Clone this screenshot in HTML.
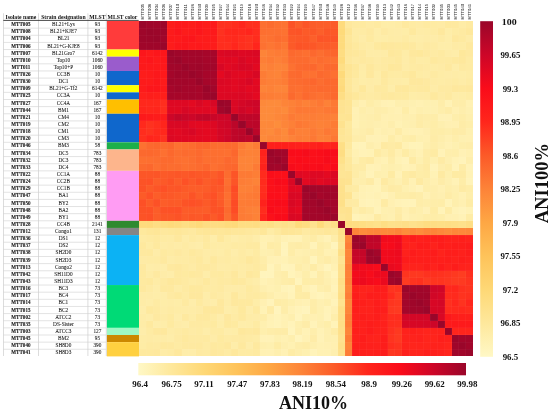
<!DOCTYPE html>
<html><head><meta charset="utf-8"><title>ANI heatmap</title>
<style>html,body{margin:0;padding:0;background:#fff;width:550px;height:414px;overflow:hidden}svg{display:block}</style>
</head><body>
<svg width="550" height="414" viewBox="0 0 550 414" shape-rendering="crispEdges">
<defs><linearGradient id="gv" x1="0" y1="1" x2="0" y2="0"><stop offset="0.0000" stop-color="#fff8c6"/><stop offset="0.1000" stop-color="#fee89c"/><stop offset="0.2000" stop-color="#fed876"/><stop offset="0.3000" stop-color="#fec35a"/><stop offset="0.4000" stop-color="#fea744"/><stop offset="0.5000" stop-color="#fd8338"/><stop offset="0.6000" stop-color="#fc5a28"/><stop offset="0.7000" stop-color="#ff261c"/><stop offset="0.8000" stop-color="#fa0c1a"/><stop offset="0.9000" stop-color="#cd0628"/><stop offset="1.0000" stop-color="#9a062a"/></linearGradient><linearGradient id="gh" x1="0" y1="0" x2="1" y2="0"><stop offset="0.0000" stop-color="#fff8c6"/><stop offset="0.1000" stop-color="#fee89c"/><stop offset="0.2000" stop-color="#fed876"/><stop offset="0.3000" stop-color="#fec35a"/><stop offset="0.4000" stop-color="#fea744"/><stop offset="0.5000" stop-color="#fd8338"/><stop offset="0.6000" stop-color="#fc5a28"/><stop offset="0.7000" stop-color="#ff261c"/><stop offset="0.8000" stop-color="#fa0c1a"/><stop offset="0.9000" stop-color="#cd0628"/><stop offset="1.0000" stop-color="#9a062a"/></linearGradient></defs>
<g><rect x="138.90" y="21.00" width="7.16" height="7.19" fill="#9a062a"/>
<rect x="146.01" y="21.00" width="7.16" height="7.19" fill="#9f062a"/>
<rect x="153.12" y="21.00" width="7.16" height="7.19" fill="#a0062a"/>
<rect x="160.23" y="21.00" width="7.16" height="7.19" fill="#9d062a"/>
<rect x="167.34" y="21.00" width="7.16" height="7.19" fill="#fd1d1b"/>
<rect x="174.45" y="21.00" width="7.16" height="7.19" fill="#fd191b"/>
<rect x="181.56" y="21.00" width="7.16" height="7.19" fill="#fd1a1b"/>
<rect x="188.67" y="21.00" width="7.16" height="7.19" fill="#fd1d1b"/>
<rect x="195.79" y="21.00" width="7.16" height="7.19" fill="#fd191b"/>
<rect x="202.90" y="21.00" width="7.16" height="7.19" fill="#fd1d1b"/>
<rect x="210.01" y="21.00" width="7.16" height="7.19" fill="#fd1a1b"/>
<rect x="217.12" y="21.00" width="7.16" height="7.19" fill="#fe311f"/>
<rect x="224.23" y="21.00" width="7.16" height="7.19" fill="#fe311e"/>
<rect x="231.34" y="21.00" width="7.16" height="7.19" fill="#ff2c1d"/>
<rect x="238.45" y="21.00" width="7.16" height="7.19" fill="#ff261c"/>
<rect x="245.56" y="21.00" width="7.16" height="7.19" fill="#fe301e"/>
<rect x="252.67" y="21.00" width="7.16" height="7.19" fill="#ff2f1e"/>
<rect x="259.78" y="21.00" width="7.16" height="7.19" fill="#fd7031"/>
<rect x="266.89" y="21.00" width="7.16" height="7.19" fill="#fc6c2f"/>
<rect x="274.00" y="21.00" width="7.16" height="7.19" fill="#fd7131"/>
<rect x="281.11" y="21.00" width="7.16" height="7.19" fill="#fd7332"/>
<rect x="288.22" y="21.00" width="7.16" height="7.19" fill="#fc5326"/>
<rect x="295.33" y="21.00" width="7.16" height="7.19" fill="#fc5f2a"/>
<rect x="302.44" y="21.00" width="7.16" height="7.19" fill="#fc5527"/>
<rect x="309.56" y="21.00" width="7.16" height="7.19" fill="#fc5c29"/>
<rect x="316.67" y="21.00" width="7.16" height="7.19" fill="#fc5e2a"/>
<rect x="323.78" y="21.00" width="7.16" height="7.19" fill="#fc5e2a"/>
<rect x="330.89" y="21.00" width="7.16" height="7.19" fill="#fc5c29"/>
<rect x="338.00" y="21.00" width="7.16" height="7.19" fill="#fedb7d"/>
<rect x="345.11" y="21.00" width="7.16" height="7.19" fill="#fee89d"/>
<rect x="352.22" y="21.00" width="7.16" height="7.19" fill="#feeaa1"/>
<rect x="359.33" y="21.00" width="7.16" height="7.19" fill="#feeaa0"/>
<rect x="366.44" y="21.00" width="7.16" height="7.19" fill="#feeba4"/>
<rect x="373.55" y="21.00" width="7.16" height="7.19" fill="#feeaa1"/>
<rect x="380.66" y="21.00" width="7.16" height="7.19" fill="#feeda8"/>
<rect x="387.77" y="21.00" width="7.16" height="7.19" fill="#feeda8"/>
<rect x="394.88" y="21.00" width="7.16" height="7.19" fill="#feeca6"/>
<rect x="401.99" y="21.00" width="7.16" height="7.19" fill="#fee99f"/>
<rect x="409.10" y="21.00" width="7.16" height="7.19" fill="#feeba3"/>
<rect x="416.21" y="21.00" width="7.16" height="7.19" fill="#feeba5"/>
<rect x="423.33" y="21.00" width="7.16" height="7.19" fill="#feeaa1"/>
<rect x="430.44" y="21.00" width="7.16" height="7.19" fill="#feeba3"/>
<rect x="437.55" y="21.00" width="7.16" height="7.19" fill="#feeba5"/>
<rect x="444.66" y="21.00" width="7.16" height="7.19" fill="#fee99e"/>
<rect x="451.77" y="21.00" width="7.16" height="7.19" fill="#fee99f"/>
<rect x="458.88" y="21.00" width="7.16" height="7.19" fill="#feeca6"/>
<rect x="465.99" y="21.00" width="7.16" height="7.19" fill="#feeaa1"/>
<rect x="138.90" y="28.14" width="7.16" height="7.19" fill="#9e062a"/>
<rect x="146.01" y="28.14" width="7.16" height="7.19" fill="#9a062a"/>
<rect x="153.12" y="28.14" width="7.16" height="7.19" fill="#9c062a"/>
<rect x="160.23" y="28.14" width="7.16" height="7.19" fill="#9d062a"/>
<rect x="167.34" y="28.14" width="7.16" height="7.19" fill="#fd1b1b"/>
<rect x="174.45" y="28.14" width="7.16" height="7.19" fill="#fc161b"/>
<rect x="181.56" y="28.14" width="7.16" height="7.19" fill="#fd1c1b"/>
<rect x="188.67" y="28.14" width="7.16" height="7.19" fill="#fd1a1b"/>
<rect x="195.79" y="28.14" width="7.16" height="7.19" fill="#fc171b"/>
<rect x="202.90" y="28.14" width="7.16" height="7.19" fill="#fd1c1b"/>
<rect x="210.01" y="28.14" width="7.16" height="7.19" fill="#fd191b"/>
<rect x="217.12" y="28.14" width="7.16" height="7.19" fill="#fe311f"/>
<rect x="224.23" y="28.14" width="7.16" height="7.19" fill="#ff281c"/>
<rect x="231.34" y="28.14" width="7.16" height="7.19" fill="#ff271c"/>
<rect x="238.45" y="28.14" width="7.16" height="7.19" fill="#ff291d"/>
<rect x="245.56" y="28.14" width="7.16" height="7.19" fill="#ff251c"/>
<rect x="252.67" y="28.14" width="7.16" height="7.19" fill="#ff2d1e"/>
<rect x="259.78" y="28.14" width="7.16" height="7.19" fill="#fd6f30"/>
<rect x="266.89" y="28.14" width="7.16" height="7.19" fill="#fd7031"/>
<rect x="274.00" y="28.14" width="7.16" height="7.19" fill="#fd7031"/>
<rect x="281.11" y="28.14" width="7.16" height="7.19" fill="#fd7231"/>
<rect x="288.22" y="28.14" width="7.16" height="7.19" fill="#fc5527"/>
<rect x="295.33" y="28.14" width="7.16" height="7.19" fill="#fc5326"/>
<rect x="302.44" y="28.14" width="7.16" height="7.19" fill="#fc5a28"/>
<rect x="309.56" y="28.14" width="7.16" height="7.19" fill="#fc5827"/>
<rect x="316.67" y="28.14" width="7.16" height="7.19" fill="#fc5f2a"/>
<rect x="323.78" y="28.14" width="7.16" height="7.19" fill="#fc5727"/>
<rect x="330.89" y="28.14" width="7.16" height="7.19" fill="#fc5827"/>
<rect x="338.00" y="28.14" width="7.16" height="7.19" fill="#feda7a"/>
<rect x="345.11" y="28.14" width="7.16" height="7.19" fill="#fee595"/>
<rect x="352.22" y="28.14" width="7.16" height="7.19" fill="#feeba5"/>
<rect x="359.33" y="28.14" width="7.16" height="7.19" fill="#feeba4"/>
<rect x="366.44" y="28.14" width="7.16" height="7.19" fill="#fee9a0"/>
<rect x="373.55" y="28.14" width="7.16" height="7.19" fill="#feeda9"/>
<rect x="380.66" y="28.14" width="7.16" height="7.19" fill="#feeaa3"/>
<rect x="387.77" y="28.14" width="7.16" height="7.19" fill="#feeca7"/>
<rect x="394.88" y="28.14" width="7.16" height="7.19" fill="#feeca8"/>
<rect x="401.99" y="28.14" width="7.16" height="7.19" fill="#feeda8"/>
<rect x="409.10" y="28.14" width="7.16" height="7.19" fill="#fee99e"/>
<rect x="416.21" y="28.14" width="7.16" height="7.19" fill="#feeca7"/>
<rect x="423.33" y="28.14" width="7.16" height="7.19" fill="#feeca6"/>
<rect x="430.44" y="28.14" width="7.16" height="7.19" fill="#feeba4"/>
<rect x="437.55" y="28.14" width="7.16" height="7.19" fill="#fee89d"/>
<rect x="444.66" y="28.14" width="7.16" height="7.19" fill="#feeda8"/>
<rect x="451.77" y="28.14" width="7.16" height="7.19" fill="#feeba3"/>
<rect x="458.88" y="28.14" width="7.16" height="7.19" fill="#feeaa1"/>
<rect x="465.99" y="28.14" width="7.16" height="7.19" fill="#fee89c"/>
<rect x="138.90" y="35.27" width="7.16" height="7.19" fill="#9d062a"/>
<rect x="146.01" y="35.27" width="7.16" height="7.19" fill="#9c062a"/>
<rect x="153.12" y="35.27" width="7.16" height="7.19" fill="#9a062a"/>
<rect x="160.23" y="35.27" width="7.16" height="7.19" fill="#a0062a"/>
<rect x="167.34" y="35.27" width="7.16" height="7.19" fill="#fd1a1b"/>
<rect x="174.45" y="35.27" width="7.16" height="7.19" fill="#fd1a1b"/>
<rect x="181.56" y="35.27" width="7.16" height="7.19" fill="#fc171b"/>
<rect x="188.67" y="35.27" width="7.16" height="7.19" fill="#fc161b"/>
<rect x="195.79" y="35.27" width="7.16" height="7.19" fill="#fd1c1b"/>
<rect x="202.90" y="35.27" width="7.16" height="7.19" fill="#fd1c1b"/>
<rect x="210.01" y="35.27" width="7.16" height="7.19" fill="#fd1b1b"/>
<rect x="217.12" y="35.27" width="7.16" height="7.19" fill="#ff2e1e"/>
<rect x="224.23" y="35.27" width="7.16" height="7.19" fill="#ff2b1d"/>
<rect x="231.34" y="35.27" width="7.16" height="7.19" fill="#ff291d"/>
<rect x="238.45" y="35.27" width="7.16" height="7.19" fill="#ff2e1e"/>
<rect x="245.56" y="35.27" width="7.16" height="7.19" fill="#fe321f"/>
<rect x="252.67" y="35.27" width="7.16" height="7.19" fill="#ff2c1d"/>
<rect x="259.78" y="35.27" width="7.16" height="7.19" fill="#fd7332"/>
<rect x="266.89" y="35.27" width="7.16" height="7.19" fill="#fd7131"/>
<rect x="274.00" y="35.27" width="7.16" height="7.19" fill="#fc6c2f"/>
<rect x="281.11" y="35.27" width="7.16" height="7.19" fill="#fd6f30"/>
<rect x="288.22" y="35.27" width="7.16" height="7.19" fill="#fc5a28"/>
<rect x="295.33" y="35.27" width="7.16" height="7.19" fill="#fc5828"/>
<rect x="302.44" y="35.27" width="7.16" height="7.19" fill="#fc5727"/>
<rect x="309.56" y="35.27" width="7.16" height="7.19" fill="#fc5f2a"/>
<rect x="316.67" y="35.27" width="7.16" height="7.19" fill="#fc5427"/>
<rect x="323.78" y="35.27" width="7.16" height="7.19" fill="#fc5627"/>
<rect x="330.89" y="35.27" width="7.16" height="7.19" fill="#fc5427"/>
<rect x="338.00" y="35.27" width="7.16" height="7.19" fill="#fedb7d"/>
<rect x="345.11" y="35.27" width="7.16" height="7.19" fill="#fee79a"/>
<rect x="352.22" y="35.27" width="7.16" height="7.19" fill="#feeba3"/>
<rect x="359.33" y="35.27" width="7.16" height="7.19" fill="#feeca8"/>
<rect x="366.44" y="35.27" width="7.16" height="7.19" fill="#feeaa0"/>
<rect x="373.55" y="35.27" width="7.16" height="7.19" fill="#feeda8"/>
<rect x="380.66" y="35.27" width="7.16" height="7.19" fill="#feeda8"/>
<rect x="387.77" y="35.27" width="7.16" height="7.19" fill="#feeca6"/>
<rect x="394.88" y="35.27" width="7.16" height="7.19" fill="#feeca7"/>
<rect x="401.99" y="35.27" width="7.16" height="7.19" fill="#feeba4"/>
<rect x="409.10" y="35.27" width="7.16" height="7.19" fill="#feeda8"/>
<rect x="416.21" y="35.27" width="7.16" height="7.19" fill="#feeda9"/>
<rect x="423.33" y="35.27" width="7.16" height="7.19" fill="#feeca7"/>
<rect x="430.44" y="35.27" width="7.16" height="7.19" fill="#feeca8"/>
<rect x="437.55" y="35.27" width="7.16" height="7.19" fill="#feeba4"/>
<rect x="444.66" y="35.27" width="7.16" height="7.19" fill="#feeda9"/>
<rect x="451.77" y="35.27" width="7.16" height="7.19" fill="#fee89d"/>
<rect x="458.88" y="35.27" width="7.16" height="7.19" fill="#feeaa0"/>
<rect x="465.99" y="35.27" width="7.16" height="7.19" fill="#feeca7"/>
<rect x="138.90" y="42.41" width="7.16" height="7.19" fill="#a0062a"/>
<rect x="146.01" y="42.41" width="7.16" height="7.19" fill="#9f062a"/>
<rect x="153.12" y="42.41" width="7.16" height="7.19" fill="#9f062a"/>
<rect x="160.23" y="42.41" width="7.16" height="7.19" fill="#9a062a"/>
<rect x="167.34" y="42.41" width="7.16" height="7.19" fill="#fd1c1b"/>
<rect x="174.45" y="42.41" width="7.16" height="7.19" fill="#fc171b"/>
<rect x="181.56" y="42.41" width="7.16" height="7.19" fill="#fc161b"/>
<rect x="188.67" y="42.41" width="7.16" height="7.19" fill="#fd1a1b"/>
<rect x="195.79" y="42.41" width="7.16" height="7.19" fill="#fd191b"/>
<rect x="202.90" y="42.41" width="7.16" height="7.19" fill="#fd1c1b"/>
<rect x="210.01" y="42.41" width="7.16" height="7.19" fill="#fd1c1b"/>
<rect x="217.12" y="42.41" width="7.16" height="7.19" fill="#ff2d1e"/>
<rect x="224.23" y="42.41" width="7.16" height="7.19" fill="#ff2e1e"/>
<rect x="231.34" y="42.41" width="7.16" height="7.19" fill="#ff261c"/>
<rect x="238.45" y="42.41" width="7.16" height="7.19" fill="#fe2f1e"/>
<rect x="245.56" y="42.41" width="7.16" height="7.19" fill="#fe321f"/>
<rect x="252.67" y="42.41" width="7.16" height="7.19" fill="#ff251c"/>
<rect x="259.78" y="42.41" width="7.16" height="7.19" fill="#fd7131"/>
<rect x="266.89" y="42.41" width="7.16" height="7.19" fill="#fd7633"/>
<rect x="274.00" y="42.41" width="7.16" height="7.19" fill="#fd7131"/>
<rect x="281.11" y="42.41" width="7.16" height="7.19" fill="#fd7733"/>
<rect x="288.22" y="42.41" width="7.16" height="7.19" fill="#fc5a28"/>
<rect x="295.33" y="42.41" width="7.16" height="7.19" fill="#fc5326"/>
<rect x="302.44" y="42.41" width="7.16" height="7.19" fill="#fc5527"/>
<rect x="309.56" y="42.41" width="7.16" height="7.19" fill="#fc5727"/>
<rect x="316.67" y="42.41" width="7.16" height="7.19" fill="#fc5d29"/>
<rect x="323.78" y="42.41" width="7.16" height="7.19" fill="#fc5c29"/>
<rect x="330.89" y="42.41" width="7.16" height="7.19" fill="#fc5e2a"/>
<rect x="338.00" y="42.41" width="7.16" height="7.19" fill="#fedb7d"/>
<rect x="345.11" y="42.41" width="7.16" height="7.19" fill="#fee698"/>
<rect x="352.22" y="42.41" width="7.16" height="7.19" fill="#fee99e"/>
<rect x="359.33" y="42.41" width="7.16" height="7.19" fill="#feeba4"/>
<rect x="366.44" y="42.41" width="7.16" height="7.19" fill="#feeca6"/>
<rect x="373.55" y="42.41" width="7.16" height="7.19" fill="#fee99e"/>
<rect x="380.66" y="42.41" width="7.16" height="7.19" fill="#fee89b"/>
<rect x="387.77" y="42.41" width="7.16" height="7.19" fill="#fee89d"/>
<rect x="394.88" y="42.41" width="7.16" height="7.19" fill="#fee99e"/>
<rect x="401.99" y="42.41" width="7.16" height="7.19" fill="#fee99d"/>
<rect x="409.10" y="42.41" width="7.16" height="7.19" fill="#fee99f"/>
<rect x="416.21" y="42.41" width="7.16" height="7.19" fill="#feeca6"/>
<rect x="423.33" y="42.41" width="7.16" height="7.19" fill="#feeaa2"/>
<rect x="430.44" y="42.41" width="7.16" height="7.19" fill="#feeba4"/>
<rect x="437.55" y="42.41" width="7.16" height="7.19" fill="#feeda9"/>
<rect x="444.66" y="42.41" width="7.16" height="7.19" fill="#feeda9"/>
<rect x="451.77" y="42.41" width="7.16" height="7.19" fill="#feeba5"/>
<rect x="458.88" y="42.41" width="7.16" height="7.19" fill="#feeca5"/>
<rect x="465.99" y="42.41" width="7.16" height="7.19" fill="#fee99f"/>
<rect x="138.90" y="49.54" width="7.16" height="7.19" fill="#fc161b"/>
<rect x="146.01" y="49.54" width="7.16" height="7.19" fill="#fd1a1b"/>
<rect x="153.12" y="49.54" width="7.16" height="7.19" fill="#fc161b"/>
<rect x="160.23" y="49.54" width="7.16" height="7.19" fill="#fc161b"/>
<rect x="167.34" y="49.54" width="7.16" height="7.19" fill="#9a062a"/>
<rect x="174.45" y="49.54" width="7.16" height="7.19" fill="#9f062a"/>
<rect x="181.56" y="49.54" width="7.16" height="7.19" fill="#a2062a"/>
<rect x="188.67" y="49.54" width="7.16" height="7.19" fill="#a3062a"/>
<rect x="195.79" y="49.54" width="7.16" height="7.19" fill="#a3062a"/>
<rect x="202.90" y="49.54" width="7.16" height="7.19" fill="#a6062a"/>
<rect x="210.01" y="49.54" width="7.16" height="7.19" fill="#a6062a"/>
<rect x="217.12" y="49.54" width="7.16" height="7.19" fill="#dc0823"/>
<rect x="224.23" y="49.54" width="7.16" height="7.19" fill="#d90824"/>
<rect x="231.34" y="49.54" width="7.16" height="7.19" fill="#d90824"/>
<rect x="238.45" y="49.54" width="7.16" height="7.19" fill="#de0823"/>
<rect x="245.56" y="49.54" width="7.16" height="7.19" fill="#dc0823"/>
<rect x="252.67" y="49.54" width="7.16" height="7.19" fill="#da0824"/>
<rect x="259.78" y="49.54" width="7.16" height="7.19" fill="#fd8438"/>
<rect x="266.89" y="49.54" width="7.16" height="7.19" fill="#fd7e36"/>
<rect x="274.00" y="49.54" width="7.16" height="7.19" fill="#fd7b35"/>
<rect x="281.11" y="49.54" width="7.16" height="7.19" fill="#fd7c35"/>
<rect x="288.22" y="49.54" width="7.16" height="7.19" fill="#fc692e"/>
<rect x="295.33" y="49.54" width="7.16" height="7.19" fill="#fc6c2f"/>
<rect x="302.44" y="49.54" width="7.16" height="7.19" fill="#fd6f30"/>
<rect x="309.56" y="49.54" width="7.16" height="7.19" fill="#fc682e"/>
<rect x="316.67" y="49.54" width="7.16" height="7.19" fill="#fc6e30"/>
<rect x="323.78" y="49.54" width="7.16" height="7.19" fill="#fc682d"/>
<rect x="330.89" y="49.54" width="7.16" height="7.19" fill="#fc662d"/>
<rect x="338.00" y="49.54" width="7.16" height="7.19" fill="#fedd82"/>
<rect x="345.11" y="49.54" width="7.16" height="7.19" fill="#fee79a"/>
<rect x="352.22" y="49.54" width="7.16" height="7.19" fill="#fee89c"/>
<rect x="359.33" y="49.54" width="7.16" height="7.19" fill="#fee99f"/>
<rect x="366.44" y="49.54" width="7.16" height="7.19" fill="#feeca7"/>
<rect x="373.55" y="49.54" width="7.16" height="7.19" fill="#feeca7"/>
<rect x="380.66" y="49.54" width="7.16" height="7.19" fill="#feeca7"/>
<rect x="387.77" y="49.54" width="7.16" height="7.19" fill="#fee89c"/>
<rect x="394.88" y="49.54" width="7.16" height="7.19" fill="#fee99e"/>
<rect x="401.99" y="49.54" width="7.16" height="7.19" fill="#feeca7"/>
<rect x="409.10" y="49.54" width="7.16" height="7.19" fill="#fee89d"/>
<rect x="416.21" y="49.54" width="7.16" height="7.19" fill="#fee89b"/>
<rect x="423.33" y="49.54" width="7.16" height="7.19" fill="#fee9a0"/>
<rect x="430.44" y="49.54" width="7.16" height="7.19" fill="#feeba4"/>
<rect x="437.55" y="49.54" width="7.16" height="7.19" fill="#feeaa1"/>
<rect x="444.66" y="49.54" width="7.16" height="7.19" fill="#feeca7"/>
<rect x="451.77" y="49.54" width="7.16" height="7.19" fill="#feeda9"/>
<rect x="458.88" y="49.54" width="7.16" height="7.19" fill="#fee89b"/>
<rect x="465.99" y="49.54" width="7.16" height="7.19" fill="#fee9a0"/>
<rect x="138.90" y="56.68" width="7.16" height="7.19" fill="#fd191b"/>
<rect x="146.01" y="56.68" width="7.16" height="7.19" fill="#fc161b"/>
<rect x="153.12" y="56.68" width="7.16" height="7.19" fill="#fd1a1b"/>
<rect x="160.23" y="56.68" width="7.16" height="7.19" fill="#fc171b"/>
<rect x="167.34" y="56.68" width="7.16" height="7.19" fill="#9f062a"/>
<rect x="174.45" y="56.68" width="7.16" height="7.19" fill="#9a062a"/>
<rect x="181.56" y="56.68" width="7.16" height="7.19" fill="#a3062a"/>
<rect x="188.67" y="56.68" width="7.16" height="7.19" fill="#a3062a"/>
<rect x="195.79" y="56.68" width="7.16" height="7.19" fill="#a2062a"/>
<rect x="202.90" y="56.68" width="7.16" height="7.19" fill="#a6062a"/>
<rect x="210.01" y="56.68" width="7.16" height="7.19" fill="#a4062a"/>
<rect x="217.12" y="56.68" width="7.16" height="7.19" fill="#e10922"/>
<rect x="224.23" y="56.68" width="7.16" height="7.19" fill="#df0822"/>
<rect x="231.34" y="56.68" width="7.16" height="7.19" fill="#e20921"/>
<rect x="238.45" y="56.68" width="7.16" height="7.19" fill="#d80824"/>
<rect x="245.56" y="56.68" width="7.16" height="7.19" fill="#e00822"/>
<rect x="252.67" y="56.68" width="7.16" height="7.19" fill="#de0823"/>
<rect x="259.78" y="56.68" width="7.16" height="7.19" fill="#fd7f36"/>
<rect x="266.89" y="56.68" width="7.16" height="7.19" fill="#fd7b35"/>
<rect x="274.00" y="56.68" width="7.16" height="7.19" fill="#fd8037"/>
<rect x="281.11" y="56.68" width="7.16" height="7.19" fill="#fd7b35"/>
<rect x="288.22" y="56.68" width="7.16" height="7.19" fill="#fc6c2f"/>
<rect x="295.33" y="56.68" width="7.16" height="7.19" fill="#fc6b2f"/>
<rect x="302.44" y="56.68" width="7.16" height="7.19" fill="#fc6b2f"/>
<rect x="309.56" y="56.68" width="7.16" height="7.19" fill="#fd7131"/>
<rect x="316.67" y="56.68" width="7.16" height="7.19" fill="#fc6c2f"/>
<rect x="323.78" y="56.68" width="7.16" height="7.19" fill="#fd6f30"/>
<rect x="330.89" y="56.68" width="7.16" height="7.19" fill="#fd7131"/>
<rect x="338.00" y="56.68" width="7.16" height="7.19" fill="#fedb7d"/>
<rect x="345.11" y="56.68" width="7.16" height="7.19" fill="#fee89d"/>
<rect x="352.22" y="56.68" width="7.16" height="7.19" fill="#feeaa2"/>
<rect x="359.33" y="56.68" width="7.16" height="7.19" fill="#fee99f"/>
<rect x="366.44" y="56.68" width="7.16" height="7.19" fill="#feeaa1"/>
<rect x="373.55" y="56.68" width="7.16" height="7.19" fill="#feeba5"/>
<rect x="380.66" y="56.68" width="7.16" height="7.19" fill="#feeaa2"/>
<rect x="387.77" y="56.68" width="7.16" height="7.19" fill="#feeaa1"/>
<rect x="394.88" y="56.68" width="7.16" height="7.19" fill="#fee99e"/>
<rect x="401.99" y="56.68" width="7.16" height="7.19" fill="#feeca8"/>
<rect x="409.10" y="56.68" width="7.16" height="7.19" fill="#feeaa1"/>
<rect x="416.21" y="56.68" width="7.16" height="7.19" fill="#feeca6"/>
<rect x="423.33" y="56.68" width="7.16" height="7.19" fill="#feeca5"/>
<rect x="430.44" y="56.68" width="7.16" height="7.19" fill="#fee99e"/>
<rect x="437.55" y="56.68" width="7.16" height="7.19" fill="#feeaa2"/>
<rect x="444.66" y="56.68" width="7.16" height="7.19" fill="#feeaa1"/>
<rect x="451.77" y="56.68" width="7.16" height="7.19" fill="#fee99e"/>
<rect x="458.88" y="56.68" width="7.16" height="7.19" fill="#fee89c"/>
<rect x="465.99" y="56.68" width="7.16" height="7.19" fill="#feeba3"/>
<rect x="138.90" y="63.82" width="7.16" height="7.19" fill="#fc191b"/>
<rect x="146.01" y="63.82" width="7.16" height="7.19" fill="#fd191b"/>
<rect x="153.12" y="63.82" width="7.16" height="7.19" fill="#fd191b"/>
<rect x="160.23" y="63.82" width="7.16" height="7.19" fill="#fc181b"/>
<rect x="167.34" y="63.82" width="7.16" height="7.19" fill="#a2062a"/>
<rect x="174.45" y="63.82" width="7.16" height="7.19" fill="#a1062a"/>
<rect x="181.56" y="63.82" width="7.16" height="7.19" fill="#9a062a"/>
<rect x="188.67" y="63.82" width="7.16" height="7.19" fill="#a1062a"/>
<rect x="195.79" y="63.82" width="7.16" height="7.19" fill="#9f062a"/>
<rect x="202.90" y="63.82" width="7.16" height="7.19" fill="#a3062a"/>
<rect x="210.01" y="63.82" width="7.16" height="7.19" fill="#a2062a"/>
<rect x="217.12" y="63.82" width="7.16" height="7.19" fill="#d80725"/>
<rect x="224.23" y="63.82" width="7.16" height="7.19" fill="#e10922"/>
<rect x="231.34" y="63.82" width="7.16" height="7.19" fill="#dd0823"/>
<rect x="238.45" y="63.82" width="7.16" height="7.19" fill="#d80725"/>
<rect x="245.56" y="63.82" width="7.16" height="7.19" fill="#d90824"/>
<rect x="252.67" y="63.82" width="7.16" height="7.19" fill="#e20921"/>
<rect x="259.78" y="63.82" width="7.16" height="7.19" fill="#fd8438"/>
<rect x="266.89" y="63.82" width="7.16" height="7.19" fill="#fd8037"/>
<rect x="274.00" y="63.82" width="7.16" height="7.19" fill="#fd8438"/>
<rect x="281.11" y="63.82" width="7.16" height="7.19" fill="#fd8338"/>
<rect x="288.22" y="63.82" width="7.16" height="7.19" fill="#fd7131"/>
<rect x="295.33" y="63.82" width="7.16" height="7.19" fill="#fc6a2e"/>
<rect x="302.44" y="63.82" width="7.16" height="7.19" fill="#fc682e"/>
<rect x="309.56" y="63.82" width="7.16" height="7.19" fill="#fc672d"/>
<rect x="316.67" y="63.82" width="7.16" height="7.19" fill="#fd7030"/>
<rect x="323.78" y="63.82" width="7.16" height="7.19" fill="#fc692e"/>
<rect x="330.89" y="63.82" width="7.16" height="7.19" fill="#fc6a2e"/>
<rect x="338.00" y="63.82" width="7.16" height="7.19" fill="#fedf86"/>
<rect x="345.11" y="63.82" width="7.16" height="7.19" fill="#fee594"/>
<rect x="352.22" y="63.82" width="7.16" height="7.19" fill="#fee89b"/>
<rect x="359.33" y="63.82" width="7.16" height="7.19" fill="#feeca6"/>
<rect x="366.44" y="63.82" width="7.16" height="7.19" fill="#fee89c"/>
<rect x="373.55" y="63.82" width="7.16" height="7.19" fill="#feeba3"/>
<rect x="380.66" y="63.82" width="7.16" height="7.19" fill="#feeaa2"/>
<rect x="387.77" y="63.82" width="7.16" height="7.19" fill="#fee89b"/>
<rect x="394.88" y="63.82" width="7.16" height="7.19" fill="#fee89d"/>
<rect x="401.99" y="63.82" width="7.16" height="7.19" fill="#feeca7"/>
<rect x="409.10" y="63.82" width="7.16" height="7.19" fill="#feeba3"/>
<rect x="416.21" y="63.82" width="7.16" height="7.19" fill="#feeaa2"/>
<rect x="423.33" y="63.82" width="7.16" height="7.19" fill="#feeba4"/>
<rect x="430.44" y="63.82" width="7.16" height="7.19" fill="#feeca6"/>
<rect x="437.55" y="63.82" width="7.16" height="7.19" fill="#feeba5"/>
<rect x="444.66" y="63.82" width="7.16" height="7.19" fill="#fee99f"/>
<rect x="451.77" y="63.82" width="7.16" height="7.19" fill="#feeda9"/>
<rect x="458.88" y="63.82" width="7.16" height="7.19" fill="#feeaa1"/>
<rect x="465.99" y="63.82" width="7.16" height="7.19" fill="#feeba3"/>
<rect x="138.90" y="70.95" width="7.16" height="7.19" fill="#fd1d1b"/>
<rect x="146.01" y="70.95" width="7.16" height="7.19" fill="#fd1b1b"/>
<rect x="153.12" y="70.95" width="7.16" height="7.19" fill="#fc181b"/>
<rect x="160.23" y="70.95" width="7.16" height="7.19" fill="#fd191b"/>
<rect x="167.34" y="70.95" width="7.16" height="7.19" fill="#a4062a"/>
<rect x="174.45" y="70.95" width="7.16" height="7.19" fill="#9e062a"/>
<rect x="181.56" y="70.95" width="7.16" height="7.19" fill="#a0062a"/>
<rect x="188.67" y="70.95" width="7.16" height="7.19" fill="#9a062a"/>
<rect x="195.79" y="70.95" width="7.16" height="7.19" fill="#9f062a"/>
<rect x="202.90" y="70.95" width="7.16" height="7.19" fill="#a7062a"/>
<rect x="210.01" y="70.95" width="7.16" height="7.19" fill="#a6062a"/>
<rect x="217.12" y="70.95" width="7.16" height="7.19" fill="#e40921"/>
<rect x="224.23" y="70.95" width="7.16" height="7.19" fill="#da0824"/>
<rect x="231.34" y="70.95" width="7.16" height="7.19" fill="#e10922"/>
<rect x="238.45" y="70.95" width="7.16" height="7.19" fill="#e20921"/>
<rect x="245.56" y="70.95" width="7.16" height="7.19" fill="#df0822"/>
<rect x="252.67" y="70.95" width="7.16" height="7.19" fill="#d80824"/>
<rect x="259.78" y="70.95" width="7.16" height="7.19" fill="#fd7c35"/>
<rect x="266.89" y="70.95" width="7.16" height="7.19" fill="#fd8238"/>
<rect x="274.00" y="70.95" width="7.16" height="7.19" fill="#fd8438"/>
<rect x="281.11" y="70.95" width="7.16" height="7.19" fill="#fd7b35"/>
<rect x="288.22" y="70.95" width="7.16" height="7.19" fill="#fc6b2f"/>
<rect x="295.33" y="70.95" width="7.16" height="7.19" fill="#fc692e"/>
<rect x="302.44" y="70.95" width="7.16" height="7.19" fill="#fd7031"/>
<rect x="309.56" y="70.95" width="7.16" height="7.19" fill="#fd7131"/>
<rect x="316.67" y="70.95" width="7.16" height="7.19" fill="#fc692e"/>
<rect x="323.78" y="70.95" width="7.16" height="7.19" fill="#fc6c2f"/>
<rect x="330.89" y="70.95" width="7.16" height="7.19" fill="#fd7131"/>
<rect x="338.00" y="70.95" width="7.16" height="7.19" fill="#feda7b"/>
<rect x="345.11" y="70.95" width="7.16" height="7.19" fill="#fee697"/>
<rect x="352.22" y="70.95" width="7.16" height="7.19" fill="#fee99e"/>
<rect x="359.33" y="70.95" width="7.16" height="7.19" fill="#feeda8"/>
<rect x="366.44" y="70.95" width="7.16" height="7.19" fill="#fee89d"/>
<rect x="373.55" y="70.95" width="7.16" height="7.19" fill="#feeda8"/>
<rect x="380.66" y="70.95" width="7.16" height="7.19" fill="#fee89d"/>
<rect x="387.77" y="70.95" width="7.16" height="7.19" fill="#feeba3"/>
<rect x="394.88" y="70.95" width="7.16" height="7.19" fill="#feeba4"/>
<rect x="401.99" y="70.95" width="7.16" height="7.19" fill="#feeaa1"/>
<rect x="409.10" y="70.95" width="7.16" height="7.19" fill="#fee89c"/>
<rect x="416.21" y="70.95" width="7.16" height="7.19" fill="#feeca5"/>
<rect x="423.33" y="70.95" width="7.16" height="7.19" fill="#feeca7"/>
<rect x="430.44" y="70.95" width="7.16" height="7.19" fill="#feeaa2"/>
<rect x="437.55" y="70.95" width="7.16" height="7.19" fill="#feeca6"/>
<rect x="444.66" y="70.95" width="7.16" height="7.19" fill="#feeca8"/>
<rect x="451.77" y="70.95" width="7.16" height="7.19" fill="#feeca7"/>
<rect x="458.88" y="70.95" width="7.16" height="7.19" fill="#feeda8"/>
<rect x="465.99" y="70.95" width="7.16" height="7.19" fill="#feeca6"/>
<rect x="138.90" y="78.09" width="7.16" height="7.19" fill="#fd1b1b"/>
<rect x="146.01" y="78.09" width="7.16" height="7.19" fill="#fd1b1b"/>
<rect x="153.12" y="78.09" width="7.16" height="7.19" fill="#fc171b"/>
<rect x="160.23" y="78.09" width="7.16" height="7.19" fill="#fd1b1b"/>
<rect x="167.34" y="78.09" width="7.16" height="7.19" fill="#a1062a"/>
<rect x="174.45" y="78.09" width="7.16" height="7.19" fill="#a3062a"/>
<rect x="181.56" y="78.09" width="7.16" height="7.19" fill="#a2062a"/>
<rect x="188.67" y="78.09" width="7.16" height="7.19" fill="#a4062a"/>
<rect x="195.79" y="78.09" width="7.16" height="7.19" fill="#9a062a"/>
<rect x="202.90" y="78.09" width="7.16" height="7.19" fill="#a6062a"/>
<rect x="210.01" y="78.09" width="7.16" height="7.19" fill="#a70629"/>
<rect x="217.12" y="78.09" width="7.16" height="7.19" fill="#db0824"/>
<rect x="224.23" y="78.09" width="7.16" height="7.19" fill="#dd0823"/>
<rect x="231.34" y="78.09" width="7.16" height="7.19" fill="#e20922"/>
<rect x="238.45" y="78.09" width="7.16" height="7.19" fill="#de0823"/>
<rect x="245.56" y="78.09" width="7.16" height="7.19" fill="#d80725"/>
<rect x="252.67" y="78.09" width="7.16" height="7.19" fill="#e30921"/>
<rect x="259.78" y="78.09" width="7.16" height="7.19" fill="#fd7c35"/>
<rect x="266.89" y="78.09" width="7.16" height="7.19" fill="#fd8037"/>
<rect x="274.00" y="78.09" width="7.16" height="7.19" fill="#fd8037"/>
<rect x="281.11" y="78.09" width="7.16" height="7.19" fill="#fd7c35"/>
<rect x="288.22" y="78.09" width="7.16" height="7.19" fill="#fc6d2f"/>
<rect x="295.33" y="78.09" width="7.16" height="7.19" fill="#fc6b2f"/>
<rect x="302.44" y="78.09" width="7.16" height="7.19" fill="#fc692e"/>
<rect x="309.56" y="78.09" width="7.16" height="7.19" fill="#fc662d"/>
<rect x="316.67" y="78.09" width="7.16" height="7.19" fill="#fc6d30"/>
<rect x="323.78" y="78.09" width="7.16" height="7.19" fill="#fc682d"/>
<rect x="330.89" y="78.09" width="7.16" height="7.19" fill="#fc692e"/>
<rect x="338.00" y="78.09" width="7.16" height="7.19" fill="#fedc7f"/>
<rect x="345.11" y="78.09" width="7.16" height="7.19" fill="#fee79a"/>
<rect x="352.22" y="78.09" width="7.16" height="7.19" fill="#feeba4"/>
<rect x="359.33" y="78.09" width="7.16" height="7.19" fill="#feeda8"/>
<rect x="366.44" y="78.09" width="7.16" height="7.19" fill="#feeca7"/>
<rect x="373.55" y="78.09" width="7.16" height="7.19" fill="#feeda8"/>
<rect x="380.66" y="78.09" width="7.16" height="7.19" fill="#fee99f"/>
<rect x="387.77" y="78.09" width="7.16" height="7.19" fill="#feeca6"/>
<rect x="394.88" y="78.09" width="7.16" height="7.19" fill="#feeca7"/>
<rect x="401.99" y="78.09" width="7.16" height="7.19" fill="#feeda8"/>
<rect x="409.10" y="78.09" width="7.16" height="7.19" fill="#fee89d"/>
<rect x="416.21" y="78.09" width="7.16" height="7.19" fill="#fee89d"/>
<rect x="423.33" y="78.09" width="7.16" height="7.19" fill="#fee9a0"/>
<rect x="430.44" y="78.09" width="7.16" height="7.19" fill="#feeba5"/>
<rect x="437.55" y="78.09" width="7.16" height="7.19" fill="#feeca6"/>
<rect x="444.66" y="78.09" width="7.16" height="7.19" fill="#feeba5"/>
<rect x="451.77" y="78.09" width="7.16" height="7.19" fill="#feeba3"/>
<rect x="458.88" y="78.09" width="7.16" height="7.19" fill="#feeca7"/>
<rect x="465.99" y="78.09" width="7.16" height="7.19" fill="#feeba3"/>
<rect x="138.90" y="85.23" width="7.16" height="7.19" fill="#fd1b1b"/>
<rect x="146.01" y="85.23" width="7.16" height="7.19" fill="#fc161b"/>
<rect x="153.12" y="85.23" width="7.16" height="7.19" fill="#fc161b"/>
<rect x="160.23" y="85.23" width="7.16" height="7.19" fill="#fd191b"/>
<rect x="167.34" y="85.23" width="7.16" height="7.19" fill="#a6062a"/>
<rect x="174.45" y="85.23" width="7.16" height="7.19" fill="#a1062a"/>
<rect x="181.56" y="85.23" width="7.16" height="7.19" fill="#a5062a"/>
<rect x="188.67" y="85.23" width="7.16" height="7.19" fill="#a5062a"/>
<rect x="195.79" y="85.23" width="7.16" height="7.19" fill="#a70629"/>
<rect x="202.90" y="85.23" width="7.16" height="7.19" fill="#9a062a"/>
<rect x="210.01" y="85.23" width="7.16" height="7.19" fill="#a2062a"/>
<rect x="217.12" y="85.23" width="7.16" height="7.19" fill="#de0823"/>
<rect x="224.23" y="85.23" width="7.16" height="7.19" fill="#de0823"/>
<rect x="231.34" y="85.23" width="7.16" height="7.19" fill="#e20922"/>
<rect x="238.45" y="85.23" width="7.16" height="7.19" fill="#de0823"/>
<rect x="245.56" y="85.23" width="7.16" height="7.19" fill="#e40921"/>
<rect x="252.67" y="85.23" width="7.16" height="7.19" fill="#e10922"/>
<rect x="259.78" y="85.23" width="7.16" height="7.19" fill="#fd8438"/>
<rect x="266.89" y="85.23" width="7.16" height="7.19" fill="#fd8137"/>
<rect x="274.00" y="85.23" width="7.16" height="7.19" fill="#fd8539"/>
<rect x="281.11" y="85.23" width="7.16" height="7.19" fill="#fd8539"/>
<rect x="288.22" y="85.23" width="7.16" height="7.19" fill="#fc6e30"/>
<rect x="295.33" y="85.23" width="7.16" height="7.19" fill="#fd6f30"/>
<rect x="302.44" y="85.23" width="7.16" height="7.19" fill="#fc6b2e"/>
<rect x="309.56" y="85.23" width="7.16" height="7.19" fill="#fc6b2f"/>
<rect x="316.67" y="85.23" width="7.16" height="7.19" fill="#fc692e"/>
<rect x="323.78" y="85.23" width="7.16" height="7.19" fill="#fc6a2e"/>
<rect x="330.89" y="85.23" width="7.16" height="7.19" fill="#fc692e"/>
<rect x="338.00" y="85.23" width="7.16" height="7.19" fill="#feda7c"/>
<rect x="345.11" y="85.23" width="7.16" height="7.19" fill="#fee79a"/>
<rect x="352.22" y="85.23" width="7.16" height="7.19" fill="#feeba5"/>
<rect x="359.33" y="85.23" width="7.16" height="7.19" fill="#fee89b"/>
<rect x="366.44" y="85.23" width="7.16" height="7.19" fill="#feeca7"/>
<rect x="373.55" y="85.23" width="7.16" height="7.19" fill="#fee99f"/>
<rect x="380.66" y="85.23" width="7.16" height="7.19" fill="#feeaa0"/>
<rect x="387.77" y="85.23" width="7.16" height="7.19" fill="#feeda9"/>
<rect x="394.88" y="85.23" width="7.16" height="7.19" fill="#fee89d"/>
<rect x="401.99" y="85.23" width="7.16" height="7.19" fill="#fee89c"/>
<rect x="409.10" y="85.23" width="7.16" height="7.19" fill="#feeaa0"/>
<rect x="416.21" y="85.23" width="7.16" height="7.19" fill="#fee99f"/>
<rect x="423.33" y="85.23" width="7.16" height="7.19" fill="#fee99e"/>
<rect x="430.44" y="85.23" width="7.16" height="7.19" fill="#feeca7"/>
<rect x="437.55" y="85.23" width="7.16" height="7.19" fill="#feeaa2"/>
<rect x="444.66" y="85.23" width="7.16" height="7.19" fill="#feeaa2"/>
<rect x="451.77" y="85.23" width="7.16" height="7.19" fill="#fee89d"/>
<rect x="458.88" y="85.23" width="7.16" height="7.19" fill="#fee99e"/>
<rect x="465.99" y="85.23" width="7.16" height="7.19" fill="#fee89d"/>
<rect x="138.90" y="92.36" width="7.16" height="7.19" fill="#fe201c"/>
<rect x="146.01" y="92.36" width="7.16" height="7.19" fill="#fd1e1b"/>
<rect x="153.12" y="92.36" width="7.16" height="7.19" fill="#fe1f1b"/>
<rect x="160.23" y="92.36" width="7.16" height="7.19" fill="#fe1f1b"/>
<rect x="167.34" y="92.36" width="7.16" height="7.19" fill="#a6062a"/>
<rect x="174.45" y="92.36" width="7.16" height="7.19" fill="#a70629"/>
<rect x="181.56" y="92.36" width="7.16" height="7.19" fill="#a6062a"/>
<rect x="188.67" y="92.36" width="7.16" height="7.19" fill="#a5062a"/>
<rect x="195.79" y="92.36" width="7.16" height="7.19" fill="#a7062a"/>
<rect x="202.90" y="92.36" width="7.16" height="7.19" fill="#9f062a"/>
<rect x="210.01" y="92.36" width="7.16" height="7.19" fill="#9a062a"/>
<rect x="217.12" y="92.36" width="7.16" height="7.19" fill="#dd0823"/>
<rect x="224.23" y="92.36" width="7.16" height="7.19" fill="#dc0823"/>
<rect x="231.34" y="92.36" width="7.16" height="7.19" fill="#dc0823"/>
<rect x="238.45" y="92.36" width="7.16" height="7.19" fill="#db0824"/>
<rect x="245.56" y="92.36" width="7.16" height="7.19" fill="#de0823"/>
<rect x="252.67" y="92.36" width="7.16" height="7.19" fill="#e40921"/>
<rect x="259.78" y="92.36" width="7.16" height="7.19" fill="#fd7c35"/>
<rect x="266.89" y="92.36" width="7.16" height="7.19" fill="#fd7d35"/>
<rect x="274.00" y="92.36" width="7.16" height="7.19" fill="#fd7f37"/>
<rect x="281.11" y="92.36" width="7.16" height="7.19" fill="#fd7f36"/>
<rect x="288.22" y="92.36" width="7.16" height="7.19" fill="#fc6a2e"/>
<rect x="295.33" y="92.36" width="7.16" height="7.19" fill="#fd7131"/>
<rect x="302.44" y="92.36" width="7.16" height="7.19" fill="#fc692e"/>
<rect x="309.56" y="92.36" width="7.16" height="7.19" fill="#fc6e30"/>
<rect x="316.67" y="92.36" width="7.16" height="7.19" fill="#fd7131"/>
<rect x="323.78" y="92.36" width="7.16" height="7.19" fill="#fc6e30"/>
<rect x="330.89" y="92.36" width="7.16" height="7.19" fill="#fc692e"/>
<rect x="338.00" y="92.36" width="7.16" height="7.19" fill="#fede85"/>
<rect x="345.11" y="92.36" width="7.16" height="7.19" fill="#fee596"/>
<rect x="352.22" y="92.36" width="7.16" height="7.19" fill="#fee89b"/>
<rect x="359.33" y="92.36" width="7.16" height="7.19" fill="#feeaa2"/>
<rect x="366.44" y="92.36" width="7.16" height="7.19" fill="#feeba4"/>
<rect x="373.55" y="92.36" width="7.16" height="7.19" fill="#feeaa2"/>
<rect x="380.66" y="92.36" width="7.16" height="7.19" fill="#fee99f"/>
<rect x="387.77" y="92.36" width="7.16" height="7.19" fill="#fee99e"/>
<rect x="394.88" y="92.36" width="7.16" height="7.19" fill="#feeaa0"/>
<rect x="401.99" y="92.36" width="7.16" height="7.19" fill="#feeaa0"/>
<rect x="409.10" y="92.36" width="7.16" height="7.19" fill="#feeda8"/>
<rect x="416.21" y="92.36" width="7.16" height="7.19" fill="#feeca7"/>
<rect x="423.33" y="92.36" width="7.16" height="7.19" fill="#feeca6"/>
<rect x="430.44" y="92.36" width="7.16" height="7.19" fill="#fee99e"/>
<rect x="437.55" y="92.36" width="7.16" height="7.19" fill="#feeba5"/>
<rect x="444.66" y="92.36" width="7.16" height="7.19" fill="#feeaa1"/>
<rect x="451.77" y="92.36" width="7.16" height="7.19" fill="#feeda9"/>
<rect x="458.88" y="92.36" width="7.16" height="7.19" fill="#feeda8"/>
<rect x="465.99" y="92.36" width="7.16" height="7.19" fill="#feeca5"/>
<rect x="138.90" y="99.50" width="7.16" height="7.19" fill="#ff281c"/>
<rect x="146.01" y="99.50" width="7.16" height="7.19" fill="#ff281c"/>
<rect x="153.12" y="99.50" width="7.16" height="7.19" fill="#ff281c"/>
<rect x="160.23" y="99.50" width="7.16" height="7.19" fill="#ff2e1e"/>
<rect x="167.34" y="99.50" width="7.16" height="7.19" fill="#de0823"/>
<rect x="174.45" y="99.50" width="7.16" height="7.19" fill="#de0823"/>
<rect x="181.56" y="99.50" width="7.16" height="7.19" fill="#de0823"/>
<rect x="188.67" y="99.50" width="7.16" height="7.19" fill="#e30921"/>
<rect x="195.79" y="99.50" width="7.16" height="7.19" fill="#d90824"/>
<rect x="202.90" y="99.50" width="7.16" height="7.19" fill="#e20922"/>
<rect x="210.01" y="99.50" width="7.16" height="7.19" fill="#d80725"/>
<rect x="217.12" y="99.50" width="7.16" height="7.19" fill="#9a062a"/>
<rect x="224.23" y="99.50" width="7.16" height="7.19" fill="#9d062a"/>
<rect x="231.34" y="99.50" width="7.16" height="7.19" fill="#da0824"/>
<rect x="238.45" y="99.50" width="7.16" height="7.19" fill="#d40726"/>
<rect x="245.56" y="99.50" width="7.16" height="7.19" fill="#cf0627"/>
<rect x="252.67" y="99.50" width="7.16" height="7.19" fill="#cd0628"/>
<rect x="259.78" y="99.50" width="7.16" height="7.19" fill="#fd893a"/>
<rect x="266.89" y="99.50" width="7.16" height="7.19" fill="#fd8b3b"/>
<rect x="274.00" y="99.50" width="7.16" height="7.19" fill="#fd8b3b"/>
<rect x="281.11" y="99.50" width="7.16" height="7.19" fill="#fd8438"/>
<rect x="288.22" y="99.50" width="7.16" height="7.19" fill="#fd8137"/>
<rect x="295.33" y="99.50" width="7.16" height="7.19" fill="#fd7c35"/>
<rect x="302.44" y="99.50" width="7.16" height="7.19" fill="#fd8137"/>
<rect x="309.56" y="99.50" width="7.16" height="7.19" fill="#fd7d36"/>
<rect x="316.67" y="99.50" width="7.16" height="7.19" fill="#fd7834"/>
<rect x="323.78" y="99.50" width="7.16" height="7.19" fill="#fd8137"/>
<rect x="330.89" y="99.50" width="7.16" height="7.19" fill="#fd7934"/>
<rect x="338.00" y="99.50" width="7.16" height="7.19" fill="#fee391"/>
<rect x="345.11" y="99.50" width="7.16" height="7.19" fill="#fee594"/>
<rect x="352.22" y="99.50" width="7.16" height="7.19" fill="#feeeab"/>
<rect x="359.33" y="99.50" width="7.16" height="7.19" fill="#fff0b2"/>
<rect x="366.44" y="99.50" width="7.16" height="7.19" fill="#feeda8"/>
<rect x="373.55" y="99.50" width="7.16" height="7.19" fill="#feefae"/>
<rect x="380.66" y="99.50" width="7.16" height="7.19" fill="#fff1b5"/>
<rect x="387.77" y="99.50" width="7.16" height="7.19" fill="#fff2b5"/>
<rect x="394.88" y="99.50" width="7.16" height="7.19" fill="#feefae"/>
<rect x="401.99" y="99.50" width="7.16" height="7.19" fill="#feefaf"/>
<rect x="409.10" y="99.50" width="7.16" height="7.19" fill="#fef0b1"/>
<rect x="416.21" y="99.50" width="7.16" height="7.19" fill="#fff1b3"/>
<rect x="423.33" y="99.50" width="7.16" height="7.19" fill="#fef0b0"/>
<rect x="430.44" y="99.50" width="7.16" height="7.19" fill="#fef0b1"/>
<rect x="437.55" y="99.50" width="7.16" height="7.19" fill="#feeda9"/>
<rect x="444.66" y="99.50" width="7.16" height="7.19" fill="#fff2b5"/>
<rect x="451.77" y="99.50" width="7.16" height="7.19" fill="#feedaa"/>
<rect x="458.88" y="99.50" width="7.16" height="7.19" fill="#feeda9"/>
<rect x="465.99" y="99.50" width="7.16" height="7.19" fill="#fff1b3"/>
<rect x="138.90" y="106.63" width="7.16" height="7.19" fill="#ff251c"/>
<rect x="146.01" y="106.63" width="7.16" height="7.19" fill="#ff271c"/>
<rect x="153.12" y="106.63" width="7.16" height="7.19" fill="#ff251c"/>
<rect x="160.23" y="106.63" width="7.16" height="7.19" fill="#ff2e1e"/>
<rect x="167.34" y="106.63" width="7.16" height="7.19" fill="#df0822"/>
<rect x="174.45" y="106.63" width="7.16" height="7.19" fill="#df0822"/>
<rect x="181.56" y="106.63" width="7.16" height="7.19" fill="#d70725"/>
<rect x="188.67" y="106.63" width="7.16" height="7.19" fill="#dd0823"/>
<rect x="195.79" y="106.63" width="7.16" height="7.19" fill="#e00822"/>
<rect x="202.90" y="106.63" width="7.16" height="7.19" fill="#df0823"/>
<rect x="210.01" y="106.63" width="7.16" height="7.19" fill="#e10922"/>
<rect x="217.12" y="106.63" width="7.16" height="7.19" fill="#a2062a"/>
<rect x="224.23" y="106.63" width="7.16" height="7.19" fill="#9a062a"/>
<rect x="231.34" y="106.63" width="7.16" height="7.19" fill="#d90824"/>
<rect x="238.45" y="106.63" width="7.16" height="7.19" fill="#cf0627"/>
<rect x="245.56" y="106.63" width="7.16" height="7.19" fill="#d60725"/>
<rect x="252.67" y="106.63" width="7.16" height="7.19" fill="#ce0628"/>
<rect x="259.78" y="106.63" width="7.16" height="7.19" fill="#fd8b3b"/>
<rect x="266.89" y="106.63" width="7.16" height="7.19" fill="#fd8b3b"/>
<rect x="274.00" y="106.63" width="7.16" height="7.19" fill="#fd883a"/>
<rect x="281.11" y="106.63" width="7.16" height="7.19" fill="#fd8b3b"/>
<rect x="288.22" y="106.63" width="7.16" height="7.19" fill="#fd7f36"/>
<rect x="295.33" y="106.63" width="7.16" height="7.19" fill="#fd7834"/>
<rect x="302.44" y="106.63" width="7.16" height="7.19" fill="#fd7934"/>
<rect x="309.56" y="106.63" width="7.16" height="7.19" fill="#fd7934"/>
<rect x="316.67" y="106.63" width="7.16" height="7.19" fill="#fd7c35"/>
<rect x="323.78" y="106.63" width="7.16" height="7.19" fill="#fd7834"/>
<rect x="330.89" y="106.63" width="7.16" height="7.19" fill="#fd7834"/>
<rect x="338.00" y="106.63" width="7.16" height="7.19" fill="#fee391"/>
<rect x="345.11" y="106.63" width="7.16" height="7.19" fill="#fee596"/>
<rect x="352.22" y="106.63" width="7.16" height="7.19" fill="#fff1b4"/>
<rect x="359.33" y="106.63" width="7.16" height="7.19" fill="#feeeab"/>
<rect x="366.44" y="106.63" width="7.16" height="7.19" fill="#feefaf"/>
<rect x="373.55" y="106.63" width="7.16" height="7.19" fill="#feedaa"/>
<rect x="380.66" y="106.63" width="7.16" height="7.19" fill="#feeeac"/>
<rect x="387.77" y="106.63" width="7.16" height="7.19" fill="#fff0b1"/>
<rect x="394.88" y="106.63" width="7.16" height="7.19" fill="#fff1b4"/>
<rect x="401.99" y="106.63" width="7.16" height="7.19" fill="#feeda8"/>
<rect x="409.10" y="106.63" width="7.16" height="7.19" fill="#fff1b3"/>
<rect x="416.21" y="106.63" width="7.16" height="7.19" fill="#feefae"/>
<rect x="423.33" y="106.63" width="7.16" height="7.19" fill="#fef0b0"/>
<rect x="430.44" y="106.63" width="7.16" height="7.19" fill="#fef0b1"/>
<rect x="437.55" y="106.63" width="7.16" height="7.19" fill="#feeeab"/>
<rect x="444.66" y="106.63" width="7.16" height="7.19" fill="#feeca7"/>
<rect x="451.77" y="106.63" width="7.16" height="7.19" fill="#fff0b1"/>
<rect x="458.88" y="106.63" width="7.16" height="7.19" fill="#feeeac"/>
<rect x="465.99" y="106.63" width="7.16" height="7.19" fill="#fef0b1"/>
<rect x="138.90" y="113.77" width="7.16" height="7.19" fill="#fc191b"/>
<rect x="146.01" y="113.77" width="7.16" height="7.19" fill="#fd1a1b"/>
<rect x="153.12" y="113.77" width="7.16" height="7.19" fill="#fd1c1b"/>
<rect x="160.23" y="113.77" width="7.16" height="7.19" fill="#fd1c1b"/>
<rect x="167.34" y="113.77" width="7.16" height="7.19" fill="#cd0628"/>
<rect x="174.45" y="113.77" width="7.16" height="7.19" fill="#c30628"/>
<rect x="181.56" y="113.77" width="7.16" height="7.19" fill="#c90628"/>
<rect x="188.67" y="113.77" width="7.16" height="7.19" fill="#cd0628"/>
<rect x="195.79" y="113.77" width="7.16" height="7.19" fill="#c30628"/>
<rect x="202.90" y="113.77" width="7.16" height="7.19" fill="#c10628"/>
<rect x="210.01" y="113.77" width="7.16" height="7.19" fill="#c90628"/>
<rect x="217.12" y="113.77" width="7.16" height="7.19" fill="#ce0628"/>
<rect x="224.23" y="113.77" width="7.16" height="7.19" fill="#cd0628"/>
<rect x="231.34" y="113.77" width="7.16" height="7.19" fill="#9a062a"/>
<rect x="238.45" y="113.77" width="7.16" height="7.19" fill="#bf0629"/>
<rect x="245.56" y="113.77" width="7.16" height="7.19" fill="#be0629"/>
<rect x="252.67" y="113.77" width="7.16" height="7.19" fill="#bf0629"/>
<rect x="259.78" y="113.77" width="7.16" height="7.19" fill="#fd8b3b"/>
<rect x="266.89" y="113.77" width="7.16" height="7.19" fill="#fd8b3b"/>
<rect x="274.00" y="113.77" width="7.16" height="7.19" fill="#fd8739"/>
<rect x="281.11" y="113.77" width="7.16" height="7.19" fill="#fd8438"/>
<rect x="288.22" y="113.77" width="7.16" height="7.19" fill="#fd7a35"/>
<rect x="295.33" y="113.77" width="7.16" height="7.19" fill="#fd7e36"/>
<rect x="302.44" y="113.77" width="7.16" height="7.19" fill="#fd7e36"/>
<rect x="309.56" y="113.77" width="7.16" height="7.19" fill="#fd7d36"/>
<rect x="316.67" y="113.77" width="7.16" height="7.19" fill="#fd7f36"/>
<rect x="323.78" y="113.77" width="7.16" height="7.19" fill="#fd7f36"/>
<rect x="330.89" y="113.77" width="7.16" height="7.19" fill="#fd8238"/>
<rect x="338.00" y="113.77" width="7.16" height="7.19" fill="#fee594"/>
<rect x="345.11" y="113.77" width="7.16" height="7.19" fill="#fee493"/>
<rect x="352.22" y="113.77" width="7.16" height="7.19" fill="#fff1b3"/>
<rect x="359.33" y="113.77" width="7.16" height="7.19" fill="#feefae"/>
<rect x="366.44" y="113.77" width="7.16" height="7.19" fill="#feeeac"/>
<rect x="373.55" y="113.77" width="7.16" height="7.19" fill="#feeda9"/>
<rect x="380.66" y="113.77" width="7.16" height="7.19" fill="#fff0b2"/>
<rect x="387.77" y="113.77" width="7.16" height="7.19" fill="#fff0b1"/>
<rect x="394.88" y="113.77" width="7.16" height="7.19" fill="#fff0b2"/>
<rect x="401.99" y="113.77" width="7.16" height="7.19" fill="#feefaf"/>
<rect x="409.10" y="113.77" width="7.16" height="7.19" fill="#feefaf"/>
<rect x="416.21" y="113.77" width="7.16" height="7.19" fill="#feeca7"/>
<rect x="423.33" y="113.77" width="7.16" height="7.19" fill="#feeda9"/>
<rect x="430.44" y="113.77" width="7.16" height="7.19" fill="#feeda9"/>
<rect x="437.55" y="113.77" width="7.16" height="7.19" fill="#fff1b5"/>
<rect x="444.66" y="113.77" width="7.16" height="7.19" fill="#fff1b5"/>
<rect x="451.77" y="113.77" width="7.16" height="7.19" fill="#feeeab"/>
<rect x="458.88" y="113.77" width="7.16" height="7.19" fill="#feeda8"/>
<rect x="465.99" y="113.77" width="7.16" height="7.19" fill="#feefae"/>
<rect x="138.90" y="120.91" width="7.16" height="7.19" fill="#ff291d"/>
<rect x="146.01" y="120.91" width="7.16" height="7.19" fill="#fe321f"/>
<rect x="153.12" y="120.91" width="7.16" height="7.19" fill="#ff2c1d"/>
<rect x="160.23" y="120.91" width="7.16" height="7.19" fill="#ff251c"/>
<rect x="167.34" y="120.91" width="7.16" height="7.19" fill="#da0824"/>
<rect x="174.45" y="120.91" width="7.16" height="7.19" fill="#d90824"/>
<rect x="181.56" y="120.91" width="7.16" height="7.19" fill="#d80725"/>
<rect x="188.67" y="120.91" width="7.16" height="7.19" fill="#e10922"/>
<rect x="195.79" y="120.91" width="7.16" height="7.19" fill="#e30921"/>
<rect x="202.90" y="120.91" width="7.16" height="7.19" fill="#e20921"/>
<rect x="210.01" y="120.91" width="7.16" height="7.19" fill="#dd0823"/>
<rect x="217.12" y="120.91" width="7.16" height="7.19" fill="#d10727"/>
<rect x="224.23" y="120.91" width="7.16" height="7.19" fill="#ce0628"/>
<rect x="231.34" y="120.91" width="7.16" height="7.19" fill="#bc0629"/>
<rect x="238.45" y="120.91" width="7.16" height="7.19" fill="#9a062a"/>
<rect x="245.56" y="120.91" width="7.16" height="7.19" fill="#bc0629"/>
<rect x="252.67" y="120.91" width="7.16" height="7.19" fill="#bb0629"/>
<rect x="259.78" y="120.91" width="7.16" height="7.19" fill="#fd893a"/>
<rect x="266.89" y="120.91" width="7.16" height="7.19" fill="#fd883a"/>
<rect x="274.00" y="120.91" width="7.16" height="7.19" fill="#fd8d3b"/>
<rect x="281.11" y="120.91" width="7.16" height="7.19" fill="#fd8539"/>
<rect x="288.22" y="120.91" width="7.16" height="7.19" fill="#fd8037"/>
<rect x="295.33" y="120.91" width="7.16" height="7.19" fill="#fd7834"/>
<rect x="302.44" y="120.91" width="7.16" height="7.19" fill="#fd7b35"/>
<rect x="309.56" y="120.91" width="7.16" height="7.19" fill="#fd7f37"/>
<rect x="316.67" y="120.91" width="7.16" height="7.19" fill="#fd8237"/>
<rect x="323.78" y="120.91" width="7.16" height="7.19" fill="#fd8037"/>
<rect x="330.89" y="120.91" width="7.16" height="7.19" fill="#fd7c35"/>
<rect x="338.00" y="120.91" width="7.16" height="7.19" fill="#fee28f"/>
<rect x="345.11" y="120.91" width="7.16" height="7.19" fill="#fee99e"/>
<rect x="352.22" y="120.91" width="7.16" height="7.19" fill="#fff1b4"/>
<rect x="359.33" y="120.91" width="7.16" height="7.19" fill="#feefae"/>
<rect x="366.44" y="120.91" width="7.16" height="7.19" fill="#feeead"/>
<rect x="373.55" y="120.91" width="7.16" height="7.19" fill="#feefb0"/>
<rect x="380.66" y="120.91" width="7.16" height="7.19" fill="#fff0b2"/>
<rect x="387.77" y="120.91" width="7.16" height="7.19" fill="#feeead"/>
<rect x="394.88" y="120.91" width="7.16" height="7.19" fill="#fff2b5"/>
<rect x="401.99" y="120.91" width="7.16" height="7.19" fill="#fef0b1"/>
<rect x="409.10" y="120.91" width="7.16" height="7.19" fill="#feefaf"/>
<rect x="416.21" y="120.91" width="7.16" height="7.19" fill="#feeca7"/>
<rect x="423.33" y="120.91" width="7.16" height="7.19" fill="#feeeac"/>
<rect x="430.44" y="120.91" width="7.16" height="7.19" fill="#feeda8"/>
<rect x="437.55" y="120.91" width="7.16" height="7.19" fill="#feefae"/>
<rect x="444.66" y="120.91" width="7.16" height="7.19" fill="#fff0b2"/>
<rect x="451.77" y="120.91" width="7.16" height="7.19" fill="#fff0b2"/>
<rect x="458.88" y="120.91" width="7.16" height="7.19" fill="#feeca7"/>
<rect x="465.99" y="120.91" width="7.16" height="7.19" fill="#feeeab"/>
<rect x="138.90" y="128.04" width="7.16" height="7.19" fill="#ff2d1e"/>
<rect x="146.01" y="128.04" width="7.16" height="7.19" fill="#fe321f"/>
<rect x="153.12" y="128.04" width="7.16" height="7.19" fill="#ff2a1d"/>
<rect x="160.23" y="128.04" width="7.16" height="7.19" fill="#ff281c"/>
<rect x="167.34" y="128.04" width="7.16" height="7.19" fill="#df0822"/>
<rect x="174.45" y="128.04" width="7.16" height="7.19" fill="#e10922"/>
<rect x="181.56" y="128.04" width="7.16" height="7.19" fill="#dc0823"/>
<rect x="188.67" y="128.04" width="7.16" height="7.19" fill="#d80725"/>
<rect x="195.79" y="128.04" width="7.16" height="7.19" fill="#e10922"/>
<rect x="202.90" y="128.04" width="7.16" height="7.19" fill="#e40921"/>
<rect x="210.01" y="128.04" width="7.16" height="7.19" fill="#e00922"/>
<rect x="217.12" y="128.04" width="7.16" height="7.19" fill="#d40726"/>
<rect x="224.23" y="128.04" width="7.16" height="7.19" fill="#d10727"/>
<rect x="231.34" y="128.04" width="7.16" height="7.19" fill="#bf0629"/>
<rect x="238.45" y="128.04" width="7.16" height="7.19" fill="#bb0629"/>
<rect x="245.56" y="128.04" width="7.16" height="7.19" fill="#9a062a"/>
<rect x="252.67" y="128.04" width="7.16" height="7.19" fill="#bc0629"/>
<rect x="259.78" y="128.04" width="7.16" height="7.19" fill="#fd883a"/>
<rect x="266.89" y="128.04" width="7.16" height="7.19" fill="#fd8b3b"/>
<rect x="274.00" y="128.04" width="7.16" height="7.19" fill="#fd8338"/>
<rect x="281.11" y="128.04" width="7.16" height="7.19" fill="#fd8a3a"/>
<rect x="288.22" y="128.04" width="7.16" height="7.19" fill="#fd7934"/>
<rect x="295.33" y="128.04" width="7.16" height="7.19" fill="#fd8037"/>
<rect x="302.44" y="128.04" width="7.16" height="7.19" fill="#fd8037"/>
<rect x="309.56" y="128.04" width="7.16" height="7.19" fill="#fd7a35"/>
<rect x="316.67" y="128.04" width="7.16" height="7.19" fill="#fd8037"/>
<rect x="323.78" y="128.04" width="7.16" height="7.19" fill="#fd7834"/>
<rect x="330.89" y="128.04" width="7.16" height="7.19" fill="#fd7d36"/>
<rect x="338.00" y="128.04" width="7.16" height="7.19" fill="#fee595"/>
<rect x="345.11" y="128.04" width="7.16" height="7.19" fill="#fee89c"/>
<rect x="352.22" y="128.04" width="7.16" height="7.19" fill="#feefaf"/>
<rect x="359.33" y="128.04" width="7.16" height="7.19" fill="#feeeac"/>
<rect x="366.44" y="128.04" width="7.16" height="7.19" fill="#feeca8"/>
<rect x="373.55" y="128.04" width="7.16" height="7.19" fill="#fff1b3"/>
<rect x="380.66" y="128.04" width="7.16" height="7.19" fill="#feefb0"/>
<rect x="387.77" y="128.04" width="7.16" height="7.19" fill="#fff0b2"/>
<rect x="394.88" y="128.04" width="7.16" height="7.19" fill="#feeca7"/>
<rect x="401.99" y="128.04" width="7.16" height="7.19" fill="#fff1b3"/>
<rect x="409.10" y="128.04" width="7.16" height="7.19" fill="#fff1b4"/>
<rect x="416.21" y="128.04" width="7.16" height="7.19" fill="#fff1b4"/>
<rect x="423.33" y="128.04" width="7.16" height="7.19" fill="#feefb0"/>
<rect x="430.44" y="128.04" width="7.16" height="7.19" fill="#feeda8"/>
<rect x="437.55" y="128.04" width="7.16" height="7.19" fill="#feeda8"/>
<rect x="444.66" y="128.04" width="7.16" height="7.19" fill="#feeeab"/>
<rect x="451.77" y="128.04" width="7.16" height="7.19" fill="#feeca7"/>
<rect x="458.88" y="128.04" width="7.16" height="7.19" fill="#feeca8"/>
<rect x="465.99" y="128.04" width="7.16" height="7.19" fill="#fef0b0"/>
<rect x="138.90" y="135.18" width="7.16" height="7.19" fill="#fe2f1e"/>
<rect x="146.01" y="135.18" width="7.16" height="7.19" fill="#ff251c"/>
<rect x="153.12" y="135.18" width="7.16" height="7.19" fill="#ff271c"/>
<rect x="160.23" y="135.18" width="7.16" height="7.19" fill="#fe311f"/>
<rect x="167.34" y="135.18" width="7.16" height="7.19" fill="#dc0823"/>
<rect x="174.45" y="135.18" width="7.16" height="7.19" fill="#df0822"/>
<rect x="181.56" y="135.18" width="7.16" height="7.19" fill="#df0822"/>
<rect x="188.67" y="135.18" width="7.16" height="7.19" fill="#e00922"/>
<rect x="195.79" y="135.18" width="7.16" height="7.19" fill="#e20921"/>
<rect x="202.90" y="135.18" width="7.16" height="7.19" fill="#e40921"/>
<rect x="210.01" y="135.18" width="7.16" height="7.19" fill="#e10922"/>
<rect x="217.12" y="135.18" width="7.16" height="7.19" fill="#d50725"/>
<rect x="224.23" y="135.18" width="7.16" height="7.19" fill="#ce0628"/>
<rect x="231.34" y="135.18" width="7.16" height="7.19" fill="#bf0629"/>
<rect x="238.45" y="135.18" width="7.16" height="7.19" fill="#ba0629"/>
<rect x="245.56" y="135.18" width="7.16" height="7.19" fill="#bf0629"/>
<rect x="252.67" y="135.18" width="7.16" height="7.19" fill="#9a062a"/>
<rect x="259.78" y="135.18" width="7.16" height="7.19" fill="#fd8a3a"/>
<rect x="266.89" y="135.18" width="7.16" height="7.19" fill="#fd8539"/>
<rect x="274.00" y="135.18" width="7.16" height="7.19" fill="#fd8539"/>
<rect x="281.11" y="135.18" width="7.16" height="7.19" fill="#fd893a"/>
<rect x="288.22" y="135.18" width="7.16" height="7.19" fill="#fd8238"/>
<rect x="295.33" y="135.18" width="7.16" height="7.19" fill="#fd7d36"/>
<rect x="302.44" y="135.18" width="7.16" height="7.19" fill="#fd7f36"/>
<rect x="309.56" y="135.18" width="7.16" height="7.19" fill="#fd7834"/>
<rect x="316.67" y="135.18" width="7.16" height="7.19" fill="#fd8137"/>
<rect x="323.78" y="135.18" width="7.16" height="7.19" fill="#fd7f36"/>
<rect x="330.89" y="135.18" width="7.16" height="7.19" fill="#fd7834"/>
<rect x="338.00" y="135.18" width="7.16" height="7.19" fill="#fee697"/>
<rect x="345.11" y="135.18" width="7.16" height="7.19" fill="#fee79a"/>
<rect x="352.22" y="135.18" width="7.16" height="7.19" fill="#feedaa"/>
<rect x="359.33" y="135.18" width="7.16" height="7.19" fill="#feedaa"/>
<rect x="366.44" y="135.18" width="7.16" height="7.19" fill="#fff1b5"/>
<rect x="373.55" y="135.18" width="7.16" height="7.19" fill="#fff1b5"/>
<rect x="380.66" y="135.18" width="7.16" height="7.19" fill="#fff1b4"/>
<rect x="387.77" y="135.18" width="7.16" height="7.19" fill="#feeda8"/>
<rect x="394.88" y="135.18" width="7.16" height="7.19" fill="#fff0b1"/>
<rect x="401.99" y="135.18" width="7.16" height="7.19" fill="#feeeaa"/>
<rect x="409.10" y="135.18" width="7.16" height="7.19" fill="#feeda8"/>
<rect x="416.21" y="135.18" width="7.16" height="7.19" fill="#fef0b0"/>
<rect x="423.33" y="135.18" width="7.16" height="7.19" fill="#fff0b1"/>
<rect x="430.44" y="135.18" width="7.16" height="7.19" fill="#feeca7"/>
<rect x="437.55" y="135.18" width="7.16" height="7.19" fill="#feeeac"/>
<rect x="444.66" y="135.18" width="7.16" height="7.19" fill="#fff0b1"/>
<rect x="451.77" y="135.18" width="7.16" height="7.19" fill="#feeeab"/>
<rect x="458.88" y="135.18" width="7.16" height="7.19" fill="#fef0b1"/>
<rect x="465.99" y="135.18" width="7.16" height="7.19" fill="#fff0b1"/>
<rect x="138.90" y="142.31" width="7.16" height="7.19" fill="#fd7131"/>
<rect x="146.01" y="142.31" width="7.16" height="7.19" fill="#fc692e"/>
<rect x="153.12" y="142.31" width="7.16" height="7.19" fill="#fc672d"/>
<rect x="160.23" y="142.31" width="7.16" height="7.19" fill="#fc6a2e"/>
<rect x="167.34" y="142.31" width="7.16" height="7.19" fill="#fc662d"/>
<rect x="174.45" y="142.31" width="7.16" height="7.19" fill="#fd7131"/>
<rect x="181.56" y="142.31" width="7.16" height="7.19" fill="#fd6f30"/>
<rect x="188.67" y="142.31" width="7.16" height="7.19" fill="#fc6c2f"/>
<rect x="195.79" y="142.31" width="7.16" height="7.19" fill="#fc662d"/>
<rect x="202.90" y="142.31" width="7.16" height="7.19" fill="#fc662d"/>
<rect x="210.01" y="142.31" width="7.16" height="7.19" fill="#fc6d2f"/>
<rect x="217.12" y="142.31" width="7.16" height="7.19" fill="#fc6e30"/>
<rect x="224.23" y="142.31" width="7.16" height="7.19" fill="#fc6c2f"/>
<rect x="231.34" y="142.31" width="7.16" height="7.19" fill="#fc6c2f"/>
<rect x="238.45" y="142.31" width="7.16" height="7.19" fill="#fd7a35"/>
<rect x="245.56" y="142.31" width="7.16" height="7.19" fill="#fd8338"/>
<rect x="252.67" y="142.31" width="7.16" height="7.19" fill="#fd7c35"/>
<rect x="259.78" y="142.31" width="7.16" height="7.19" fill="#9a062a"/>
<rect x="266.89" y="142.31" width="7.16" height="7.19" fill="#fe1f1b"/>
<rect x="274.00" y="142.31" width="7.16" height="7.19" fill="#fe1e1b"/>
<rect x="281.11" y="142.31" width="7.16" height="7.19" fill="#fe1f1b"/>
<rect x="288.22" y="142.31" width="7.16" height="7.19" fill="#fe201c"/>
<rect x="295.33" y="142.31" width="7.16" height="7.19" fill="#fe221c"/>
<rect x="302.44" y="142.31" width="7.16" height="7.19" fill="#fe221c"/>
<rect x="309.56" y="142.31" width="7.16" height="7.19" fill="#fe221c"/>
<rect x="316.67" y="142.31" width="7.16" height="7.19" fill="#fe1f1b"/>
<rect x="323.78" y="142.31" width="7.16" height="7.19" fill="#ff241c"/>
<rect x="330.89" y="142.31" width="7.16" height="7.19" fill="#fe231c"/>
<rect x="338.00" y="142.31" width="7.16" height="7.19" fill="#fedf86"/>
<rect x="345.11" y="142.31" width="7.16" height="7.19" fill="#fee99e"/>
<rect x="352.22" y="142.31" width="7.16" height="7.19" fill="#fff3b8"/>
<rect x="359.33" y="142.31" width="7.16" height="7.19" fill="#fff3b9"/>
<rect x="366.44" y="142.31" width="7.16" height="7.19" fill="#feeead"/>
<rect x="373.55" y="142.31" width="7.16" height="7.19" fill="#fff0b2"/>
<rect x="380.66" y="142.31" width="7.16" height="7.19" fill="#feeaa2"/>
<rect x="387.77" y="142.31" width="7.16" height="7.19" fill="#feeba5"/>
<rect x="394.88" y="142.31" width="7.16" height="7.19" fill="#feeaa2"/>
<rect x="401.99" y="142.31" width="7.16" height="7.19" fill="#fff1b4"/>
<rect x="409.10" y="142.31" width="7.16" height="7.19" fill="#fff3b8"/>
<rect x="416.21" y="142.31" width="7.16" height="7.19" fill="#fff3b8"/>
<rect x="423.33" y="142.31" width="7.16" height="7.19" fill="#feefae"/>
<rect x="430.44" y="142.31" width="7.16" height="7.19" fill="#feeda9"/>
<rect x="437.55" y="142.31" width="7.16" height="7.19" fill="#feefaf"/>
<rect x="444.66" y="142.31" width="7.16" height="7.19" fill="#fff1b4"/>
<rect x="451.77" y="142.31" width="7.16" height="7.19" fill="#fef0b0"/>
<rect x="458.88" y="142.31" width="7.16" height="7.19" fill="#feeeab"/>
<rect x="465.99" y="142.31" width="7.16" height="7.19" fill="#feedaa"/>
<rect x="138.90" y="149.45" width="7.16" height="7.19" fill="#fc692e"/>
<rect x="146.01" y="149.45" width="7.16" height="7.19" fill="#fc682d"/>
<rect x="153.12" y="149.45" width="7.16" height="7.19" fill="#fc6a2e"/>
<rect x="160.23" y="149.45" width="7.16" height="7.19" fill="#fd7031"/>
<rect x="167.34" y="149.45" width="7.16" height="7.19" fill="#fc682d"/>
<rect x="174.45" y="149.45" width="7.16" height="7.19" fill="#fc6e30"/>
<rect x="181.56" y="149.45" width="7.16" height="7.19" fill="#fc6b2f"/>
<rect x="188.67" y="149.45" width="7.16" height="7.19" fill="#fc6d2f"/>
<rect x="195.79" y="149.45" width="7.16" height="7.19" fill="#fc692e"/>
<rect x="202.90" y="149.45" width="7.16" height="7.19" fill="#fd6f30"/>
<rect x="210.01" y="149.45" width="7.16" height="7.19" fill="#fd6f30"/>
<rect x="217.12" y="149.45" width="7.16" height="7.19" fill="#fd6f30"/>
<rect x="224.23" y="149.45" width="7.16" height="7.19" fill="#fd7030"/>
<rect x="231.34" y="149.45" width="7.16" height="7.19" fill="#fc672d"/>
<rect x="238.45" y="149.45" width="7.16" height="7.19" fill="#fd7f36"/>
<rect x="245.56" y="149.45" width="7.16" height="7.19" fill="#fd8237"/>
<rect x="252.67" y="149.45" width="7.16" height="7.19" fill="#fd8137"/>
<rect x="259.78" y="149.45" width="7.16" height="7.19" fill="#fe221c"/>
<rect x="266.89" y="149.45" width="7.16" height="7.19" fill="#9a062a"/>
<rect x="274.00" y="149.45" width="7.16" height="7.19" fill="#a1062a"/>
<rect x="281.11" y="149.45" width="7.16" height="7.19" fill="#a3062a"/>
<rect x="288.22" y="149.45" width="7.16" height="7.19" fill="#f90c1a"/>
<rect x="295.33" y="149.45" width="7.16" height="7.19" fill="#fa0c1a"/>
<rect x="302.44" y="149.45" width="7.16" height="7.19" fill="#f60c1b"/>
<rect x="309.56" y="149.45" width="7.16" height="7.19" fill="#fb101a"/>
<rect x="316.67" y="149.45" width="7.16" height="7.19" fill="#fa0e1a"/>
<rect x="323.78" y="149.45" width="7.16" height="7.19" fill="#f80c1a"/>
<rect x="330.89" y="149.45" width="7.16" height="7.19" fill="#f80c1b"/>
<rect x="338.00" y="149.45" width="7.16" height="7.19" fill="#fedd83"/>
<rect x="345.11" y="149.45" width="7.16" height="7.19" fill="#feeba3"/>
<rect x="352.22" y="149.45" width="7.16" height="7.19" fill="#fff1b3"/>
<rect x="359.33" y="149.45" width="7.16" height="7.19" fill="#fff2b7"/>
<rect x="366.44" y="149.45" width="7.16" height="7.19" fill="#fff2b5"/>
<rect x="373.55" y="149.45" width="7.16" height="7.19" fill="#feeba3"/>
<rect x="380.66" y="149.45" width="7.16" height="7.19" fill="#feeeac"/>
<rect x="387.77" y="149.45" width="7.16" height="7.19" fill="#feeba4"/>
<rect x="394.88" y="149.45" width="7.16" height="7.19" fill="#fff0b1"/>
<rect x="401.99" y="149.45" width="7.16" height="7.19" fill="#feeca5"/>
<rect x="409.10" y="149.45" width="7.16" height="7.19" fill="#feefaf"/>
<rect x="416.21" y="149.45" width="7.16" height="7.19" fill="#fff1b4"/>
<rect x="423.33" y="149.45" width="7.16" height="7.19" fill="#feeca7"/>
<rect x="430.44" y="149.45" width="7.16" height="7.19" fill="#feeba3"/>
<rect x="437.55" y="149.45" width="7.16" height="7.19" fill="#fff2b7"/>
<rect x="444.66" y="149.45" width="7.16" height="7.19" fill="#feeeac"/>
<rect x="451.77" y="149.45" width="7.16" height="7.19" fill="#feeeab"/>
<rect x="458.88" y="149.45" width="7.16" height="7.19" fill="#fff1b5"/>
<rect x="465.99" y="149.45" width="7.16" height="7.19" fill="#fff0b1"/>
<rect x="138.90" y="156.59" width="7.16" height="7.19" fill="#fd7030"/>
<rect x="146.01" y="156.59" width="7.16" height="7.19" fill="#fd6f30"/>
<rect x="153.12" y="156.59" width="7.16" height="7.19" fill="#fc6e30"/>
<rect x="160.23" y="156.59" width="7.16" height="7.19" fill="#fc6a2e"/>
<rect x="167.34" y="156.59" width="7.16" height="7.19" fill="#fc6a2e"/>
<rect x="174.45" y="156.59" width="7.16" height="7.19" fill="#fd6f30"/>
<rect x="181.56" y="156.59" width="7.16" height="7.19" fill="#fd7131"/>
<rect x="188.67" y="156.59" width="7.16" height="7.19" fill="#fc6e30"/>
<rect x="195.79" y="156.59" width="7.16" height="7.19" fill="#fc692e"/>
<rect x="202.90" y="156.59" width="7.16" height="7.19" fill="#fd6f30"/>
<rect x="210.01" y="156.59" width="7.16" height="7.19" fill="#fc6e30"/>
<rect x="217.12" y="156.59" width="7.16" height="7.19" fill="#fd6f30"/>
<rect x="224.23" y="156.59" width="7.16" height="7.19" fill="#fc682e"/>
<rect x="231.34" y="156.59" width="7.16" height="7.19" fill="#fc6b2f"/>
<rect x="238.45" y="156.59" width="7.16" height="7.19" fill="#fd8438"/>
<rect x="245.56" y="156.59" width="7.16" height="7.19" fill="#fd8438"/>
<rect x="252.67" y="156.59" width="7.16" height="7.19" fill="#fd8137"/>
<rect x="259.78" y="156.59" width="7.16" height="7.19" fill="#ff261c"/>
<rect x="266.89" y="156.59" width="7.16" height="7.19" fill="#a0062a"/>
<rect x="274.00" y="156.59" width="7.16" height="7.19" fill="#9a062a"/>
<rect x="281.11" y="156.59" width="7.16" height="7.19" fill="#a4062a"/>
<rect x="288.22" y="156.59" width="7.16" height="7.19" fill="#fb101a"/>
<rect x="295.33" y="156.59" width="7.16" height="7.19" fill="#fa0c1a"/>
<rect x="302.44" y="156.59" width="7.16" height="7.19" fill="#fa0e1a"/>
<rect x="309.56" y="156.59" width="7.16" height="7.19" fill="#fb0f1a"/>
<rect x="316.67" y="156.59" width="7.16" height="7.19" fill="#fb0f1a"/>
<rect x="323.78" y="156.59" width="7.16" height="7.19" fill="#f70c1b"/>
<rect x="330.89" y="156.59" width="7.16" height="7.19" fill="#fb0f1a"/>
<rect x="338.00" y="156.59" width="7.16" height="7.19" fill="#fee18a"/>
<rect x="345.11" y="156.59" width="7.16" height="7.19" fill="#fee89c"/>
<rect x="352.22" y="156.59" width="7.16" height="7.19" fill="#fef0b0"/>
<rect x="359.33" y="156.59" width="7.16" height="7.19" fill="#feeca5"/>
<rect x="366.44" y="156.59" width="7.16" height="7.19" fill="#feeaa2"/>
<rect x="373.55" y="156.59" width="7.16" height="7.19" fill="#fff0b1"/>
<rect x="380.66" y="156.59" width="7.16" height="7.19" fill="#fff2b5"/>
<rect x="387.77" y="156.59" width="7.16" height="7.19" fill="#feeda9"/>
<rect x="394.88" y="156.59" width="7.16" height="7.19" fill="#fff2b5"/>
<rect x="401.99" y="156.59" width="7.16" height="7.19" fill="#fff3ba"/>
<rect x="409.10" y="156.59" width="7.16" height="7.19" fill="#feeba4"/>
<rect x="416.21" y="156.59" width="7.16" height="7.19" fill="#fef0b0"/>
<rect x="423.33" y="156.59" width="7.16" height="7.19" fill="#feeca6"/>
<rect x="430.44" y="156.59" width="7.16" height="7.19" fill="#fef0b0"/>
<rect x="437.55" y="156.59" width="7.16" height="7.19" fill="#feeba5"/>
<rect x="444.66" y="156.59" width="7.16" height="7.19" fill="#feefaf"/>
<rect x="451.77" y="156.59" width="7.16" height="7.19" fill="#fff2b6"/>
<rect x="458.88" y="156.59" width="7.16" height="7.19" fill="#fff3ba"/>
<rect x="465.99" y="156.59" width="7.16" height="7.19" fill="#feeead"/>
<rect x="138.90" y="163.72" width="7.16" height="7.19" fill="#fc6a2e"/>
<rect x="146.01" y="163.72" width="7.16" height="7.19" fill="#fc672d"/>
<rect x="153.12" y="163.72" width="7.16" height="7.19" fill="#fd7031"/>
<rect x="160.23" y="163.72" width="7.16" height="7.19" fill="#fc6a2e"/>
<rect x="167.34" y="163.72" width="7.16" height="7.19" fill="#fc6d2f"/>
<rect x="174.45" y="163.72" width="7.16" height="7.19" fill="#fc6c2f"/>
<rect x="181.56" y="163.72" width="7.16" height="7.19" fill="#fd7030"/>
<rect x="188.67" y="163.72" width="7.16" height="7.19" fill="#fc6e30"/>
<rect x="195.79" y="163.72" width="7.16" height="7.19" fill="#fc6b2f"/>
<rect x="202.90" y="163.72" width="7.16" height="7.19" fill="#fc672d"/>
<rect x="210.01" y="163.72" width="7.16" height="7.19" fill="#fd7031"/>
<rect x="217.12" y="163.72" width="7.16" height="7.19" fill="#fc6c2f"/>
<rect x="224.23" y="163.72" width="7.16" height="7.19" fill="#fc682d"/>
<rect x="231.34" y="163.72" width="7.16" height="7.19" fill="#fc662d"/>
<rect x="238.45" y="163.72" width="7.16" height="7.19" fill="#fd8338"/>
<rect x="245.56" y="163.72" width="7.16" height="7.19" fill="#fd8438"/>
<rect x="252.67" y="163.72" width="7.16" height="7.19" fill="#fd7a35"/>
<rect x="259.78" y="163.72" width="7.16" height="7.19" fill="#fe221c"/>
<rect x="266.89" y="163.72" width="7.16" height="7.19" fill="#a1062a"/>
<rect x="274.00" y="163.72" width="7.16" height="7.19" fill="#a4062a"/>
<rect x="281.11" y="163.72" width="7.16" height="7.19" fill="#9a062a"/>
<rect x="288.22" y="163.72" width="7.16" height="7.19" fill="#f70c1b"/>
<rect x="295.33" y="163.72" width="7.16" height="7.19" fill="#fa0e1a"/>
<rect x="302.44" y="163.72" width="7.16" height="7.19" fill="#f70c1b"/>
<rect x="309.56" y="163.72" width="7.16" height="7.19" fill="#fa0d1a"/>
<rect x="316.67" y="163.72" width="7.16" height="7.19" fill="#f80c1a"/>
<rect x="323.78" y="163.72" width="7.16" height="7.19" fill="#fb101a"/>
<rect x="330.89" y="163.72" width="7.16" height="7.19" fill="#f90c1a"/>
<rect x="338.00" y="163.72" width="7.16" height="7.19" fill="#fee492"/>
<rect x="345.11" y="163.72" width="7.16" height="7.19" fill="#fee89b"/>
<rect x="352.22" y="163.72" width="7.16" height="7.19" fill="#feeca6"/>
<rect x="359.33" y="163.72" width="7.16" height="7.19" fill="#feeca6"/>
<rect x="366.44" y="163.72" width="7.16" height="7.19" fill="#fff2b6"/>
<rect x="373.55" y="163.72" width="7.16" height="7.19" fill="#fff1b5"/>
<rect x="380.66" y="163.72" width="7.16" height="7.19" fill="#fef0b0"/>
<rect x="387.77" y="163.72" width="7.16" height="7.19" fill="#feefae"/>
<rect x="394.88" y="163.72" width="7.16" height="7.19" fill="#fef0b1"/>
<rect x="401.99" y="163.72" width="7.16" height="7.19" fill="#fff2b7"/>
<rect x="409.10" y="163.72" width="7.16" height="7.19" fill="#fff1b4"/>
<rect x="416.21" y="163.72" width="7.16" height="7.19" fill="#feeda9"/>
<rect x="423.33" y="163.72" width="7.16" height="7.19" fill="#feeba4"/>
<rect x="430.44" y="163.72" width="7.16" height="7.19" fill="#fff3b9"/>
<rect x="437.55" y="163.72" width="7.16" height="7.19" fill="#feeead"/>
<rect x="444.66" y="163.72" width="7.16" height="7.19" fill="#feeda8"/>
<rect x="451.77" y="163.72" width="7.16" height="7.19" fill="#fff3b9"/>
<rect x="458.88" y="163.72" width="7.16" height="7.19" fill="#feeca6"/>
<rect x="465.99" y="163.72" width="7.16" height="7.19" fill="#fff2b7"/>
<rect x="138.90" y="170.86" width="7.16" height="7.19" fill="#fc5627"/>
<rect x="146.01" y="170.86" width="7.16" height="7.19" fill="#fc5627"/>
<rect x="153.12" y="170.86" width="7.16" height="7.19" fill="#fc5527"/>
<rect x="160.23" y="170.86" width="7.16" height="7.19" fill="#fc5a28"/>
<rect x="167.34" y="170.86" width="7.16" height="7.19" fill="#fc5828"/>
<rect x="174.45" y="170.86" width="7.16" height="7.19" fill="#fc5627"/>
<rect x="181.56" y="170.86" width="7.16" height="7.19" fill="#fc5828"/>
<rect x="188.67" y="170.86" width="7.16" height="7.19" fill="#fc5527"/>
<rect x="195.79" y="170.86" width="7.16" height="7.19" fill="#fc5827"/>
<rect x="202.90" y="170.86" width="7.16" height="7.19" fill="#fc5828"/>
<rect x="210.01" y="170.86" width="7.16" height="7.19" fill="#fc5d29"/>
<rect x="217.12" y="170.86" width="7.16" height="7.19" fill="#fc5527"/>
<rect x="224.23" y="170.86" width="7.16" height="7.19" fill="#fc6c2f"/>
<rect x="231.34" y="170.86" width="7.16" height="7.19" fill="#fc5527"/>
<rect x="238.45" y="170.86" width="7.16" height="7.19" fill="#fd7a35"/>
<rect x="245.56" y="170.86" width="7.16" height="7.19" fill="#fd7a34"/>
<rect x="252.67" y="170.86" width="7.16" height="7.19" fill="#fd7e36"/>
<rect x="259.78" y="170.86" width="7.16" height="7.19" fill="#ff2b1d"/>
<rect x="266.89" y="170.86" width="7.16" height="7.19" fill="#fa0e1a"/>
<rect x="274.00" y="170.86" width="7.16" height="7.19" fill="#fb101a"/>
<rect x="281.11" y="170.86" width="7.16" height="7.19" fill="#fb101a"/>
<rect x="288.22" y="170.86" width="7.16" height="7.19" fill="#9a062a"/>
<rect x="295.33" y="170.86" width="7.16" height="7.19" fill="#df0823"/>
<rect x="302.44" y="170.86" width="7.16" height="7.19" fill="#e30921"/>
<rect x="309.56" y="170.86" width="7.16" height="7.19" fill="#de0823"/>
<rect x="316.67" y="170.86" width="7.16" height="7.19" fill="#de0823"/>
<rect x="323.78" y="170.86" width="7.16" height="7.19" fill="#e40921"/>
<rect x="330.89" y="170.86" width="7.16" height="7.19" fill="#dc0823"/>
<rect x="338.00" y="170.86" width="7.16" height="7.19" fill="#fee595"/>
<rect x="345.11" y="170.86" width="7.16" height="7.19" fill="#fee494"/>
<rect x="352.22" y="170.86" width="7.16" height="7.19" fill="#feeca7"/>
<rect x="359.33" y="170.86" width="7.16" height="7.19" fill="#feefae"/>
<rect x="366.44" y="170.86" width="7.16" height="7.19" fill="#fff3b9"/>
<rect x="373.55" y="170.86" width="7.16" height="7.19" fill="#feefae"/>
<rect x="380.66" y="170.86" width="7.16" height="7.19" fill="#fef0b1"/>
<rect x="387.77" y="170.86" width="7.16" height="7.19" fill="#feeba3"/>
<rect x="394.88" y="170.86" width="7.16" height="7.19" fill="#fff2b7"/>
<rect x="401.99" y="170.86" width="7.16" height="7.19" fill="#feeca5"/>
<rect x="409.10" y="170.86" width="7.16" height="7.19" fill="#feeaa2"/>
<rect x="416.21" y="170.86" width="7.16" height="7.19" fill="#feeda8"/>
<rect x="423.33" y="170.86" width="7.16" height="7.19" fill="#feeca6"/>
<rect x="430.44" y="170.86" width="7.16" height="7.19" fill="#fff2b5"/>
<rect x="437.55" y="170.86" width="7.16" height="7.19" fill="#feeaa2"/>
<rect x="444.66" y="170.86" width="7.16" height="7.19" fill="#feefae"/>
<rect x="451.77" y="170.86" width="7.16" height="7.19" fill="#feeba3"/>
<rect x="458.88" y="170.86" width="7.16" height="7.19" fill="#feeba4"/>
<rect x="465.99" y="170.86" width="7.16" height="7.19" fill="#fff2b6"/>
<rect x="138.90" y="178.00" width="7.16" height="7.19" fill="#fc5326"/>
<rect x="146.01" y="178.00" width="7.16" height="7.19" fill="#fd5126"/>
<rect x="153.12" y="178.00" width="7.16" height="7.19" fill="#fc5d29"/>
<rect x="160.23" y="178.00" width="7.16" height="7.19" fill="#fc5928"/>
<rect x="167.34" y="178.00" width="7.16" height="7.19" fill="#fc5326"/>
<rect x="174.45" y="178.00" width="7.16" height="7.19" fill="#fc5c29"/>
<rect x="181.56" y="178.00" width="7.16" height="7.19" fill="#fd5126"/>
<rect x="188.67" y="178.00" width="7.16" height="7.19" fill="#fc5a28"/>
<rect x="195.79" y="178.00" width="7.16" height="7.19" fill="#fc5226"/>
<rect x="202.90" y="178.00" width="7.16" height="7.19" fill="#fc5c29"/>
<rect x="210.01" y="178.00" width="7.16" height="7.19" fill="#fc5727"/>
<rect x="217.12" y="178.00" width="7.16" height="7.19" fill="#fd5126"/>
<rect x="224.23" y="178.00" width="7.16" height="7.19" fill="#fd6f30"/>
<rect x="231.34" y="178.00" width="7.16" height="7.19" fill="#fc5527"/>
<rect x="238.45" y="178.00" width="7.16" height="7.19" fill="#fd7d36"/>
<rect x="245.56" y="178.00" width="7.16" height="7.19" fill="#fd7f37"/>
<rect x="252.67" y="178.00" width="7.16" height="7.19" fill="#fd8338"/>
<rect x="259.78" y="178.00" width="7.16" height="7.19" fill="#ff2b1d"/>
<rect x="266.89" y="178.00" width="7.16" height="7.19" fill="#fb101a"/>
<rect x="274.00" y="178.00" width="7.16" height="7.19" fill="#f70c1b"/>
<rect x="281.11" y="178.00" width="7.16" height="7.19" fill="#fa0c1a"/>
<rect x="288.22" y="178.00" width="7.16" height="7.19" fill="#d90824"/>
<rect x="295.33" y="178.00" width="7.16" height="7.19" fill="#9a062a"/>
<rect x="302.44" y="178.00" width="7.16" height="7.19" fill="#e20921"/>
<rect x="309.56" y="178.00" width="7.16" height="7.19" fill="#da0824"/>
<rect x="316.67" y="178.00" width="7.16" height="7.19" fill="#e30921"/>
<rect x="323.78" y="178.00" width="7.16" height="7.19" fill="#dd0823"/>
<rect x="330.89" y="178.00" width="7.16" height="7.19" fill="#dc0823"/>
<rect x="338.00" y="178.00" width="7.16" height="7.19" fill="#fee28f"/>
<rect x="345.11" y="178.00" width="7.16" height="7.19" fill="#fee391"/>
<rect x="352.22" y="178.00" width="7.16" height="7.19" fill="#feeead"/>
<rect x="359.33" y="178.00" width="7.16" height="7.19" fill="#feeeac"/>
<rect x="366.44" y="178.00" width="7.16" height="7.19" fill="#feeba5"/>
<rect x="373.55" y="178.00" width="7.16" height="7.19" fill="#fff2b7"/>
<rect x="380.66" y="178.00" width="7.16" height="7.19" fill="#feeaa2"/>
<rect x="387.77" y="178.00" width="7.16" height="7.19" fill="#feeeab"/>
<rect x="394.88" y="178.00" width="7.16" height="7.19" fill="#fef0b1"/>
<rect x="401.99" y="178.00" width="7.16" height="7.19" fill="#feeca7"/>
<rect x="409.10" y="178.00" width="7.16" height="7.19" fill="#fff1b4"/>
<rect x="416.21" y="178.00" width="7.16" height="7.19" fill="#feeaa2"/>
<rect x="423.33" y="178.00" width="7.16" height="7.19" fill="#feeeac"/>
<rect x="430.44" y="178.00" width="7.16" height="7.19" fill="#fff0b1"/>
<rect x="437.55" y="178.00" width="7.16" height="7.19" fill="#feeca8"/>
<rect x="444.66" y="178.00" width="7.16" height="7.19" fill="#feefaf"/>
<rect x="451.77" y="178.00" width="7.16" height="7.19" fill="#fff2b6"/>
<rect x="458.88" y="178.00" width="7.16" height="7.19" fill="#feeda8"/>
<rect x="465.99" y="178.00" width="7.16" height="7.19" fill="#fff3b9"/>
<rect x="138.90" y="185.13" width="7.16" height="7.19" fill="#fc5226"/>
<rect x="146.01" y="185.13" width="7.16" height="7.19" fill="#fc5b28"/>
<rect x="153.12" y="185.13" width="7.16" height="7.19" fill="#fc5527"/>
<rect x="160.23" y="185.13" width="7.16" height="7.19" fill="#fd5026"/>
<rect x="167.34" y="185.13" width="7.16" height="7.19" fill="#fc5627"/>
<rect x="174.45" y="185.13" width="7.16" height="7.19" fill="#fc5527"/>
<rect x="181.56" y="185.13" width="7.16" height="7.19" fill="#fc5a28"/>
<rect x="188.67" y="185.13" width="7.16" height="7.19" fill="#fc5d29"/>
<rect x="195.79" y="185.13" width="7.16" height="7.19" fill="#fc5d29"/>
<rect x="202.90" y="185.13" width="7.16" height="7.19" fill="#fc5c29"/>
<rect x="210.01" y="185.13" width="7.16" height="7.19" fill="#fc5527"/>
<rect x="217.12" y="185.13" width="7.16" height="7.19" fill="#fc5828"/>
<rect x="224.23" y="185.13" width="7.16" height="7.19" fill="#fc6b2f"/>
<rect x="231.34" y="185.13" width="7.16" height="7.19" fill="#fd4b25"/>
<rect x="238.45" y="185.13" width="7.16" height="7.19" fill="#fd8137"/>
<rect x="245.56" y="185.13" width="7.16" height="7.19" fill="#fd8037"/>
<rect x="252.67" y="185.13" width="7.16" height="7.19" fill="#fd7b35"/>
<rect x="259.78" y="185.13" width="7.16" height="7.19" fill="#ff2d1e"/>
<rect x="266.89" y="185.13" width="7.16" height="7.19" fill="#fb111a"/>
<rect x="274.00" y="185.13" width="7.16" height="7.19" fill="#fa0f1a"/>
<rect x="281.11" y="185.13" width="7.16" height="7.19" fill="#fb101a"/>
<rect x="288.22" y="185.13" width="7.16" height="7.19" fill="#e00822"/>
<rect x="295.33" y="185.13" width="7.16" height="7.19" fill="#e10922"/>
<rect x="302.44" y="185.13" width="7.16" height="7.19" fill="#9a062a"/>
<rect x="309.56" y="185.13" width="7.16" height="7.19" fill="#a2062a"/>
<rect x="316.67" y="185.13" width="7.16" height="7.19" fill="#a2062a"/>
<rect x="323.78" y="185.13" width="7.16" height="7.19" fill="#a4062a"/>
<rect x="330.89" y="185.13" width="7.16" height="7.19" fill="#a2062a"/>
<rect x="338.00" y="185.13" width="7.16" height="7.19" fill="#fee18c"/>
<rect x="345.11" y="185.13" width="7.16" height="7.19" fill="#feeaa1"/>
<rect x="352.22" y="185.13" width="7.16" height="7.19" fill="#feeba4"/>
<rect x="359.33" y="185.13" width="7.16" height="7.19" fill="#fff1b4"/>
<rect x="366.44" y="185.13" width="7.16" height="7.19" fill="#fff2b6"/>
<rect x="373.55" y="185.13" width="7.16" height="7.19" fill="#fff3b8"/>
<rect x="380.66" y="185.13" width="7.16" height="7.19" fill="#feeeab"/>
<rect x="387.77" y="185.13" width="7.16" height="7.19" fill="#feeba5"/>
<rect x="394.88" y="185.13" width="7.16" height="7.19" fill="#feeca7"/>
<rect x="401.99" y="185.13" width="7.16" height="7.19" fill="#fef0b0"/>
<rect x="409.10" y="185.13" width="7.16" height="7.19" fill="#fff1b4"/>
<rect x="416.21" y="185.13" width="7.16" height="7.19" fill="#fff3ba"/>
<rect x="423.33" y="185.13" width="7.16" height="7.19" fill="#feeeab"/>
<rect x="430.44" y="185.13" width="7.16" height="7.19" fill="#feeead"/>
<rect x="437.55" y="185.13" width="7.16" height="7.19" fill="#fff0b2"/>
<rect x="444.66" y="185.13" width="7.16" height="7.19" fill="#feeeab"/>
<rect x="451.77" y="185.13" width="7.16" height="7.19" fill="#feefaf"/>
<rect x="458.88" y="185.13" width="7.16" height="7.19" fill="#feeba4"/>
<rect x="465.99" y="185.13" width="7.16" height="7.19" fill="#feeda8"/>
<rect x="138.90" y="192.27" width="7.16" height="7.19" fill="#fc5b28"/>
<rect x="146.01" y="192.27" width="7.16" height="7.19" fill="#fd5126"/>
<rect x="153.12" y="192.27" width="7.16" height="7.19" fill="#fc5d29"/>
<rect x="160.23" y="192.27" width="7.16" height="7.19" fill="#fc5727"/>
<rect x="167.34" y="192.27" width="7.16" height="7.19" fill="#fc5828"/>
<rect x="174.45" y="192.27" width="7.16" height="7.19" fill="#fc5b28"/>
<rect x="181.56" y="192.27" width="7.16" height="7.19" fill="#fc5d29"/>
<rect x="188.67" y="192.27" width="7.16" height="7.19" fill="#fc5326"/>
<rect x="195.79" y="192.27" width="7.16" height="7.19" fill="#fc5d29"/>
<rect x="202.90" y="192.27" width="7.16" height="7.19" fill="#fc5627"/>
<rect x="210.01" y="192.27" width="7.16" height="7.19" fill="#fd5026"/>
<rect x="217.12" y="192.27" width="7.16" height="7.19" fill="#fc5c29"/>
<rect x="224.23" y="192.27" width="7.16" height="7.19" fill="#fd6f30"/>
<rect x="231.34" y="192.27" width="7.16" height="7.19" fill="#fd4f26"/>
<rect x="238.45" y="192.27" width="7.16" height="7.19" fill="#fd7d36"/>
<rect x="245.56" y="192.27" width="7.16" height="7.19" fill="#fd7b35"/>
<rect x="252.67" y="192.27" width="7.16" height="7.19" fill="#fd7934"/>
<rect x="259.78" y="192.27" width="7.16" height="7.19" fill="#ff2b1d"/>
<rect x="266.89" y="192.27" width="7.16" height="7.19" fill="#fb0f1a"/>
<rect x="274.00" y="192.27" width="7.16" height="7.19" fill="#fb0f1a"/>
<rect x="281.11" y="192.27" width="7.16" height="7.19" fill="#fb111a"/>
<rect x="288.22" y="192.27" width="7.16" height="7.19" fill="#d90824"/>
<rect x="295.33" y="192.27" width="7.16" height="7.19" fill="#da0824"/>
<rect x="302.44" y="192.27" width="7.16" height="7.19" fill="#a1062a"/>
<rect x="309.56" y="192.27" width="7.16" height="7.19" fill="#9a062a"/>
<rect x="316.67" y="192.27" width="7.16" height="7.19" fill="#a6062a"/>
<rect x="323.78" y="192.27" width="7.16" height="7.19" fill="#a1062a"/>
<rect x="330.89" y="192.27" width="7.16" height="7.19" fill="#a1062a"/>
<rect x="338.00" y="192.27" width="7.16" height="7.19" fill="#fee18c"/>
<rect x="345.11" y="192.27" width="7.16" height="7.19" fill="#fee493"/>
<rect x="352.22" y="192.27" width="7.16" height="7.19" fill="#feefaf"/>
<rect x="359.33" y="192.27" width="7.16" height="7.19" fill="#fff1b5"/>
<rect x="366.44" y="192.27" width="7.16" height="7.19" fill="#fff2b7"/>
<rect x="373.55" y="192.27" width="7.16" height="7.19" fill="#fff1b4"/>
<rect x="380.66" y="192.27" width="7.16" height="7.19" fill="#fff3b9"/>
<rect x="387.77" y="192.27" width="7.16" height="7.19" fill="#fff0b2"/>
<rect x="394.88" y="192.27" width="7.16" height="7.19" fill="#feeda8"/>
<rect x="401.99" y="192.27" width="7.16" height="7.19" fill="#feeda9"/>
<rect x="409.10" y="192.27" width="7.16" height="7.19" fill="#feeca6"/>
<rect x="416.21" y="192.27" width="7.16" height="7.19" fill="#feeda9"/>
<rect x="423.33" y="192.27" width="7.16" height="7.19" fill="#fff1b4"/>
<rect x="430.44" y="192.27" width="7.16" height="7.19" fill="#feeead"/>
<rect x="437.55" y="192.27" width="7.16" height="7.19" fill="#feefb0"/>
<rect x="444.66" y="192.27" width="7.16" height="7.19" fill="#feeca7"/>
<rect x="451.77" y="192.27" width="7.16" height="7.19" fill="#feefad"/>
<rect x="458.88" y="192.27" width="7.16" height="7.19" fill="#fff1b4"/>
<rect x="465.99" y="192.27" width="7.16" height="7.19" fill="#feeeab"/>
<rect x="138.90" y="199.40" width="7.16" height="7.19" fill="#fd5026"/>
<rect x="146.01" y="199.40" width="7.16" height="7.19" fill="#fc5b28"/>
<rect x="153.12" y="199.40" width="7.16" height="7.19" fill="#fc5126"/>
<rect x="160.23" y="199.40" width="7.16" height="7.19" fill="#fc5d29"/>
<rect x="167.34" y="199.40" width="7.16" height="7.19" fill="#fc5a28"/>
<rect x="174.45" y="199.40" width="7.16" height="7.19" fill="#fc5b28"/>
<rect x="181.56" y="199.40" width="7.16" height="7.19" fill="#fc5326"/>
<rect x="188.67" y="199.40" width="7.16" height="7.19" fill="#fd5026"/>
<rect x="195.79" y="199.40" width="7.16" height="7.19" fill="#fc5326"/>
<rect x="202.90" y="199.40" width="7.16" height="7.19" fill="#fc5a28"/>
<rect x="210.01" y="199.40" width="7.16" height="7.19" fill="#fc5126"/>
<rect x="217.12" y="199.40" width="7.16" height="7.19" fill="#fc5a28"/>
<rect x="224.23" y="199.40" width="7.16" height="7.19" fill="#fd6f30"/>
<rect x="231.34" y="199.40" width="7.16" height="7.19" fill="#fd4b25"/>
<rect x="238.45" y="199.40" width="7.16" height="7.19" fill="#fd7c35"/>
<rect x="245.56" y="199.40" width="7.16" height="7.19" fill="#fd7b35"/>
<rect x="252.67" y="199.40" width="7.16" height="7.19" fill="#fd7b35"/>
<rect x="259.78" y="199.40" width="7.16" height="7.19" fill="#fe221c"/>
<rect x="266.89" y="199.40" width="7.16" height="7.19" fill="#fa0e1a"/>
<rect x="274.00" y="199.40" width="7.16" height="7.19" fill="#f80c1b"/>
<rect x="281.11" y="199.40" width="7.16" height="7.19" fill="#fa0c1a"/>
<rect x="288.22" y="199.40" width="7.16" height="7.19" fill="#d90824"/>
<rect x="295.33" y="199.40" width="7.16" height="7.19" fill="#df0823"/>
<rect x="302.44" y="199.40" width="7.16" height="7.19" fill="#a1062a"/>
<rect x="309.56" y="199.40" width="7.16" height="7.19" fill="#a2062a"/>
<rect x="316.67" y="199.40" width="7.16" height="7.19" fill="#9a062a"/>
<rect x="323.78" y="199.40" width="7.16" height="7.19" fill="#a4062a"/>
<rect x="330.89" y="199.40" width="7.16" height="7.19" fill="#a4062a"/>
<rect x="338.00" y="199.40" width="7.16" height="7.19" fill="#fee089"/>
<rect x="345.11" y="199.40" width="7.16" height="7.19" fill="#feeaa3"/>
<rect x="352.22" y="199.40" width="7.16" height="7.19" fill="#feeba4"/>
<rect x="359.33" y="199.40" width="7.16" height="7.19" fill="#fff2b7"/>
<rect x="366.44" y="199.40" width="7.16" height="7.19" fill="#fff3b9"/>
<rect x="373.55" y="199.40" width="7.16" height="7.19" fill="#fff2b7"/>
<rect x="380.66" y="199.40" width="7.16" height="7.19" fill="#feeba4"/>
<rect x="387.77" y="199.40" width="7.16" height="7.19" fill="#fff0b2"/>
<rect x="394.88" y="199.40" width="7.16" height="7.19" fill="#fff2b7"/>
<rect x="401.99" y="199.40" width="7.16" height="7.19" fill="#fff3b9"/>
<rect x="409.10" y="199.40" width="7.16" height="7.19" fill="#fff3b9"/>
<rect x="416.21" y="199.40" width="7.16" height="7.19" fill="#feeda9"/>
<rect x="423.33" y="199.40" width="7.16" height="7.19" fill="#feeeab"/>
<rect x="430.44" y="199.40" width="7.16" height="7.19" fill="#feeda9"/>
<rect x="437.55" y="199.40" width="7.16" height="7.19" fill="#feeda8"/>
<rect x="444.66" y="199.40" width="7.16" height="7.19" fill="#fff3b8"/>
<rect x="451.77" y="199.40" width="7.16" height="7.19" fill="#feeeac"/>
<rect x="458.88" y="199.40" width="7.16" height="7.19" fill="#fff0b1"/>
<rect x="465.99" y="199.40" width="7.16" height="7.19" fill="#feeca6"/>
<rect x="138.90" y="206.54" width="7.16" height="7.19" fill="#fc5226"/>
<rect x="146.01" y="206.54" width="7.16" height="7.19" fill="#fd5126"/>
<rect x="153.12" y="206.54" width="7.16" height="7.19" fill="#fc5d29"/>
<rect x="160.23" y="206.54" width="7.16" height="7.19" fill="#fc5226"/>
<rect x="167.34" y="206.54" width="7.16" height="7.19" fill="#fd5126"/>
<rect x="174.45" y="206.54" width="7.16" height="7.19" fill="#fd5026"/>
<rect x="181.56" y="206.54" width="7.16" height="7.19" fill="#fc5c29"/>
<rect x="188.67" y="206.54" width="7.16" height="7.19" fill="#fc5b28"/>
<rect x="195.79" y="206.54" width="7.16" height="7.19" fill="#fc5c29"/>
<rect x="202.90" y="206.54" width="7.16" height="7.19" fill="#fc5d29"/>
<rect x="210.01" y="206.54" width="7.16" height="7.19" fill="#fc5226"/>
<rect x="217.12" y="206.54" width="7.16" height="7.19" fill="#fc5226"/>
<rect x="224.23" y="206.54" width="7.16" height="7.19" fill="#fc6a2e"/>
<rect x="231.34" y="206.54" width="7.16" height="7.19" fill="#fd4c25"/>
<rect x="238.45" y="206.54" width="7.16" height="7.19" fill="#fd7c35"/>
<rect x="245.56" y="206.54" width="7.16" height="7.19" fill="#fd8037"/>
<rect x="252.67" y="206.54" width="7.16" height="7.19" fill="#fd8238"/>
<rect x="259.78" y="206.54" width="7.16" height="7.19" fill="#ff2c1d"/>
<rect x="266.89" y="206.54" width="7.16" height="7.19" fill="#f90c1a"/>
<rect x="274.00" y="206.54" width="7.16" height="7.19" fill="#fb101a"/>
<rect x="281.11" y="206.54" width="7.16" height="7.19" fill="#fb0f1a"/>
<rect x="288.22" y="206.54" width="7.16" height="7.19" fill="#df0822"/>
<rect x="295.33" y="206.54" width="7.16" height="7.19" fill="#e40921"/>
<rect x="302.44" y="206.54" width="7.16" height="7.19" fill="#a4062a"/>
<rect x="309.56" y="206.54" width="7.16" height="7.19" fill="#a4062a"/>
<rect x="316.67" y="206.54" width="7.16" height="7.19" fill="#a1062a"/>
<rect x="323.78" y="206.54" width="7.16" height="7.19" fill="#9a062a"/>
<rect x="330.89" y="206.54" width="7.16" height="7.19" fill="#a4062a"/>
<rect x="338.00" y="206.54" width="7.16" height="7.19" fill="#fee390"/>
<rect x="345.11" y="206.54" width="7.16" height="7.19" fill="#fee28f"/>
<rect x="352.22" y="206.54" width="7.16" height="7.19" fill="#feefae"/>
<rect x="359.33" y="206.54" width="7.16" height="7.19" fill="#feeca6"/>
<rect x="366.44" y="206.54" width="7.16" height="7.19" fill="#feeeab"/>
<rect x="373.55" y="206.54" width="7.16" height="7.19" fill="#fff3b9"/>
<rect x="380.66" y="206.54" width="7.16" height="7.19" fill="#fef0b0"/>
<rect x="387.77" y="206.54" width="7.16" height="7.19" fill="#feefb0"/>
<rect x="394.88" y="206.54" width="7.16" height="7.19" fill="#feeca7"/>
<rect x="401.99" y="206.54" width="7.16" height="7.19" fill="#fff0b2"/>
<rect x="409.10" y="206.54" width="7.16" height="7.19" fill="#feeda9"/>
<rect x="416.21" y="206.54" width="7.16" height="7.19" fill="#feefad"/>
<rect x="423.33" y="206.54" width="7.16" height="7.19" fill="#fff1b5"/>
<rect x="430.44" y="206.54" width="7.16" height="7.19" fill="#feeca5"/>
<rect x="437.55" y="206.54" width="7.16" height="7.19" fill="#fff3b8"/>
<rect x="444.66" y="206.54" width="7.16" height="7.19" fill="#feeca6"/>
<rect x="451.77" y="206.54" width="7.16" height="7.19" fill="#fff2b6"/>
<rect x="458.88" y="206.54" width="7.16" height="7.19" fill="#fff3ba"/>
<rect x="465.99" y="206.54" width="7.16" height="7.19" fill="#fff2b5"/>
<rect x="138.90" y="213.68" width="7.16" height="7.19" fill="#fc5326"/>
<rect x="146.01" y="213.68" width="7.16" height="7.19" fill="#fd5026"/>
<rect x="153.12" y="213.68" width="7.16" height="7.19" fill="#fc5d29"/>
<rect x="160.23" y="213.68" width="7.16" height="7.19" fill="#fc5727"/>
<rect x="167.34" y="213.68" width="7.16" height="7.19" fill="#fc5727"/>
<rect x="174.45" y="213.68" width="7.16" height="7.19" fill="#fc5326"/>
<rect x="181.56" y="213.68" width="7.16" height="7.19" fill="#fc5b29"/>
<rect x="188.67" y="213.68" width="7.16" height="7.19" fill="#fc5727"/>
<rect x="195.79" y="213.68" width="7.16" height="7.19" fill="#fc5928"/>
<rect x="202.90" y="213.68" width="7.16" height="7.19" fill="#fc5226"/>
<rect x="210.01" y="213.68" width="7.16" height="7.19" fill="#fc5a28"/>
<rect x="217.12" y="213.68" width="7.16" height="7.19" fill="#fd5026"/>
<rect x="224.23" y="213.68" width="7.16" height="7.19" fill="#fc6e30"/>
<rect x="231.34" y="213.68" width="7.16" height="7.19" fill="#fc5527"/>
<rect x="238.45" y="213.68" width="7.16" height="7.19" fill="#fd7b35"/>
<rect x="245.56" y="213.68" width="7.16" height="7.19" fill="#fd7d36"/>
<rect x="252.67" y="213.68" width="7.16" height="7.19" fill="#fd8237"/>
<rect x="259.78" y="213.68" width="7.16" height="7.19" fill="#ff251c"/>
<rect x="266.89" y="213.68" width="7.16" height="7.19" fill="#fb111a"/>
<rect x="274.00" y="213.68" width="7.16" height="7.19" fill="#f90c1a"/>
<rect x="281.11" y="213.68" width="7.16" height="7.19" fill="#fa0c1a"/>
<rect x="288.22" y="213.68" width="7.16" height="7.19" fill="#da0824"/>
<rect x="295.33" y="213.68" width="7.16" height="7.19" fill="#dc0823"/>
<rect x="302.44" y="213.68" width="7.16" height="7.19" fill="#a4062a"/>
<rect x="309.56" y="213.68" width="7.16" height="7.19" fill="#a3062a"/>
<rect x="316.67" y="213.68" width="7.16" height="7.19" fill="#a3062a"/>
<rect x="323.78" y="213.68" width="7.16" height="7.19" fill="#a0062a"/>
<rect x="330.89" y="213.68" width="7.16" height="7.19" fill="#9a062a"/>
<rect x="338.00" y="213.68" width="7.16" height="7.19" fill="#fee595"/>
<rect x="345.11" y="213.68" width="7.16" height="7.19" fill="#fee390"/>
<rect x="352.22" y="213.68" width="7.16" height="7.19" fill="#fff3b9"/>
<rect x="359.33" y="213.68" width="7.16" height="7.19" fill="#fff2b5"/>
<rect x="366.44" y="213.68" width="7.16" height="7.19" fill="#fff1b4"/>
<rect x="373.55" y="213.68" width="7.16" height="7.19" fill="#feeba4"/>
<rect x="380.66" y="213.68" width="7.16" height="7.19" fill="#feefae"/>
<rect x="387.77" y="213.68" width="7.16" height="7.19" fill="#fef0b1"/>
<rect x="394.88" y="213.68" width="7.16" height="7.19" fill="#feeba5"/>
<rect x="401.99" y="213.68" width="7.16" height="7.19" fill="#fff1b4"/>
<rect x="409.10" y="213.68" width="7.16" height="7.19" fill="#feefaf"/>
<rect x="416.21" y="213.68" width="7.16" height="7.19" fill="#feefad"/>
<rect x="423.33" y="213.68" width="7.16" height="7.19" fill="#feeda8"/>
<rect x="430.44" y="213.68" width="7.16" height="7.19" fill="#feeda8"/>
<rect x="437.55" y="213.68" width="7.16" height="7.19" fill="#feeeaa"/>
<rect x="444.66" y="213.68" width="7.16" height="7.19" fill="#fff0b2"/>
<rect x="451.77" y="213.68" width="7.16" height="7.19" fill="#fff0b2"/>
<rect x="458.88" y="213.68" width="7.16" height="7.19" fill="#fff2b6"/>
<rect x="465.99" y="213.68" width="7.16" height="7.19" fill="#feeca6"/>
<rect x="138.90" y="220.81" width="7.16" height="7.19" fill="#fedb7d"/>
<rect x="146.01" y="220.81" width="7.16" height="7.19" fill="#feda7c"/>
<rect x="153.12" y="220.81" width="7.16" height="7.19" fill="#fedd83"/>
<rect x="160.23" y="220.81" width="7.16" height="7.19" fill="#fedc7f"/>
<rect x="167.34" y="220.81" width="7.16" height="7.19" fill="#feda7b"/>
<rect x="174.45" y="220.81" width="7.16" height="7.19" fill="#fedb7e"/>
<rect x="181.56" y="220.81" width="7.16" height="7.19" fill="#fede84"/>
<rect x="188.67" y="220.81" width="7.16" height="7.19" fill="#fedc7f"/>
<rect x="195.79" y="220.81" width="7.16" height="7.19" fill="#feda7a"/>
<rect x="202.90" y="220.81" width="7.16" height="7.19" fill="#fedd82"/>
<rect x="210.01" y="220.81" width="7.16" height="7.19" fill="#fedd83"/>
<rect x="217.12" y="220.81" width="7.16" height="7.19" fill="#fedd81"/>
<rect x="224.23" y="220.81" width="7.16" height="7.19" fill="#fedb7c"/>
<rect x="231.34" y="220.81" width="7.16" height="7.19" fill="#feda7a"/>
<rect x="238.45" y="220.81" width="7.16" height="7.19" fill="#fede83"/>
<rect x="245.56" y="220.81" width="7.16" height="7.19" fill="#fede83"/>
<rect x="252.67" y="220.81" width="7.16" height="7.19" fill="#fedd82"/>
<rect x="259.78" y="220.81" width="7.16" height="7.19" fill="#fee08a"/>
<rect x="266.89" y="220.81" width="7.16" height="7.19" fill="#fedf86"/>
<rect x="274.00" y="220.81" width="7.16" height="7.19" fill="#fee28e"/>
<rect x="281.11" y="220.81" width="7.16" height="7.19" fill="#fee08a"/>
<rect x="288.22" y="220.81" width="7.16" height="7.19" fill="#fee28d"/>
<rect x="295.33" y="220.81" width="7.16" height="7.19" fill="#fedb7c"/>
<rect x="302.44" y="220.81" width="7.16" height="7.19" fill="#fedd81"/>
<rect x="309.56" y="220.81" width="7.16" height="7.19" fill="#fee28f"/>
<rect x="316.67" y="220.81" width="7.16" height="7.19" fill="#fedb7c"/>
<rect x="323.78" y="220.81" width="7.16" height="7.19" fill="#fee28f"/>
<rect x="330.89" y="220.81" width="7.16" height="7.19" fill="#fee089"/>
<rect x="338.00" y="220.81" width="7.16" height="7.19" fill="#9a062a"/>
<rect x="345.11" y="220.81" width="7.16" height="7.19" fill="#fedc80"/>
<rect x="352.22" y="220.81" width="7.16" height="7.19" fill="#fedd82"/>
<rect x="359.33" y="220.81" width="7.16" height="7.19" fill="#fede83"/>
<rect x="366.44" y="220.81" width="7.16" height="7.19" fill="#fedf87"/>
<rect x="373.55" y="220.81" width="7.16" height="7.19" fill="#fee18a"/>
<rect x="380.66" y="220.81" width="7.16" height="7.19" fill="#fede84"/>
<rect x="387.77" y="220.81" width="7.16" height="7.19" fill="#fee18b"/>
<rect x="394.88" y="220.81" width="7.16" height="7.19" fill="#fee08a"/>
<rect x="401.99" y="220.81" width="7.16" height="7.19" fill="#fedf88"/>
<rect x="409.10" y="220.81" width="7.16" height="7.19" fill="#fee18c"/>
<rect x="416.21" y="220.81" width="7.16" height="7.19" fill="#fedf88"/>
<rect x="423.33" y="220.81" width="7.16" height="7.19" fill="#fedd82"/>
<rect x="430.44" y="220.81" width="7.16" height="7.19" fill="#fede84"/>
<rect x="437.55" y="220.81" width="7.16" height="7.19" fill="#fedf86"/>
<rect x="444.66" y="220.81" width="7.16" height="7.19" fill="#fede85"/>
<rect x="451.77" y="220.81" width="7.16" height="7.19" fill="#fedf87"/>
<rect x="458.88" y="220.81" width="7.16" height="7.19" fill="#fee18b"/>
<rect x="465.99" y="220.81" width="7.16" height="7.19" fill="#fede85"/>
<rect x="138.90" y="227.95" width="7.16" height="7.19" fill="#fee99d"/>
<rect x="146.01" y="227.95" width="7.16" height="7.19" fill="#fee799"/>
<rect x="153.12" y="227.95" width="7.16" height="7.19" fill="#fee697"/>
<rect x="160.23" y="227.95" width="7.16" height="7.19" fill="#fee89d"/>
<rect x="167.34" y="227.95" width="7.16" height="7.19" fill="#fee89b"/>
<rect x="174.45" y="227.95" width="7.16" height="7.19" fill="#fee799"/>
<rect x="181.56" y="227.95" width="7.16" height="7.19" fill="#fee89d"/>
<rect x="188.67" y="227.95" width="7.16" height="7.19" fill="#fee9a0"/>
<rect x="195.79" y="227.95" width="7.16" height="7.19" fill="#fee799"/>
<rect x="202.90" y="227.95" width="7.16" height="7.19" fill="#fee697"/>
<rect x="210.01" y="227.95" width="7.16" height="7.19" fill="#fee698"/>
<rect x="217.12" y="227.95" width="7.16" height="7.19" fill="#fee799"/>
<rect x="224.23" y="227.95" width="7.16" height="7.19" fill="#fee697"/>
<rect x="231.34" y="227.95" width="7.16" height="7.19" fill="#fee79a"/>
<rect x="238.45" y="227.95" width="7.16" height="7.19" fill="#fee79a"/>
<rect x="245.56" y="227.95" width="7.16" height="7.19" fill="#fee89d"/>
<rect x="252.67" y="227.95" width="7.16" height="7.19" fill="#fee99f"/>
<rect x="259.78" y="227.95" width="7.16" height="7.19" fill="#fee799"/>
<rect x="266.89" y="227.95" width="7.16" height="7.19" fill="#feeca6"/>
<rect x="274.00" y="227.95" width="7.16" height="7.19" fill="#fee99e"/>
<rect x="281.11" y="227.95" width="7.16" height="7.19" fill="#fee596"/>
<rect x="288.22" y="227.95" width="7.16" height="7.19" fill="#fee697"/>
<rect x="295.33" y="227.95" width="7.16" height="7.19" fill="#fee799"/>
<rect x="302.44" y="227.95" width="7.16" height="7.19" fill="#feeaa2"/>
<rect x="309.56" y="227.95" width="7.16" height="7.19" fill="#fee99e"/>
<rect x="316.67" y="227.95" width="7.16" height="7.19" fill="#fee89d"/>
<rect x="323.78" y="227.95" width="7.16" height="7.19" fill="#fee799"/>
<rect x="330.89" y="227.95" width="7.16" height="7.19" fill="#fee99e"/>
<rect x="338.00" y="227.95" width="7.16" height="7.19" fill="#fee089"/>
<rect x="345.11" y="227.95" width="7.16" height="7.19" fill="#9a062a"/>
<rect x="352.22" y="227.95" width="7.16" height="7.19" fill="#fd8438"/>
<rect x="359.33" y="227.95" width="7.16" height="7.19" fill="#fd8b3b"/>
<rect x="366.44" y="227.95" width="7.16" height="7.19" fill="#fd8739"/>
<rect x="373.55" y="227.95" width="7.16" height="7.19" fill="#fd8539"/>
<rect x="380.66" y="227.95" width="7.16" height="7.19" fill="#fd893a"/>
<rect x="387.77" y="227.95" width="7.16" height="7.19" fill="#fd883a"/>
<rect x="394.88" y="227.95" width="7.16" height="7.19" fill="#fd8338"/>
<rect x="401.99" y="227.95" width="7.16" height="7.19" fill="#fd8d3b"/>
<rect x="409.10" y="227.95" width="7.16" height="7.19" fill="#fd883a"/>
<rect x="416.21" y="227.95" width="7.16" height="7.19" fill="#fd8c3b"/>
<rect x="423.33" y="227.95" width="7.16" height="7.19" fill="#fd8539"/>
<rect x="430.44" y="227.95" width="7.16" height="7.19" fill="#fd8438"/>
<rect x="437.55" y="227.95" width="7.16" height="7.19" fill="#fd883a"/>
<rect x="444.66" y="227.95" width="7.16" height="7.19" fill="#fd8c3b"/>
<rect x="451.77" y="227.95" width="7.16" height="7.19" fill="#fd8739"/>
<rect x="458.88" y="227.95" width="7.16" height="7.19" fill="#fd883a"/>
<rect x="465.99" y="227.95" width="7.16" height="7.19" fill="#fd8639"/>
<rect x="138.90" y="235.09" width="7.16" height="7.19" fill="#feeba3"/>
<rect x="146.01" y="235.09" width="7.16" height="7.19" fill="#feeaa1"/>
<rect x="153.12" y="235.09" width="7.16" height="7.19" fill="#fee99e"/>
<rect x="160.23" y="235.09" width="7.16" height="7.19" fill="#feeba3"/>
<rect x="167.34" y="235.09" width="7.16" height="7.19" fill="#feeba4"/>
<rect x="174.45" y="235.09" width="7.16" height="7.19" fill="#fee89d"/>
<rect x="181.56" y="235.09" width="7.16" height="7.19" fill="#feeca7"/>
<rect x="188.67" y="235.09" width="7.16" height="7.19" fill="#feeaa1"/>
<rect x="195.79" y="235.09" width="7.16" height="7.19" fill="#feeba5"/>
<rect x="202.90" y="235.09" width="7.16" height="7.19" fill="#fee99f"/>
<rect x="210.01" y="235.09" width="7.16" height="7.19" fill="#feeda9"/>
<rect x="217.12" y="235.09" width="7.16" height="7.19" fill="#fee89c"/>
<rect x="224.23" y="235.09" width="7.16" height="7.19" fill="#feeca5"/>
<rect x="231.34" y="235.09" width="7.16" height="7.19" fill="#feedaa"/>
<rect x="238.45" y="235.09" width="7.16" height="7.19" fill="#feeca6"/>
<rect x="245.56" y="235.09" width="7.16" height="7.19" fill="#feeba5"/>
<rect x="252.67" y="235.09" width="7.16" height="7.19" fill="#feedaa"/>
<rect x="259.78" y="235.09" width="7.16" height="7.19" fill="#fff1b2"/>
<rect x="266.89" y="235.09" width="7.16" height="7.19" fill="#fff0b2"/>
<rect x="274.00" y="235.09" width="7.16" height="7.19" fill="#feeeac"/>
<rect x="281.11" y="235.09" width="7.16" height="7.19" fill="#fff1b4"/>
<rect x="288.22" y="235.09" width="7.16" height="7.19" fill="#fff2b6"/>
<rect x="295.33" y="235.09" width="7.16" height="7.19" fill="#fff2b7"/>
<rect x="302.44" y="235.09" width="7.16" height="7.19" fill="#feeeab"/>
<rect x="309.56" y="235.09" width="7.16" height="7.19" fill="#feeca6"/>
<rect x="316.67" y="235.09" width="7.16" height="7.19" fill="#fef0b0"/>
<rect x="323.78" y="235.09" width="7.16" height="7.19" fill="#fff2b7"/>
<rect x="330.89" y="235.09" width="7.16" height="7.19" fill="#feeda9"/>
<rect x="338.00" y="235.09" width="7.16" height="7.19" fill="#fee28d"/>
<rect x="345.11" y="235.09" width="7.16" height="7.19" fill="#fd8539"/>
<rect x="352.22" y="235.09" width="7.16" height="7.19" fill="#9a062a"/>
<rect x="359.33" y="235.09" width="7.16" height="7.19" fill="#a3062a"/>
<rect x="366.44" y="235.09" width="7.16" height="7.19" fill="#be0629"/>
<rect x="373.55" y="235.09" width="7.16" height="7.19" fill="#be0629"/>
<rect x="380.66" y="235.09" width="7.16" height="7.19" fill="#f10b1d"/>
<rect x="387.77" y="235.09" width="7.16" height="7.19" fill="#f30b1c"/>
<rect x="394.88" y="235.09" width="7.16" height="7.19" fill="#f10b1d"/>
<rect x="401.99" y="235.09" width="7.16" height="7.19" fill="#fe211c"/>
<rect x="409.10" y="235.09" width="7.16" height="7.19" fill="#fd1c1b"/>
<rect x="416.21" y="235.09" width="7.16" height="7.19" fill="#fe201c"/>
<rect x="423.33" y="235.09" width="7.16" height="7.19" fill="#fe1e1b"/>
<rect x="430.44" y="235.09" width="7.16" height="7.19" fill="#fd1d1b"/>
<rect x="437.55" y="235.09" width="7.16" height="7.19" fill="#fd1d1b"/>
<rect x="444.66" y="235.09" width="7.16" height="7.19" fill="#fe201c"/>
<rect x="451.77" y="235.09" width="7.16" height="7.19" fill="#fe211c"/>
<rect x="458.88" y="235.09" width="7.16" height="7.19" fill="#fe1f1b"/>
<rect x="465.99" y="235.09" width="7.16" height="7.19" fill="#fe221c"/>
<rect x="138.90" y="242.22" width="7.16" height="7.19" fill="#fee99e"/>
<rect x="146.01" y="242.22" width="7.16" height="7.19" fill="#feeca5"/>
<rect x="153.12" y="242.22" width="7.16" height="7.19" fill="#fee99e"/>
<rect x="160.23" y="242.22" width="7.16" height="7.19" fill="#feeca7"/>
<rect x="167.34" y="242.22" width="7.16" height="7.19" fill="#feeba5"/>
<rect x="174.45" y="242.22" width="7.16" height="7.19" fill="#feeca7"/>
<rect x="181.56" y="242.22" width="7.16" height="7.19" fill="#feeba4"/>
<rect x="188.67" y="242.22" width="7.16" height="7.19" fill="#feeca8"/>
<rect x="195.79" y="242.22" width="7.16" height="7.19" fill="#feedaa"/>
<rect x="202.90" y="242.22" width="7.16" height="7.19" fill="#feeaa0"/>
<rect x="210.01" y="242.22" width="7.16" height="7.19" fill="#feeca6"/>
<rect x="217.12" y="242.22" width="7.16" height="7.19" fill="#feeca7"/>
<rect x="224.23" y="242.22" width="7.16" height="7.19" fill="#feeca6"/>
<rect x="231.34" y="242.22" width="7.16" height="7.19" fill="#feeba3"/>
<rect x="238.45" y="242.22" width="7.16" height="7.19" fill="#feeba4"/>
<rect x="245.56" y="242.22" width="7.16" height="7.19" fill="#feeaa1"/>
<rect x="252.67" y="242.22" width="7.16" height="7.19" fill="#feeaa1"/>
<rect x="259.78" y="242.22" width="7.16" height="7.19" fill="#fff1b4"/>
<rect x="266.89" y="242.22" width="7.16" height="7.19" fill="#feeca6"/>
<rect x="274.00" y="242.22" width="7.16" height="7.19" fill="#feeda8"/>
<rect x="281.11" y="242.22" width="7.16" height="7.19" fill="#fff4bb"/>
<rect x="288.22" y="242.22" width="7.16" height="7.19" fill="#feeda9"/>
<rect x="295.33" y="242.22" width="7.16" height="7.19" fill="#feeca7"/>
<rect x="302.44" y="242.22" width="7.16" height="7.19" fill="#feedaa"/>
<rect x="309.56" y="242.22" width="7.16" height="7.19" fill="#fff3b9"/>
<rect x="316.67" y="242.22" width="7.16" height="7.19" fill="#feeda8"/>
<rect x="323.78" y="242.22" width="7.16" height="7.19" fill="#feefad"/>
<rect x="330.89" y="242.22" width="7.16" height="7.19" fill="#fff4bc"/>
<rect x="338.00" y="242.22" width="7.16" height="7.19" fill="#fee492"/>
<rect x="345.11" y="242.22" width="7.16" height="7.19" fill="#fd7d35"/>
<rect x="352.22" y="242.22" width="7.16" height="7.19" fill="#a0062a"/>
<rect x="359.33" y="242.22" width="7.16" height="7.19" fill="#9a062a"/>
<rect x="366.44" y="242.22" width="7.16" height="7.19" fill="#c10628"/>
<rect x="373.55" y="242.22" width="7.16" height="7.19" fill="#c20628"/>
<rect x="380.66" y="242.22" width="7.16" height="7.19" fill="#f70c1b"/>
<rect x="387.77" y="242.22" width="7.16" height="7.19" fill="#f60b1b"/>
<rect x="394.88" y="242.22" width="7.16" height="7.19" fill="#ef0a1e"/>
<rect x="401.99" y="242.22" width="7.16" height="7.19" fill="#fe201c"/>
<rect x="409.10" y="242.22" width="7.16" height="7.19" fill="#fe221c"/>
<rect x="416.21" y="242.22" width="7.16" height="7.19" fill="#fd1c1b"/>
<rect x="423.33" y="242.22" width="7.16" height="7.19" fill="#fd1d1b"/>
<rect x="430.44" y="242.22" width="7.16" height="7.19" fill="#fe221c"/>
<rect x="437.55" y="242.22" width="7.16" height="7.19" fill="#fd1c1b"/>
<rect x="444.66" y="242.22" width="7.16" height="7.19" fill="#fe1f1b"/>
<rect x="451.77" y="242.22" width="7.16" height="7.19" fill="#fd1d1b"/>
<rect x="458.88" y="242.22" width="7.16" height="7.19" fill="#fd1e1b"/>
<rect x="465.99" y="242.22" width="7.16" height="7.19" fill="#fd1c1b"/>
<rect x="138.90" y="249.36" width="7.16" height="7.19" fill="#fee99f"/>
<rect x="146.01" y="249.36" width="7.16" height="7.19" fill="#fee99e"/>
<rect x="153.12" y="249.36" width="7.16" height="7.19" fill="#feeca8"/>
<rect x="160.23" y="249.36" width="7.16" height="7.19" fill="#feeaa0"/>
<rect x="167.34" y="249.36" width="7.16" height="7.19" fill="#feeba3"/>
<rect x="174.45" y="249.36" width="7.16" height="7.19" fill="#fee9a0"/>
<rect x="181.56" y="249.36" width="7.16" height="7.19" fill="#feeba4"/>
<rect x="188.67" y="249.36" width="7.16" height="7.19" fill="#fee99e"/>
<rect x="195.79" y="249.36" width="7.16" height="7.19" fill="#feeaa2"/>
<rect x="202.90" y="249.36" width="7.16" height="7.19" fill="#feeca7"/>
<rect x="210.01" y="249.36" width="7.16" height="7.19" fill="#feeca7"/>
<rect x="217.12" y="249.36" width="7.16" height="7.19" fill="#feeda8"/>
<rect x="224.23" y="249.36" width="7.16" height="7.19" fill="#feeba3"/>
<rect x="231.34" y="249.36" width="7.16" height="7.19" fill="#feedaa"/>
<rect x="238.45" y="249.36" width="7.16" height="7.19" fill="#feeba4"/>
<rect x="245.56" y="249.36" width="7.16" height="7.19" fill="#feeda8"/>
<rect x="252.67" y="249.36" width="7.16" height="7.19" fill="#feeba3"/>
<rect x="259.78" y="249.36" width="7.16" height="7.19" fill="#fef0b0"/>
<rect x="266.89" y="249.36" width="7.16" height="7.19" fill="#feefaf"/>
<rect x="274.00" y="249.36" width="7.16" height="7.19" fill="#feeca8"/>
<rect x="281.11" y="249.36" width="7.16" height="7.19" fill="#fff4bc"/>
<rect x="288.22" y="249.36" width="7.16" height="7.19" fill="#feeda8"/>
<rect x="295.33" y="249.36" width="7.16" height="7.19" fill="#fff0b1"/>
<rect x="302.44" y="249.36" width="7.16" height="7.19" fill="#feefaf"/>
<rect x="309.56" y="249.36" width="7.16" height="7.19" fill="#feeeac"/>
<rect x="316.67" y="249.36" width="7.16" height="7.19" fill="#feeda8"/>
<rect x="323.78" y="249.36" width="7.16" height="7.19" fill="#fff1b3"/>
<rect x="330.89" y="249.36" width="7.16" height="7.19" fill="#fff1b2"/>
<rect x="338.00" y="249.36" width="7.16" height="7.19" fill="#fedf86"/>
<rect x="345.11" y="249.36" width="7.16" height="7.19" fill="#fd8639"/>
<rect x="352.22" y="249.36" width="7.16" height="7.19" fill="#c50628"/>
<rect x="359.33" y="249.36" width="7.16" height="7.19" fill="#c50628"/>
<rect x="366.44" y="249.36" width="7.16" height="7.19" fill="#9a062a"/>
<rect x="373.55" y="249.36" width="7.16" height="7.19" fill="#a4062a"/>
<rect x="380.66" y="249.36" width="7.16" height="7.19" fill="#f10b1d"/>
<rect x="387.77" y="249.36" width="7.16" height="7.19" fill="#f00b1d"/>
<rect x="394.88" y="249.36" width="7.16" height="7.19" fill="#ed0a1e"/>
<rect x="401.99" y="249.36" width="7.16" height="7.19" fill="#fe211c"/>
<rect x="409.10" y="249.36" width="7.16" height="7.19" fill="#fd1c1b"/>
<rect x="416.21" y="249.36" width="7.16" height="7.19" fill="#fe1f1b"/>
<rect x="423.33" y="249.36" width="7.16" height="7.19" fill="#fe1f1b"/>
<rect x="430.44" y="249.36" width="7.16" height="7.19" fill="#fd1c1b"/>
<rect x="437.55" y="249.36" width="7.16" height="7.19" fill="#fe231c"/>
<rect x="444.66" y="249.36" width="7.16" height="7.19" fill="#fd1e1b"/>
<rect x="451.77" y="249.36" width="7.16" height="7.19" fill="#fe1e1b"/>
<rect x="458.88" y="249.36" width="7.16" height="7.19" fill="#fe211c"/>
<rect x="465.99" y="249.36" width="7.16" height="7.19" fill="#fd1d1b"/>
<rect x="138.90" y="256.49" width="7.16" height="7.19" fill="#feeba5"/>
<rect x="146.01" y="256.49" width="7.16" height="7.19" fill="#feeba4"/>
<rect x="153.12" y="256.49" width="7.16" height="7.19" fill="#feeba3"/>
<rect x="160.23" y="256.49" width="7.16" height="7.19" fill="#fee99f"/>
<rect x="167.34" y="256.49" width="7.16" height="7.19" fill="#feeca7"/>
<rect x="174.45" y="256.49" width="7.16" height="7.19" fill="#feeba4"/>
<rect x="181.56" y="256.49" width="7.16" height="7.19" fill="#feeba4"/>
<rect x="188.67" y="256.49" width="7.16" height="7.19" fill="#feeaa2"/>
<rect x="195.79" y="256.49" width="7.16" height="7.19" fill="#fee99e"/>
<rect x="202.90" y="256.49" width="7.16" height="7.19" fill="#feeca6"/>
<rect x="210.01" y="256.49" width="7.16" height="7.19" fill="#fee99e"/>
<rect x="217.12" y="256.49" width="7.16" height="7.19" fill="#feeba5"/>
<rect x="224.23" y="256.49" width="7.16" height="7.19" fill="#feeba3"/>
<rect x="231.34" y="256.49" width="7.16" height="7.19" fill="#feeca6"/>
<rect x="238.45" y="256.49" width="7.16" height="7.19" fill="#feeba3"/>
<rect x="245.56" y="256.49" width="7.16" height="7.19" fill="#fee89c"/>
<rect x="252.67" y="256.49" width="7.16" height="7.19" fill="#feeaa1"/>
<rect x="259.78" y="256.49" width="7.16" height="7.19" fill="#feeda9"/>
<rect x="266.89" y="256.49" width="7.16" height="7.19" fill="#fff1b4"/>
<rect x="274.00" y="256.49" width="7.16" height="7.19" fill="#fff1b5"/>
<rect x="281.11" y="256.49" width="7.16" height="7.19" fill="#fff2b5"/>
<rect x="288.22" y="256.49" width="7.16" height="7.19" fill="#feefae"/>
<rect x="295.33" y="256.49" width="7.16" height="7.19" fill="#feefad"/>
<rect x="302.44" y="256.49" width="7.16" height="7.19" fill="#feedaa"/>
<rect x="309.56" y="256.49" width="7.16" height="7.19" fill="#fff4bb"/>
<rect x="316.67" y="256.49" width="7.16" height="7.19" fill="#feeeab"/>
<rect x="323.78" y="256.49" width="7.16" height="7.19" fill="#feeca7"/>
<rect x="330.89" y="256.49" width="7.16" height="7.19" fill="#feefaf"/>
<rect x="338.00" y="256.49" width="7.16" height="7.19" fill="#fee492"/>
<rect x="345.11" y="256.49" width="7.16" height="7.19" fill="#fd8438"/>
<rect x="352.22" y="256.49" width="7.16" height="7.19" fill="#c90628"/>
<rect x="359.33" y="256.49" width="7.16" height="7.19" fill="#c80628"/>
<rect x="366.44" y="256.49" width="7.16" height="7.19" fill="#9f062a"/>
<rect x="373.55" y="256.49" width="7.16" height="7.19" fill="#9a062a"/>
<rect x="380.66" y="256.49" width="7.16" height="7.19" fill="#f10b1d"/>
<rect x="387.77" y="256.49" width="7.16" height="7.19" fill="#f00b1d"/>
<rect x="394.88" y="256.49" width="7.16" height="7.19" fill="#ef0a1e"/>
<rect x="401.99" y="256.49" width="7.16" height="7.19" fill="#fd1c1b"/>
<rect x="409.10" y="256.49" width="7.16" height="7.19" fill="#fe1e1b"/>
<rect x="416.21" y="256.49" width="7.16" height="7.19" fill="#fe1e1b"/>
<rect x="423.33" y="256.49" width="7.16" height="7.19" fill="#fe1e1b"/>
<rect x="430.44" y="256.49" width="7.16" height="7.19" fill="#fd1e1b"/>
<rect x="437.55" y="256.49" width="7.16" height="7.19" fill="#fe1f1b"/>
<rect x="444.66" y="256.49" width="7.16" height="7.19" fill="#fd1e1b"/>
<rect x="451.77" y="256.49" width="7.16" height="7.19" fill="#fe211c"/>
<rect x="458.88" y="256.49" width="7.16" height="7.19" fill="#fd1e1b"/>
<rect x="465.99" y="256.49" width="7.16" height="7.19" fill="#fe201c"/>
<rect x="138.90" y="263.63" width="7.16" height="7.19" fill="#fee99f"/>
<rect x="146.01" y="263.63" width="7.16" height="7.19" fill="#feeda9"/>
<rect x="153.12" y="263.63" width="7.16" height="7.19" fill="#feeca8"/>
<rect x="160.23" y="263.63" width="7.16" height="7.19" fill="#feedaa"/>
<rect x="167.34" y="263.63" width="7.16" height="7.19" fill="#fee99f"/>
<rect x="174.45" y="263.63" width="7.16" height="7.19" fill="#fee89d"/>
<rect x="181.56" y="263.63" width="7.16" height="7.19" fill="#feeaa1"/>
<rect x="188.67" y="263.63" width="7.16" height="7.19" fill="#feeba5"/>
<rect x="195.79" y="263.63" width="7.16" height="7.19" fill="#fee99f"/>
<rect x="202.90" y="263.63" width="7.16" height="7.19" fill="#fee99f"/>
<rect x="210.01" y="263.63" width="7.16" height="7.19" fill="#feeaa2"/>
<rect x="217.12" y="263.63" width="7.16" height="7.19" fill="#feeca7"/>
<rect x="224.23" y="263.63" width="7.16" height="7.19" fill="#feeca6"/>
<rect x="231.34" y="263.63" width="7.16" height="7.19" fill="#feeba4"/>
<rect x="238.45" y="263.63" width="7.16" height="7.19" fill="#feeca6"/>
<rect x="245.56" y="263.63" width="7.16" height="7.19" fill="#feeba4"/>
<rect x="252.67" y="263.63" width="7.16" height="7.19" fill="#feeaa1"/>
<rect x="259.78" y="263.63" width="7.16" height="7.19" fill="#feeca6"/>
<rect x="266.89" y="263.63" width="7.16" height="7.19" fill="#fff4bb"/>
<rect x="274.00" y="263.63" width="7.16" height="7.19" fill="#feefaf"/>
<rect x="281.11" y="263.63" width="7.16" height="7.19" fill="#fff4bb"/>
<rect x="288.22" y="263.63" width="7.16" height="7.19" fill="#fff3ba"/>
<rect x="295.33" y="263.63" width="7.16" height="7.19" fill="#feeda9"/>
<rect x="302.44" y="263.63" width="7.16" height="7.19" fill="#feefaf"/>
<rect x="309.56" y="263.63" width="7.16" height="7.19" fill="#feeca6"/>
<rect x="316.67" y="263.63" width="7.16" height="7.19" fill="#fff0b2"/>
<rect x="323.78" y="263.63" width="7.16" height="7.19" fill="#fff4bc"/>
<rect x="330.89" y="263.63" width="7.16" height="7.19" fill="#fff1b3"/>
<rect x="338.00" y="263.63" width="7.16" height="7.19" fill="#fee18b"/>
<rect x="345.11" y="263.63" width="7.16" height="7.19" fill="#fd7d36"/>
<rect x="352.22" y="263.63" width="7.16" height="7.19" fill="#ec0a1e"/>
<rect x="359.33" y="263.63" width="7.16" height="7.19" fill="#f30b1c"/>
<rect x="366.44" y="263.63" width="7.16" height="7.19" fill="#f30b1c"/>
<rect x="373.55" y="263.63" width="7.16" height="7.19" fill="#f70c1b"/>
<rect x="380.66" y="263.63" width="7.16" height="7.19" fill="#9a062a"/>
<rect x="387.77" y="263.63" width="7.16" height="7.19" fill="#e90a1f"/>
<rect x="394.88" y="263.63" width="7.16" height="7.19" fill="#ee0a1e"/>
<rect x="401.99" y="263.63" width="7.16" height="7.19" fill="#fe221c"/>
<rect x="409.10" y="263.63" width="7.16" height="7.19" fill="#fe231c"/>
<rect x="416.21" y="263.63" width="7.16" height="7.19" fill="#fe231c"/>
<rect x="423.33" y="263.63" width="7.16" height="7.19" fill="#fd1e1b"/>
<rect x="430.44" y="263.63" width="7.16" height="7.19" fill="#fe221c"/>
<rect x="437.55" y="263.63" width="7.16" height="7.19" fill="#fd1c1b"/>
<rect x="444.66" y="263.63" width="7.16" height="7.19" fill="#fe221c"/>
<rect x="451.77" y="263.63" width="7.16" height="7.19" fill="#fd1d1b"/>
<rect x="458.88" y="263.63" width="7.16" height="7.19" fill="#fe221c"/>
<rect x="465.99" y="263.63" width="7.16" height="7.19" fill="#fe231c"/>
<rect x="138.90" y="270.77" width="7.16" height="7.19" fill="#feeaa0"/>
<rect x="146.01" y="270.77" width="7.16" height="7.19" fill="#feeca7"/>
<rect x="153.12" y="270.77" width="7.16" height="7.19" fill="#fee9a0"/>
<rect x="160.23" y="270.77" width="7.16" height="7.19" fill="#feeca8"/>
<rect x="167.34" y="270.77" width="7.16" height="7.19" fill="#feedaa"/>
<rect x="174.45" y="270.77" width="7.16" height="7.19" fill="#fee99f"/>
<rect x="181.56" y="270.77" width="7.16" height="7.19" fill="#feeaa0"/>
<rect x="188.67" y="270.77" width="7.16" height="7.19" fill="#fee99e"/>
<rect x="195.79" y="270.77" width="7.16" height="7.19" fill="#fee9a0"/>
<rect x="202.90" y="270.77" width="7.16" height="7.19" fill="#feeda9"/>
<rect x="210.01" y="270.77" width="7.16" height="7.19" fill="#feeaa1"/>
<rect x="217.12" y="270.77" width="7.16" height="7.19" fill="#feeaa0"/>
<rect x="224.23" y="270.77" width="7.16" height="7.19" fill="#feeba4"/>
<rect x="231.34" y="270.77" width="7.16" height="7.19" fill="#fee89d"/>
<rect x="238.45" y="270.77" width="7.16" height="7.19" fill="#feeca7"/>
<rect x="245.56" y="270.77" width="7.16" height="7.19" fill="#fee89d"/>
<rect x="252.67" y="270.77" width="7.16" height="7.19" fill="#feeaa0"/>
<rect x="259.78" y="270.77" width="7.16" height="7.19" fill="#fff4bc"/>
<rect x="266.89" y="270.77" width="7.16" height="7.19" fill="#fff4bc"/>
<rect x="274.00" y="270.77" width="7.16" height="7.19" fill="#feeead"/>
<rect x="281.11" y="270.77" width="7.16" height="7.19" fill="#feeda9"/>
<rect x="288.22" y="270.77" width="7.16" height="7.19" fill="#fff4ba"/>
<rect x="295.33" y="270.77" width="7.16" height="7.19" fill="#fff1b5"/>
<rect x="302.44" y="270.77" width="7.16" height="7.19" fill="#feeeab"/>
<rect x="309.56" y="270.77" width="7.16" height="7.19" fill="#fff3b8"/>
<rect x="316.67" y="270.77" width="7.16" height="7.19" fill="#feeca8"/>
<rect x="323.78" y="270.77" width="7.16" height="7.19" fill="#fef0b1"/>
<rect x="330.89" y="270.77" width="7.16" height="7.19" fill="#fff4bb"/>
<rect x="338.00" y="270.77" width="7.16" height="7.19" fill="#fee28d"/>
<rect x="345.11" y="270.77" width="7.16" height="7.19" fill="#fd8137"/>
<rect x="352.22" y="270.77" width="7.16" height="7.19" fill="#f30b1c"/>
<rect x="359.33" y="270.77" width="7.16" height="7.19" fill="#f00b1d"/>
<rect x="366.44" y="270.77" width="7.16" height="7.19" fill="#f70c1b"/>
<rect x="373.55" y="270.77" width="7.16" height="7.19" fill="#ee0a1e"/>
<rect x="380.66" y="270.77" width="7.16" height="7.19" fill="#ec0a1e"/>
<rect x="387.77" y="270.77" width="7.16" height="7.19" fill="#9a062a"/>
<rect x="394.88" y="270.77" width="7.16" height="7.19" fill="#a2062a"/>
<rect x="401.99" y="270.77" width="7.16" height="7.19" fill="#fe341f"/>
<rect x="409.10" y="270.77" width="7.16" height="7.19" fill="#fe3820"/>
<rect x="416.21" y="270.77" width="7.16" height="7.19" fill="#fe3820"/>
<rect x="423.33" y="270.77" width="7.16" height="7.19" fill="#fe321f"/>
<rect x="430.44" y="270.77" width="7.16" height="7.19" fill="#fe301e"/>
<rect x="437.55" y="270.77" width="7.16" height="7.19" fill="#fe321f"/>
<rect x="444.66" y="270.77" width="7.16" height="7.19" fill="#fe3520"/>
<rect x="451.77" y="270.77" width="7.16" height="7.19" fill="#fe3920"/>
<rect x="458.88" y="270.77" width="7.16" height="7.19" fill="#fe3d21"/>
<rect x="465.99" y="270.77" width="7.16" height="7.19" fill="#fe2f1e"/>
<rect x="138.90" y="277.90" width="7.16" height="7.19" fill="#feeaa0"/>
<rect x="146.01" y="277.90" width="7.16" height="7.19" fill="#fee99e"/>
<rect x="153.12" y="277.90" width="7.16" height="7.19" fill="#feeca6"/>
<rect x="160.23" y="277.90" width="7.16" height="7.19" fill="#feeaa2"/>
<rect x="167.34" y="277.90" width="7.16" height="7.19" fill="#fee89c"/>
<rect x="174.45" y="277.90" width="7.16" height="7.19" fill="#fee99e"/>
<rect x="181.56" y="277.90" width="7.16" height="7.19" fill="#feeaa2"/>
<rect x="188.67" y="277.90" width="7.16" height="7.19" fill="#feeca6"/>
<rect x="195.79" y="277.90" width="7.16" height="7.19" fill="#feeba4"/>
<rect x="202.90" y="277.90" width="7.16" height="7.19" fill="#fee99e"/>
<rect x="210.01" y="277.90" width="7.16" height="7.19" fill="#feeba5"/>
<rect x="217.12" y="277.90" width="7.16" height="7.19" fill="#feeaa1"/>
<rect x="224.23" y="277.90" width="7.16" height="7.19" fill="#feeaa2"/>
<rect x="231.34" y="277.90" width="7.16" height="7.19" fill="#fee99d"/>
<rect x="238.45" y="277.90" width="7.16" height="7.19" fill="#fee99f"/>
<rect x="245.56" y="277.90" width="7.16" height="7.19" fill="#feeca6"/>
<rect x="252.67" y="277.90" width="7.16" height="7.19" fill="#feedaa"/>
<rect x="259.78" y="277.90" width="7.16" height="7.19" fill="#fff2b6"/>
<rect x="266.89" y="277.90" width="7.16" height="7.19" fill="#fff0b2"/>
<rect x="274.00" y="277.90" width="7.16" height="7.19" fill="#feefae"/>
<rect x="281.11" y="277.90" width="7.16" height="7.19" fill="#feeda9"/>
<rect x="288.22" y="277.90" width="7.16" height="7.19" fill="#feeca7"/>
<rect x="295.33" y="277.90" width="7.16" height="7.19" fill="#fff4bb"/>
<rect x="302.44" y="277.90" width="7.16" height="7.19" fill="#feeda8"/>
<rect x="309.56" y="277.90" width="7.16" height="7.19" fill="#feeda9"/>
<rect x="316.67" y="277.90" width="7.16" height="7.19" fill="#feeca8"/>
<rect x="323.78" y="277.90" width="7.16" height="7.19" fill="#feefaf"/>
<rect x="330.89" y="277.90" width="7.16" height="7.19" fill="#fff2b6"/>
<rect x="338.00" y="277.90" width="7.16" height="7.19" fill="#fedf87"/>
<rect x="345.11" y="277.90" width="7.16" height="7.19" fill="#fd7e36"/>
<rect x="352.22" y="277.90" width="7.16" height="7.19" fill="#f00b1d"/>
<rect x="359.33" y="277.90" width="7.16" height="7.19" fill="#ed0a1e"/>
<rect x="366.44" y="277.90" width="7.16" height="7.19" fill="#f40b1c"/>
<rect x="373.55" y="277.90" width="7.16" height="7.19" fill="#f80c1b"/>
<rect x="380.66" y="277.90" width="7.16" height="7.19" fill="#ea0a1f"/>
<rect x="387.77" y="277.90" width="7.16" height="7.19" fill="#a1062a"/>
<rect x="394.88" y="277.90" width="7.16" height="7.19" fill="#9a062a"/>
<rect x="401.99" y="277.90" width="7.16" height="7.19" fill="#fe3b21"/>
<rect x="409.10" y="277.90" width="7.16" height="7.19" fill="#fe331f"/>
<rect x="416.21" y="277.90" width="7.16" height="7.19" fill="#fe301e"/>
<rect x="423.33" y="277.90" width="7.16" height="7.19" fill="#fe3a21"/>
<rect x="430.44" y="277.90" width="7.16" height="7.19" fill="#fe351f"/>
<rect x="437.55" y="277.90" width="7.16" height="7.19" fill="#fe341f"/>
<rect x="444.66" y="277.90" width="7.16" height="7.19" fill="#fe3720"/>
<rect x="451.77" y="277.90" width="7.16" height="7.19" fill="#fe3b21"/>
<rect x="458.88" y="277.90" width="7.16" height="7.19" fill="#fe3a21"/>
<rect x="465.99" y="277.90" width="7.16" height="7.19" fill="#fe331f"/>
<rect x="138.90" y="285.04" width="7.16" height="7.19" fill="#fee99f"/>
<rect x="146.01" y="285.04" width="7.16" height="7.19" fill="#feeba4"/>
<rect x="153.12" y="285.04" width="7.16" height="7.19" fill="#feeda9"/>
<rect x="160.23" y="285.04" width="7.16" height="7.19" fill="#fee99f"/>
<rect x="167.34" y="285.04" width="7.16" height="7.19" fill="#fee99f"/>
<rect x="174.45" y="285.04" width="7.16" height="7.19" fill="#feeca7"/>
<rect x="181.56" y="285.04" width="7.16" height="7.19" fill="#feeaa2"/>
<rect x="188.67" y="285.04" width="7.16" height="7.19" fill="#fee99d"/>
<rect x="195.79" y="285.04" width="7.16" height="7.19" fill="#fee99e"/>
<rect x="202.90" y="285.04" width="7.16" height="7.19" fill="#feeba3"/>
<rect x="210.01" y="285.04" width="7.16" height="7.19" fill="#feeba4"/>
<rect x="217.12" y="285.04" width="7.16" height="7.19" fill="#feeaa2"/>
<rect x="224.23" y="285.04" width="7.16" height="7.19" fill="#feeca8"/>
<rect x="231.34" y="285.04" width="7.16" height="7.19" fill="#feeca8"/>
<rect x="238.45" y="285.04" width="7.16" height="7.19" fill="#feeca8"/>
<rect x="245.56" y="285.04" width="7.16" height="7.19" fill="#feeaa0"/>
<rect x="252.67" y="285.04" width="7.16" height="7.19" fill="#feeba5"/>
<rect x="259.78" y="285.04" width="7.16" height="7.19" fill="#feefaf"/>
<rect x="266.89" y="285.04" width="7.16" height="7.19" fill="#fff1b3"/>
<rect x="274.00" y="285.04" width="7.16" height="7.19" fill="#fef0b0"/>
<rect x="281.11" y="285.04" width="7.16" height="7.19" fill="#fff3b9"/>
<rect x="288.22" y="285.04" width="7.16" height="7.19" fill="#fff4bb"/>
<rect x="295.33" y="285.04" width="7.16" height="7.19" fill="#feeba4"/>
<rect x="302.44" y="285.04" width="7.16" height="7.19" fill="#fff1b3"/>
<rect x="309.56" y="285.04" width="7.16" height="7.19" fill="#fff3ba"/>
<rect x="316.67" y="285.04" width="7.16" height="7.19" fill="#feefad"/>
<rect x="323.78" y="285.04" width="7.16" height="7.19" fill="#feedaa"/>
<rect x="330.89" y="285.04" width="7.16" height="7.19" fill="#fff3b9"/>
<rect x="338.00" y="285.04" width="7.16" height="7.19" fill="#fee18a"/>
<rect x="345.11" y="285.04" width="7.16" height="7.19" fill="#fd8438"/>
<rect x="352.22" y="285.04" width="7.16" height="7.19" fill="#fe1f1b"/>
<rect x="359.33" y="285.04" width="7.16" height="7.19" fill="#fe231c"/>
<rect x="366.44" y="285.04" width="7.16" height="7.19" fill="#fe231c"/>
<rect x="373.55" y="285.04" width="7.16" height="7.19" fill="#fd1c1b"/>
<rect x="380.66" y="285.04" width="7.16" height="7.19" fill="#fd1d1b"/>
<rect x="387.77" y="285.04" width="7.16" height="7.19" fill="#fe341f"/>
<rect x="394.88" y="285.04" width="7.16" height="7.19" fill="#fe321f"/>
<rect x="401.99" y="285.04" width="7.16" height="7.19" fill="#9a062a"/>
<rect x="409.10" y="285.04" width="7.16" height="7.19" fill="#a3062a"/>
<rect x="416.21" y="285.04" width="7.16" height="7.19" fill="#a0062a"/>
<rect x="423.33" y="285.04" width="7.16" height="7.19" fill="#a2062a"/>
<rect x="430.44" y="285.04" width="7.16" height="7.19" fill="#ce0628"/>
<rect x="437.55" y="285.04" width="7.16" height="7.19" fill="#d00627"/>
<rect x="444.66" y="285.04" width="7.16" height="7.19" fill="#ff291d"/>
<rect x="451.77" y="285.04" width="7.16" height="7.19" fill="#ff271c"/>
<rect x="458.88" y="285.04" width="7.16" height="7.19" fill="#fe311f"/>
<rect x="465.99" y="285.04" width="7.16" height="7.19" fill="#fe341f"/>
<rect x="138.90" y="292.17" width="7.16" height="7.19" fill="#feeca8"/>
<rect x="146.01" y="292.17" width="7.16" height="7.19" fill="#feeca8"/>
<rect x="153.12" y="292.17" width="7.16" height="7.19" fill="#feeda9"/>
<rect x="160.23" y="292.17" width="7.16" height="7.19" fill="#feedaa"/>
<rect x="167.34" y="292.17" width="7.16" height="7.19" fill="#feeaa2"/>
<rect x="174.45" y="292.17" width="7.16" height="7.19" fill="#fee99e"/>
<rect x="181.56" y="292.17" width="7.16" height="7.19" fill="#feeba4"/>
<rect x="188.67" y="292.17" width="7.16" height="7.19" fill="#fee89d"/>
<rect x="195.79" y="292.17" width="7.16" height="7.19" fill="#fee89d"/>
<rect x="202.90" y="292.17" width="7.16" height="7.19" fill="#feeda9"/>
<rect x="210.01" y="292.17" width="7.16" height="7.19" fill="#feeaa2"/>
<rect x="217.12" y="292.17" width="7.16" height="7.19" fill="#feeba5"/>
<rect x="224.23" y="292.17" width="7.16" height="7.19" fill="#feeda9"/>
<rect x="231.34" y="292.17" width="7.16" height="7.19" fill="#fee89d"/>
<rect x="238.45" y="292.17" width="7.16" height="7.19" fill="#feeca7"/>
<rect x="245.56" y="292.17" width="7.16" height="7.19" fill="#feeaa2"/>
<rect x="252.67" y="292.17" width="7.16" height="7.19" fill="#feeaa1"/>
<rect x="259.78" y="292.17" width="7.16" height="7.19" fill="#feeca5"/>
<rect x="266.89" y="292.17" width="7.16" height="7.19" fill="#feeeac"/>
<rect x="274.00" y="292.17" width="7.16" height="7.19" fill="#fff1b3"/>
<rect x="281.11" y="292.17" width="7.16" height="7.19" fill="#fff0b2"/>
<rect x="288.22" y="292.17" width="7.16" height="7.19" fill="#fff3b9"/>
<rect x="295.33" y="292.17" width="7.16" height="7.19" fill="#feeca5"/>
<rect x="302.44" y="292.17" width="7.16" height="7.19" fill="#feeba5"/>
<rect x="309.56" y="292.17" width="7.16" height="7.19" fill="#fff2b7"/>
<rect x="316.67" y="292.17" width="7.16" height="7.19" fill="#fff4bb"/>
<rect x="323.78" y="292.17" width="7.16" height="7.19" fill="#fff2b6"/>
<rect x="330.89" y="292.17" width="7.16" height="7.19" fill="#fff1b4"/>
<rect x="338.00" y="292.17" width="7.16" height="7.19" fill="#fedf86"/>
<rect x="345.11" y="292.17" width="7.16" height="7.19" fill="#fd7d36"/>
<rect x="352.22" y="292.17" width="7.16" height="7.19" fill="#fd1d1b"/>
<rect x="359.33" y="292.17" width="7.16" height="7.19" fill="#fe231c"/>
<rect x="366.44" y="292.17" width="7.16" height="7.19" fill="#fd1d1b"/>
<rect x="373.55" y="292.17" width="7.16" height="7.19" fill="#fd1e1b"/>
<rect x="380.66" y="292.17" width="7.16" height="7.19" fill="#fe1e1b"/>
<rect x="387.77" y="292.17" width="7.16" height="7.19" fill="#ff2c1d"/>
<rect x="394.88" y="292.17" width="7.16" height="7.19" fill="#fe3a21"/>
<rect x="401.99" y="292.17" width="7.16" height="7.19" fill="#a3062a"/>
<rect x="409.10" y="292.17" width="7.16" height="7.19" fill="#9a062a"/>
<rect x="416.21" y="292.17" width="7.16" height="7.19" fill="#a0062a"/>
<rect x="423.33" y="292.17" width="7.16" height="7.19" fill="#9f062a"/>
<rect x="430.44" y="292.17" width="7.16" height="7.19" fill="#d10727"/>
<rect x="437.55" y="292.17" width="7.16" height="7.19" fill="#d60725"/>
<rect x="444.66" y="292.17" width="7.16" height="7.19" fill="#ff2c1d"/>
<rect x="451.77" y="292.17" width="7.16" height="7.19" fill="#ff2a1d"/>
<rect x="458.88" y="292.17" width="7.16" height="7.19" fill="#fe331f"/>
<rect x="465.99" y="292.17" width="7.16" height="7.19" fill="#fe301e"/>
<rect x="138.90" y="299.31" width="7.16" height="7.19" fill="#feeca7"/>
<rect x="146.01" y="299.31" width="7.16" height="7.19" fill="#feeda9"/>
<rect x="153.12" y="299.31" width="7.16" height="7.19" fill="#feeba3"/>
<rect x="160.23" y="299.31" width="7.16" height="7.19" fill="#feeda8"/>
<rect x="167.34" y="299.31" width="7.16" height="7.19" fill="#feeca7"/>
<rect x="174.45" y="299.31" width="7.16" height="7.19" fill="#feeda8"/>
<rect x="181.56" y="299.31" width="7.16" height="7.19" fill="#feeaa1"/>
<rect x="188.67" y="299.31" width="7.16" height="7.19" fill="#feedaa"/>
<rect x="195.79" y="299.31" width="7.16" height="7.19" fill="#feeaa0"/>
<rect x="202.90" y="299.31" width="7.16" height="7.19" fill="#feeca8"/>
<rect x="210.01" y="299.31" width="7.16" height="7.19" fill="#feedaa"/>
<rect x="217.12" y="299.31" width="7.16" height="7.19" fill="#fee89d"/>
<rect x="224.23" y="299.31" width="7.16" height="7.19" fill="#feeca7"/>
<rect x="231.34" y="299.31" width="7.16" height="7.19" fill="#fee89d"/>
<rect x="238.45" y="299.31" width="7.16" height="7.19" fill="#fee99e"/>
<rect x="245.56" y="299.31" width="7.16" height="7.19" fill="#fee99e"/>
<rect x="252.67" y="299.31" width="7.16" height="7.19" fill="#feeda8"/>
<rect x="259.78" y="299.31" width="7.16" height="7.19" fill="#fff0b2"/>
<rect x="266.89" y="299.31" width="7.16" height="7.19" fill="#fff3ba"/>
<rect x="274.00" y="299.31" width="7.16" height="7.19" fill="#feeca6"/>
<rect x="281.11" y="299.31" width="7.16" height="7.19" fill="#feeda8"/>
<rect x="288.22" y="299.31" width="7.16" height="7.19" fill="#feefad"/>
<rect x="295.33" y="299.31" width="7.16" height="7.19" fill="#fff0b2"/>
<rect x="302.44" y="299.31" width="7.16" height="7.19" fill="#fff1b4"/>
<rect x="309.56" y="299.31" width="7.16" height="7.19" fill="#feeda9"/>
<rect x="316.67" y="299.31" width="7.16" height="7.19" fill="#fef0b1"/>
<rect x="323.78" y="299.31" width="7.16" height="7.19" fill="#feefad"/>
<rect x="330.89" y="299.31" width="7.16" height="7.19" fill="#fff3b9"/>
<rect x="338.00" y="299.31" width="7.16" height="7.19" fill="#fee38f"/>
<rect x="345.11" y="299.31" width="7.16" height="7.19" fill="#fd8739"/>
<rect x="352.22" y="299.31" width="7.16" height="7.19" fill="#fd1e1b"/>
<rect x="359.33" y="299.31" width="7.16" height="7.19" fill="#fe1f1b"/>
<rect x="366.44" y="299.31" width="7.16" height="7.19" fill="#fe221c"/>
<rect x="373.55" y="299.31" width="7.16" height="7.19" fill="#fd1d1b"/>
<rect x="380.66" y="299.31" width="7.16" height="7.19" fill="#fe211c"/>
<rect x="387.77" y="299.31" width="7.16" height="7.19" fill="#fe351f"/>
<rect x="394.88" y="299.31" width="7.16" height="7.19" fill="#fe3820"/>
<rect x="401.99" y="299.31" width="7.16" height="7.19" fill="#a3062a"/>
<rect x="409.10" y="299.31" width="7.16" height="7.19" fill="#9f062a"/>
<rect x="416.21" y="299.31" width="7.16" height="7.19" fill="#9a062a"/>
<rect x="423.33" y="299.31" width="7.16" height="7.19" fill="#a2062a"/>
<rect x="430.44" y="299.31" width="7.16" height="7.19" fill="#d80725"/>
<rect x="437.55" y="299.31" width="7.16" height="7.19" fill="#d40726"/>
<rect x="444.66" y="299.31" width="7.16" height="7.19" fill="#fe301e"/>
<rect x="451.77" y="299.31" width="7.16" height="7.19" fill="#ff271c"/>
<rect x="458.88" y="299.31" width="7.16" height="7.19" fill="#fe331f"/>
<rect x="465.99" y="299.31" width="7.16" height="7.19" fill="#ff261c"/>
<rect x="138.90" y="306.45" width="7.16" height="7.19" fill="#feedaa"/>
<rect x="146.01" y="306.45" width="7.16" height="7.19" fill="#fee99e"/>
<rect x="153.12" y="306.45" width="7.16" height="7.19" fill="#feeaa1"/>
<rect x="160.23" y="306.45" width="7.16" height="7.19" fill="#feeca7"/>
<rect x="167.34" y="306.45" width="7.16" height="7.19" fill="#feeba4"/>
<rect x="174.45" y="306.45" width="7.16" height="7.19" fill="#feeca6"/>
<rect x="181.56" y="306.45" width="7.16" height="7.19" fill="#feeca7"/>
<rect x="188.67" y="306.45" width="7.16" height="7.19" fill="#feeca7"/>
<rect x="195.79" y="306.45" width="7.16" height="7.19" fill="#feeba5"/>
<rect x="202.90" y="306.45" width="7.16" height="7.19" fill="#fee89c"/>
<rect x="210.01" y="306.45" width="7.16" height="7.19" fill="#fee89c"/>
<rect x="217.12" y="306.45" width="7.16" height="7.19" fill="#fee89d"/>
<rect x="224.23" y="306.45" width="7.16" height="7.19" fill="#feeda9"/>
<rect x="231.34" y="306.45" width="7.16" height="7.19" fill="#feeca6"/>
<rect x="238.45" y="306.45" width="7.16" height="7.19" fill="#fee99d"/>
<rect x="245.56" y="306.45" width="7.16" height="7.19" fill="#feedaa"/>
<rect x="252.67" y="306.45" width="7.16" height="7.19" fill="#feeaa0"/>
<rect x="259.78" y="306.45" width="7.16" height="7.19" fill="#fff2b5"/>
<rect x="266.89" y="306.45" width="7.16" height="7.19" fill="#feeba5"/>
<rect x="274.00" y="306.45" width="7.16" height="7.19" fill="#fff4bc"/>
<rect x="281.11" y="306.45" width="7.16" height="7.19" fill="#feeda9"/>
<rect x="288.22" y="306.45" width="7.16" height="7.19" fill="#fff1b4"/>
<rect x="295.33" y="306.45" width="7.16" height="7.19" fill="#fff3b9"/>
<rect x="302.44" y="306.45" width="7.16" height="7.19" fill="#fff4bc"/>
<rect x="309.56" y="306.45" width="7.16" height="7.19" fill="#feeda8"/>
<rect x="316.67" y="306.45" width="7.16" height="7.19" fill="#fef0b0"/>
<rect x="323.78" y="306.45" width="7.16" height="7.19" fill="#fff3b8"/>
<rect x="330.89" y="306.45" width="7.16" height="7.19" fill="#fff0b2"/>
<rect x="338.00" y="306.45" width="7.16" height="7.19" fill="#fedf86"/>
<rect x="345.11" y="306.45" width="7.16" height="7.19" fill="#fd8539"/>
<rect x="352.22" y="306.45" width="7.16" height="7.19" fill="#fe1f1b"/>
<rect x="359.33" y="306.45" width="7.16" height="7.19" fill="#fe221c"/>
<rect x="366.44" y="306.45" width="7.16" height="7.19" fill="#fe221c"/>
<rect x="373.55" y="306.45" width="7.16" height="7.19" fill="#fd1d1b"/>
<rect x="380.66" y="306.45" width="7.16" height="7.19" fill="#fd1e1b"/>
<rect x="387.77" y="306.45" width="7.16" height="7.19" fill="#fe3820"/>
<rect x="394.88" y="306.45" width="7.16" height="7.19" fill="#fe3a21"/>
<rect x="401.99" y="306.45" width="7.16" height="7.19" fill="#a4062a"/>
<rect x="409.10" y="306.45" width="7.16" height="7.19" fill="#a1062a"/>
<rect x="416.21" y="306.45" width="7.16" height="7.19" fill="#a1062a"/>
<rect x="423.33" y="306.45" width="7.16" height="7.19" fill="#9a062a"/>
<rect x="430.44" y="306.45" width="7.16" height="7.19" fill="#d60725"/>
<rect x="437.55" y="306.45" width="7.16" height="7.19" fill="#d70725"/>
<rect x="444.66" y="306.45" width="7.16" height="7.19" fill="#ff2c1d"/>
<rect x="451.77" y="306.45" width="7.16" height="7.19" fill="#ff2a1d"/>
<rect x="458.88" y="306.45" width="7.16" height="7.19" fill="#ff291d"/>
<rect x="465.99" y="306.45" width="7.16" height="7.19" fill="#ff2c1d"/>
<rect x="138.90" y="313.58" width="7.16" height="7.19" fill="#feeca7"/>
<rect x="146.01" y="313.58" width="7.16" height="7.19" fill="#feeda9"/>
<rect x="153.12" y="313.58" width="7.16" height="7.19" fill="#fee9a0"/>
<rect x="160.23" y="313.58" width="7.16" height="7.19" fill="#feeba5"/>
<rect x="167.34" y="313.58" width="7.16" height="7.19" fill="#feeaa0"/>
<rect x="174.45" y="313.58" width="7.16" height="7.19" fill="#feedaa"/>
<rect x="181.56" y="313.58" width="7.16" height="7.19" fill="#fee99f"/>
<rect x="188.67" y="313.58" width="7.16" height="7.19" fill="#feeca6"/>
<rect x="195.79" y="313.58" width="7.16" height="7.19" fill="#fee99e"/>
<rect x="202.90" y="313.58" width="7.16" height="7.19" fill="#fee99e"/>
<rect x="210.01" y="313.58" width="7.16" height="7.19" fill="#feeba3"/>
<rect x="217.12" y="313.58" width="7.16" height="7.19" fill="#feedaa"/>
<rect x="224.23" y="313.58" width="7.16" height="7.19" fill="#fee89d"/>
<rect x="231.34" y="313.58" width="7.16" height="7.19" fill="#feeba4"/>
<rect x="238.45" y="313.58" width="7.16" height="7.19" fill="#fee99e"/>
<rect x="245.56" y="313.58" width="7.16" height="7.19" fill="#feeca7"/>
<rect x="252.67" y="313.58" width="7.16" height="7.19" fill="#feeca8"/>
<rect x="259.78" y="313.58" width="7.16" height="7.19" fill="#feeda8"/>
<rect x="266.89" y="313.58" width="7.16" height="7.19" fill="#fff1b4"/>
<rect x="274.00" y="313.58" width="7.16" height="7.19" fill="#fff3b8"/>
<rect x="281.11" y="313.58" width="7.16" height="7.19" fill="#fff1b3"/>
<rect x="288.22" y="313.58" width="7.16" height="7.19" fill="#feefae"/>
<rect x="295.33" y="313.58" width="7.16" height="7.19" fill="#fff4bc"/>
<rect x="302.44" y="313.58" width="7.16" height="7.19" fill="#fef0b0"/>
<rect x="309.56" y="313.58" width="7.16" height="7.19" fill="#fff0b2"/>
<rect x="316.67" y="313.58" width="7.16" height="7.19" fill="#fef0b0"/>
<rect x="323.78" y="313.58" width="7.16" height="7.19" fill="#fff3ba"/>
<rect x="330.89" y="313.58" width="7.16" height="7.19" fill="#feeeab"/>
<rect x="338.00" y="313.58" width="7.16" height="7.19" fill="#fedf88"/>
<rect x="345.11" y="313.58" width="7.16" height="7.19" fill="#fd7e36"/>
<rect x="352.22" y="313.58" width="7.16" height="7.19" fill="#fe211c"/>
<rect x="359.33" y="313.58" width="7.16" height="7.19" fill="#fd1e1b"/>
<rect x="366.44" y="313.58" width="7.16" height="7.19" fill="#fe201c"/>
<rect x="373.55" y="313.58" width="7.16" height="7.19" fill="#fd1d1b"/>
<rect x="380.66" y="313.58" width="7.16" height="7.19" fill="#fe231c"/>
<rect x="387.77" y="313.58" width="7.16" height="7.19" fill="#ff2e1e"/>
<rect x="394.88" y="313.58" width="7.16" height="7.19" fill="#ff2d1e"/>
<rect x="401.99" y="313.58" width="7.16" height="7.19" fill="#d30726"/>
<rect x="409.10" y="313.58" width="7.16" height="7.19" fill="#d30726"/>
<rect x="416.21" y="313.58" width="7.16" height="7.19" fill="#d30726"/>
<rect x="423.33" y="313.58" width="7.16" height="7.19" fill="#d30726"/>
<rect x="430.44" y="313.58" width="7.16" height="7.19" fill="#9a062a"/>
<rect x="437.55" y="313.58" width="7.16" height="7.19" fill="#da0824"/>
<rect x="444.66" y="313.58" width="7.16" height="7.19" fill="#fc191b"/>
<rect x="451.77" y="313.58" width="7.16" height="7.19" fill="#fe1e1b"/>
<rect x="458.88" y="313.58" width="7.16" height="7.19" fill="#fe1f1b"/>
<rect x="465.99" y="313.58" width="7.16" height="7.19" fill="#fe1f1b"/>
<rect x="138.90" y="320.72" width="7.16" height="7.19" fill="#feeca7"/>
<rect x="146.01" y="320.72" width="7.16" height="7.19" fill="#fee99f"/>
<rect x="153.12" y="320.72" width="7.16" height="7.19" fill="#feedaa"/>
<rect x="160.23" y="320.72" width="7.16" height="7.19" fill="#feeda9"/>
<rect x="167.34" y="320.72" width="7.16" height="7.19" fill="#feeaa0"/>
<rect x="174.45" y="320.72" width="7.16" height="7.19" fill="#feeca8"/>
<rect x="181.56" y="320.72" width="7.16" height="7.19" fill="#feedaa"/>
<rect x="188.67" y="320.72" width="7.16" height="7.19" fill="#feeaa2"/>
<rect x="195.79" y="320.72" width="7.16" height="7.19" fill="#feeaa2"/>
<rect x="202.90" y="320.72" width="7.16" height="7.19" fill="#feeba3"/>
<rect x="210.01" y="320.72" width="7.16" height="7.19" fill="#feeaa0"/>
<rect x="217.12" y="320.72" width="7.16" height="7.19" fill="#feeda9"/>
<rect x="224.23" y="320.72" width="7.16" height="7.19" fill="#fee99e"/>
<rect x="231.34" y="320.72" width="7.16" height="7.19" fill="#feeaa0"/>
<rect x="238.45" y="320.72" width="7.16" height="7.19" fill="#feedaa"/>
<rect x="245.56" y="320.72" width="7.16" height="7.19" fill="#feeda9"/>
<rect x="252.67" y="320.72" width="7.16" height="7.19" fill="#feeba3"/>
<rect x="259.78" y="320.72" width="7.16" height="7.19" fill="#fef0b0"/>
<rect x="266.89" y="320.72" width="7.16" height="7.19" fill="#fff2b6"/>
<rect x="274.00" y="320.72" width="7.16" height="7.19" fill="#fff3b9"/>
<rect x="281.11" y="320.72" width="7.16" height="7.19" fill="#fff1b3"/>
<rect x="288.22" y="320.72" width="7.16" height="7.19" fill="#fff3b9"/>
<rect x="295.33" y="320.72" width="7.16" height="7.19" fill="#feefae"/>
<rect x="302.44" y="320.72" width="7.16" height="7.19" fill="#feeca8"/>
<rect x="309.56" y="320.72" width="7.16" height="7.19" fill="#fff3b9"/>
<rect x="316.67" y="320.72" width="7.16" height="7.19" fill="#feefaf"/>
<rect x="323.78" y="320.72" width="7.16" height="7.19" fill="#feeeaa"/>
<rect x="330.89" y="320.72" width="7.16" height="7.19" fill="#fff3b8"/>
<rect x="338.00" y="320.72" width="7.16" height="7.19" fill="#fedf87"/>
<rect x="345.11" y="320.72" width="7.16" height="7.19" fill="#fd7d36"/>
<rect x="352.22" y="320.72" width="7.16" height="7.19" fill="#fe201c"/>
<rect x="359.33" y="320.72" width="7.16" height="7.19" fill="#fe201c"/>
<rect x="366.44" y="320.72" width="7.16" height="7.19" fill="#fd1d1b"/>
<rect x="373.55" y="320.72" width="7.16" height="7.19" fill="#fe1f1b"/>
<rect x="380.66" y="320.72" width="7.16" height="7.19" fill="#fe201c"/>
<rect x="387.77" y="320.72" width="7.16" height="7.19" fill="#ff2d1e"/>
<rect x="394.88" y="320.72" width="7.16" height="7.19" fill="#fe2f1e"/>
<rect x="401.99" y="320.72" width="7.16" height="7.19" fill="#d60725"/>
<rect x="409.10" y="320.72" width="7.16" height="7.19" fill="#d70725"/>
<rect x="416.21" y="320.72" width="7.16" height="7.19" fill="#d60725"/>
<rect x="423.33" y="320.72" width="7.16" height="7.19" fill="#d40726"/>
<rect x="430.44" y="320.72" width="7.16" height="7.19" fill="#cd0628"/>
<rect x="437.55" y="320.72" width="7.16" height="7.19" fill="#9a062a"/>
<rect x="444.66" y="320.72" width="7.16" height="7.19" fill="#fd1a1b"/>
<rect x="451.77" y="320.72" width="7.16" height="7.19" fill="#fd191b"/>
<rect x="458.88" y="320.72" width="7.16" height="7.19" fill="#fd1a1b"/>
<rect x="465.99" y="320.72" width="7.16" height="7.19" fill="#fd1a1b"/>
<rect x="138.90" y="327.86" width="7.16" height="7.19" fill="#feedaa"/>
<rect x="146.01" y="327.86" width="7.16" height="7.19" fill="#feeba3"/>
<rect x="153.12" y="327.86" width="7.16" height="7.19" fill="#fee89d"/>
<rect x="160.23" y="327.86" width="7.16" height="7.19" fill="#fee89d"/>
<rect x="167.34" y="327.86" width="7.16" height="7.19" fill="#feeca7"/>
<rect x="174.45" y="327.86" width="7.16" height="7.19" fill="#feeba4"/>
<rect x="181.56" y="327.86" width="7.16" height="7.19" fill="#feeaa1"/>
<rect x="188.67" y="327.86" width="7.16" height="7.19" fill="#feeba5"/>
<rect x="195.79" y="327.86" width="7.16" height="7.19" fill="#feeba3"/>
<rect x="202.90" y="327.86" width="7.16" height="7.19" fill="#feeda9"/>
<rect x="210.01" y="327.86" width="7.16" height="7.19" fill="#feeba4"/>
<rect x="217.12" y="327.86" width="7.16" height="7.19" fill="#feeba3"/>
<rect x="224.23" y="327.86" width="7.16" height="7.19" fill="#feedaa"/>
<rect x="231.34" y="327.86" width="7.16" height="7.19" fill="#feeda8"/>
<rect x="238.45" y="327.86" width="7.16" height="7.19" fill="#fee89c"/>
<rect x="245.56" y="327.86" width="7.16" height="7.19" fill="#fee99f"/>
<rect x="252.67" y="327.86" width="7.16" height="7.19" fill="#fee89d"/>
<rect x="259.78" y="327.86" width="7.16" height="7.19" fill="#feefad"/>
<rect x="266.89" y="327.86" width="7.16" height="7.19" fill="#feeda9"/>
<rect x="274.00" y="327.86" width="7.16" height="7.19" fill="#feeca7"/>
<rect x="281.11" y="327.86" width="7.16" height="7.19" fill="#feeca7"/>
<rect x="288.22" y="327.86" width="7.16" height="7.19" fill="#fff4bc"/>
<rect x="295.33" y="327.86" width="7.16" height="7.19" fill="#feeead"/>
<rect x="302.44" y="327.86" width="7.16" height="7.19" fill="#fff2b6"/>
<rect x="309.56" y="327.86" width="7.16" height="7.19" fill="#feeeac"/>
<rect x="316.67" y="327.86" width="7.16" height="7.19" fill="#fff2b6"/>
<rect x="323.78" y="327.86" width="7.16" height="7.19" fill="#feefaf"/>
<rect x="330.89" y="327.86" width="7.16" height="7.19" fill="#feeca6"/>
<rect x="338.00" y="327.86" width="7.16" height="7.19" fill="#fee08a"/>
<rect x="345.11" y="327.86" width="7.16" height="7.19" fill="#fd8539"/>
<rect x="352.22" y="327.86" width="7.16" height="7.19" fill="#fe1f1b"/>
<rect x="359.33" y="327.86" width="7.16" height="7.19" fill="#fe201c"/>
<rect x="366.44" y="327.86" width="7.16" height="7.19" fill="#fd1c1b"/>
<rect x="373.55" y="327.86" width="7.16" height="7.19" fill="#fe211c"/>
<rect x="380.66" y="327.86" width="7.16" height="7.19" fill="#fe211c"/>
<rect x="387.77" y="327.86" width="7.16" height="7.19" fill="#fe311f"/>
<rect x="394.88" y="327.86" width="7.16" height="7.19" fill="#fe3920"/>
<rect x="401.99" y="327.86" width="7.16" height="7.19" fill="#fe221c"/>
<rect x="409.10" y="327.86" width="7.16" height="7.19" fill="#fe1f1b"/>
<rect x="416.21" y="327.86" width="7.16" height="7.19" fill="#fe221c"/>
<rect x="423.33" y="327.86" width="7.16" height="7.19" fill="#ff241c"/>
<rect x="430.44" y="327.86" width="7.16" height="7.19" fill="#fe231c"/>
<rect x="437.55" y="327.86" width="7.16" height="7.19" fill="#fe221c"/>
<rect x="444.66" y="327.86" width="7.16" height="7.19" fill="#9a062a"/>
<rect x="451.77" y="327.86" width="7.16" height="7.19" fill="#ff251c"/>
<rect x="458.88" y="327.86" width="7.16" height="7.19" fill="#ff251c"/>
<rect x="465.99" y="327.86" width="7.16" height="7.19" fill="#ff251c"/>
<rect x="138.90" y="334.99" width="7.16" height="7.19" fill="#feeca6"/>
<rect x="146.01" y="334.99" width="7.16" height="7.19" fill="#feeba5"/>
<rect x="153.12" y="334.99" width="7.16" height="7.19" fill="#feeca6"/>
<rect x="160.23" y="334.99" width="7.16" height="7.19" fill="#feeca7"/>
<rect x="167.34" y="334.99" width="7.16" height="7.19" fill="#feeda9"/>
<rect x="174.45" y="334.99" width="7.16" height="7.19" fill="#feeaa3"/>
<rect x="181.56" y="334.99" width="7.16" height="7.19" fill="#fee99e"/>
<rect x="188.67" y="334.99" width="7.16" height="7.19" fill="#feeaa2"/>
<rect x="195.79" y="334.99" width="7.16" height="7.19" fill="#feeaa2"/>
<rect x="202.90" y="334.99" width="7.16" height="7.19" fill="#feeaa1"/>
<rect x="210.01" y="334.99" width="7.16" height="7.19" fill="#feeca8"/>
<rect x="217.12" y="334.99" width="7.16" height="7.19" fill="#feeaa0"/>
<rect x="224.23" y="334.99" width="7.16" height="7.19" fill="#feeba4"/>
<rect x="231.34" y="334.99" width="7.16" height="7.19" fill="#feeaa3"/>
<rect x="238.45" y="334.99" width="7.16" height="7.19" fill="#feeaa2"/>
<rect x="245.56" y="334.99" width="7.16" height="7.19" fill="#feeba4"/>
<rect x="252.67" y="334.99" width="7.16" height="7.19" fill="#feeca6"/>
<rect x="259.78" y="334.99" width="7.16" height="7.19" fill="#fff2b7"/>
<rect x="266.89" y="334.99" width="7.16" height="7.19" fill="#fff2b7"/>
<rect x="274.00" y="334.99" width="7.16" height="7.19" fill="#fef0b0"/>
<rect x="281.11" y="334.99" width="7.16" height="7.19" fill="#fff1b3"/>
<rect x="288.22" y="334.99" width="7.16" height="7.19" fill="#feefae"/>
<rect x="295.33" y="334.99" width="7.16" height="7.19" fill="#fff4bc"/>
<rect x="302.44" y="334.99" width="7.16" height="7.19" fill="#fff1b4"/>
<rect x="309.56" y="334.99" width="7.16" height="7.19" fill="#feeca8"/>
<rect x="316.67" y="334.99" width="7.16" height="7.19" fill="#fff2b7"/>
<rect x="323.78" y="334.99" width="7.16" height="7.19" fill="#feefaf"/>
<rect x="330.89" y="334.99" width="7.16" height="7.19" fill="#fef0b1"/>
<rect x="338.00" y="334.99" width="7.16" height="7.19" fill="#fee28f"/>
<rect x="345.11" y="334.99" width="7.16" height="7.19" fill="#fd7c35"/>
<rect x="352.22" y="334.99" width="7.16" height="7.19" fill="#fe211c"/>
<rect x="359.33" y="334.99" width="7.16" height="7.19" fill="#fd1d1b"/>
<rect x="366.44" y="334.99" width="7.16" height="7.19" fill="#fe221c"/>
<rect x="373.55" y="334.99" width="7.16" height="7.19" fill="#fe231c"/>
<rect x="380.66" y="334.99" width="7.16" height="7.19" fill="#fd1d1b"/>
<rect x="387.77" y="334.99" width="7.16" height="7.19" fill="#fe341f"/>
<rect x="394.88" y="334.99" width="7.16" height="7.19" fill="#fe3a21"/>
<rect x="401.99" y="334.99" width="7.16" height="7.19" fill="#fe231c"/>
<rect x="409.10" y="334.99" width="7.16" height="7.19" fill="#fe231c"/>
<rect x="416.21" y="334.99" width="7.16" height="7.19" fill="#fe211c"/>
<rect x="423.33" y="334.99" width="7.16" height="7.19" fill="#ff251c"/>
<rect x="430.44" y="334.99" width="7.16" height="7.19" fill="#ff241c"/>
<rect x="437.55" y="334.99" width="7.16" height="7.19" fill="#fe1f1b"/>
<rect x="444.66" y="334.99" width="7.16" height="7.19" fill="#fe211c"/>
<rect x="451.77" y="334.99" width="7.16" height="7.19" fill="#9a062a"/>
<rect x="458.88" y="334.99" width="7.16" height="7.19" fill="#a3062a"/>
<rect x="465.99" y="334.99" width="7.16" height="7.19" fill="#a2062a"/>
<rect x="138.90" y="342.13" width="7.16" height="7.19" fill="#feeca5"/>
<rect x="146.01" y="342.13" width="7.16" height="7.19" fill="#feeaa1"/>
<rect x="153.12" y="342.13" width="7.16" height="7.19" fill="#feeaa2"/>
<rect x="160.23" y="342.13" width="7.16" height="7.19" fill="#fee99e"/>
<rect x="167.34" y="342.13" width="7.16" height="7.19" fill="#fee99f"/>
<rect x="174.45" y="342.13" width="7.16" height="7.19" fill="#feeba3"/>
<rect x="181.56" y="342.13" width="7.16" height="7.19" fill="#fee9a0"/>
<rect x="188.67" y="342.13" width="7.16" height="7.19" fill="#fee9a0"/>
<rect x="195.79" y="342.13" width="7.16" height="7.19" fill="#fee99f"/>
<rect x="202.90" y="342.13" width="7.16" height="7.19" fill="#feeba4"/>
<rect x="210.01" y="342.13" width="7.16" height="7.19" fill="#fee99f"/>
<rect x="217.12" y="342.13" width="7.16" height="7.19" fill="#feeaa0"/>
<rect x="224.23" y="342.13" width="7.16" height="7.19" fill="#fee89d"/>
<rect x="231.34" y="342.13" width="7.16" height="7.19" fill="#feeda9"/>
<rect x="238.45" y="342.13" width="7.16" height="7.19" fill="#fee99e"/>
<rect x="245.56" y="342.13" width="7.16" height="7.19" fill="#feedaa"/>
<rect x="252.67" y="342.13" width="7.16" height="7.19" fill="#fee99f"/>
<rect x="259.78" y="342.13" width="7.16" height="7.19" fill="#feefae"/>
<rect x="266.89" y="342.13" width="7.16" height="7.19" fill="#fef0b0"/>
<rect x="274.00" y="342.13" width="7.16" height="7.19" fill="#feeca5"/>
<rect x="281.11" y="342.13" width="7.16" height="7.19" fill="#feefaf"/>
<rect x="288.22" y="342.13" width="7.16" height="7.19" fill="#fff1b2"/>
<rect x="295.33" y="342.13" width="7.16" height="7.19" fill="#feedaa"/>
<rect x="302.44" y="342.13" width="7.16" height="7.19" fill="#feeca7"/>
<rect x="309.56" y="342.13" width="7.16" height="7.19" fill="#feefae"/>
<rect x="316.67" y="342.13" width="7.16" height="7.19" fill="#fff1b3"/>
<rect x="323.78" y="342.13" width="7.16" height="7.19" fill="#fff0b2"/>
<rect x="330.89" y="342.13" width="7.16" height="7.19" fill="#fff0b1"/>
<rect x="338.00" y="342.13" width="7.16" height="7.19" fill="#fee089"/>
<rect x="345.11" y="342.13" width="7.16" height="7.19" fill="#fd8438"/>
<rect x="352.22" y="342.13" width="7.16" height="7.19" fill="#fe201c"/>
<rect x="359.33" y="342.13" width="7.16" height="7.19" fill="#fe1f1b"/>
<rect x="366.44" y="342.13" width="7.16" height="7.19" fill="#fe201c"/>
<rect x="373.55" y="342.13" width="7.16" height="7.19" fill="#fe211c"/>
<rect x="380.66" y="342.13" width="7.16" height="7.19" fill="#fd1d1b"/>
<rect x="387.77" y="342.13" width="7.16" height="7.19" fill="#ff2e1e"/>
<rect x="394.88" y="342.13" width="7.16" height="7.19" fill="#fe331f"/>
<rect x="401.99" y="342.13" width="7.16" height="7.19" fill="#fe231c"/>
<rect x="409.10" y="342.13" width="7.16" height="7.19" fill="#ff251c"/>
<rect x="416.21" y="342.13" width="7.16" height="7.19" fill="#ff241c"/>
<rect x="423.33" y="342.13" width="7.16" height="7.19" fill="#ff251c"/>
<rect x="430.44" y="342.13" width="7.16" height="7.19" fill="#fe221c"/>
<rect x="437.55" y="342.13" width="7.16" height="7.19" fill="#fe221c"/>
<rect x="444.66" y="342.13" width="7.16" height="7.19" fill="#ff251c"/>
<rect x="451.77" y="342.13" width="7.16" height="7.19" fill="#9f062a"/>
<rect x="458.88" y="342.13" width="7.16" height="7.19" fill="#9a062a"/>
<rect x="465.99" y="342.13" width="7.16" height="7.19" fill="#a2062a"/>
<rect x="138.90" y="349.26" width="7.16" height="7.19" fill="#fee99e"/>
<rect x="146.01" y="349.26" width="7.16" height="7.19" fill="#fee99e"/>
<rect x="153.12" y="349.26" width="7.16" height="7.19" fill="#fee89d"/>
<rect x="160.23" y="349.26" width="7.16" height="7.19" fill="#feeca7"/>
<rect x="167.34" y="349.26" width="7.16" height="7.19" fill="#feeba4"/>
<rect x="174.45" y="349.26" width="7.16" height="7.19" fill="#fee89d"/>
<rect x="181.56" y="349.26" width="7.16" height="7.19" fill="#feedaa"/>
<rect x="188.67" y="349.26" width="7.16" height="7.19" fill="#feedaa"/>
<rect x="195.79" y="349.26" width="7.16" height="7.19" fill="#feeaa2"/>
<rect x="202.90" y="349.26" width="7.16" height="7.19" fill="#feeba3"/>
<rect x="210.01" y="349.26" width="7.16" height="7.19" fill="#fee89d"/>
<rect x="217.12" y="349.26" width="7.16" height="7.19" fill="#fee99f"/>
<rect x="224.23" y="349.26" width="7.16" height="7.19" fill="#feeba3"/>
<rect x="231.34" y="349.26" width="7.16" height="7.19" fill="#fee89c"/>
<rect x="238.45" y="349.26" width="7.16" height="7.19" fill="#feeba3"/>
<rect x="245.56" y="349.26" width="7.16" height="7.19" fill="#feeba3"/>
<rect x="252.67" y="349.26" width="7.16" height="7.19" fill="#feeaa1"/>
<rect x="259.78" y="349.26" width="7.16" height="7.19" fill="#fff1b3"/>
<rect x="266.89" y="349.26" width="7.16" height="7.19" fill="#fff1b4"/>
<rect x="274.00" y="349.26" width="7.16" height="7.19" fill="#feefae"/>
<rect x="281.11" y="349.26" width="7.16" height="7.19" fill="#fff1b4"/>
<rect x="288.22" y="349.26" width="7.16" height="7.19" fill="#feeca6"/>
<rect x="295.33" y="349.26" width="7.16" height="7.19" fill="#feeeac"/>
<rect x="302.44" y="349.26" width="7.16" height="7.19" fill="#fef0b0"/>
<rect x="309.56" y="349.26" width="7.16" height="7.19" fill="#fff3ba"/>
<rect x="316.67" y="349.26" width="7.16" height="7.19" fill="#fff1b3"/>
<rect x="323.78" y="349.26" width="7.16" height="7.19" fill="#fff1b3"/>
<rect x="330.89" y="349.26" width="7.16" height="7.19" fill="#feefaf"/>
<rect x="338.00" y="349.26" width="7.16" height="7.19" fill="#fee18b"/>
<rect x="345.11" y="349.26" width="7.16" height="7.19" fill="#fd7d36"/>
<rect x="352.22" y="349.26" width="7.16" height="7.19" fill="#fd1c1b"/>
<rect x="359.33" y="349.26" width="7.16" height="7.19" fill="#fe1f1b"/>
<rect x="366.44" y="349.26" width="7.16" height="7.19" fill="#fe201c"/>
<rect x="373.55" y="349.26" width="7.16" height="7.19" fill="#fe1e1b"/>
<rect x="380.66" y="349.26" width="7.16" height="7.19" fill="#fd1c1b"/>
<rect x="387.77" y="349.26" width="7.16" height="7.19" fill="#fe3620"/>
<rect x="394.88" y="349.26" width="7.16" height="7.19" fill="#fe331f"/>
<rect x="401.99" y="349.26" width="7.16" height="7.19" fill="#fe201c"/>
<rect x="409.10" y="349.26" width="7.16" height="7.19" fill="#ff251c"/>
<rect x="416.21" y="349.26" width="7.16" height="7.19" fill="#ff241c"/>
<rect x="423.33" y="349.26" width="7.16" height="7.19" fill="#fe1f1b"/>
<rect x="430.44" y="349.26" width="7.16" height="7.19" fill="#fe201c"/>
<rect x="437.55" y="349.26" width="7.16" height="7.19" fill="#fe221c"/>
<rect x="444.66" y="349.26" width="7.16" height="7.19" fill="#ff251c"/>
<rect x="451.77" y="349.26" width="7.16" height="7.19" fill="#9f062a"/>
<rect x="458.88" y="349.26" width="7.16" height="7.19" fill="#a0062a"/>
<rect x="465.99" y="349.26" width="7.16" height="7.19" fill="#9a062a"/></g>
<g stroke="#ffffff" stroke-opacity="0.05" stroke-width="0.6"><line x1="146.01" y1="21.00" x2="146.01" y2="356.40"/><line x1="138.90" y1="28.14" x2="473.10" y2="28.14"/><line x1="153.12" y1="21.00" x2="153.12" y2="356.40"/><line x1="138.90" y1="35.27" x2="473.10" y2="35.27"/><line x1="160.23" y1="21.00" x2="160.23" y2="356.40"/><line x1="138.90" y1="42.41" x2="473.10" y2="42.41"/><line x1="167.34" y1="21.00" x2="167.34" y2="356.40"/><line x1="138.90" y1="49.54" x2="473.10" y2="49.54"/><line x1="174.45" y1="21.00" x2="174.45" y2="356.40"/><line x1="138.90" y1="56.68" x2="473.10" y2="56.68"/><line x1="181.56" y1="21.00" x2="181.56" y2="356.40"/><line x1="138.90" y1="63.82" x2="473.10" y2="63.82"/><line x1="188.67" y1="21.00" x2="188.67" y2="356.40"/><line x1="138.90" y1="70.95" x2="473.10" y2="70.95"/><line x1="195.79" y1="21.00" x2="195.79" y2="356.40"/><line x1="138.90" y1="78.09" x2="473.10" y2="78.09"/><line x1="202.90" y1="21.00" x2="202.90" y2="356.40"/><line x1="138.90" y1="85.23" x2="473.10" y2="85.23"/><line x1="210.01" y1="21.00" x2="210.01" y2="356.40"/><line x1="138.90" y1="92.36" x2="473.10" y2="92.36"/><line x1="217.12" y1="21.00" x2="217.12" y2="356.40"/><line x1="138.90" y1="99.50" x2="473.10" y2="99.50"/><line x1="224.23" y1="21.00" x2="224.23" y2="356.40"/><line x1="138.90" y1="106.63" x2="473.10" y2="106.63"/><line x1="231.34" y1="21.00" x2="231.34" y2="356.40"/><line x1="138.90" y1="113.77" x2="473.10" y2="113.77"/><line x1="238.45" y1="21.00" x2="238.45" y2="356.40"/><line x1="138.90" y1="120.91" x2="473.10" y2="120.91"/><line x1="245.56" y1="21.00" x2="245.56" y2="356.40"/><line x1="138.90" y1="128.04" x2="473.10" y2="128.04"/><line x1="252.67" y1="21.00" x2="252.67" y2="356.40"/><line x1="138.90" y1="135.18" x2="473.10" y2="135.18"/><line x1="259.78" y1="21.00" x2="259.78" y2="356.40"/><line x1="138.90" y1="142.31" x2="473.10" y2="142.31"/><line x1="266.89" y1="21.00" x2="266.89" y2="356.40"/><line x1="138.90" y1="149.45" x2="473.10" y2="149.45"/><line x1="274.00" y1="21.00" x2="274.00" y2="356.40"/><line x1="138.90" y1="156.59" x2="473.10" y2="156.59"/><line x1="281.11" y1="21.00" x2="281.11" y2="356.40"/><line x1="138.90" y1="163.72" x2="473.10" y2="163.72"/><line x1="288.22" y1="21.00" x2="288.22" y2="356.40"/><line x1="138.90" y1="170.86" x2="473.10" y2="170.86"/><line x1="295.33" y1="21.00" x2="295.33" y2="356.40"/><line x1="138.90" y1="178.00" x2="473.10" y2="178.00"/><line x1="302.44" y1="21.00" x2="302.44" y2="356.40"/><line x1="138.90" y1="185.13" x2="473.10" y2="185.13"/><line x1="309.56" y1="21.00" x2="309.56" y2="356.40"/><line x1="138.90" y1="192.27" x2="473.10" y2="192.27"/><line x1="316.67" y1="21.00" x2="316.67" y2="356.40"/><line x1="138.90" y1="199.40" x2="473.10" y2="199.40"/><line x1="323.78" y1="21.00" x2="323.78" y2="356.40"/><line x1="138.90" y1="206.54" x2="473.10" y2="206.54"/><line x1="330.89" y1="21.00" x2="330.89" y2="356.40"/><line x1="138.90" y1="213.68" x2="473.10" y2="213.68"/><line x1="338.00" y1="21.00" x2="338.00" y2="356.40"/><line x1="138.90" y1="220.81" x2="473.10" y2="220.81"/><line x1="345.11" y1="21.00" x2="345.11" y2="356.40"/><line x1="138.90" y1="227.95" x2="473.10" y2="227.95"/><line x1="352.22" y1="21.00" x2="352.22" y2="356.40"/><line x1="138.90" y1="235.09" x2="473.10" y2="235.09"/><line x1="359.33" y1="21.00" x2="359.33" y2="356.40"/><line x1="138.90" y1="242.22" x2="473.10" y2="242.22"/><line x1="366.44" y1="21.00" x2="366.44" y2="356.40"/><line x1="138.90" y1="249.36" x2="473.10" y2="249.36"/><line x1="373.55" y1="21.00" x2="373.55" y2="356.40"/><line x1="138.90" y1="256.49" x2="473.10" y2="256.49"/><line x1="380.66" y1="21.00" x2="380.66" y2="356.40"/><line x1="138.90" y1="263.63" x2="473.10" y2="263.63"/><line x1="387.77" y1="21.00" x2="387.77" y2="356.40"/><line x1="138.90" y1="270.77" x2="473.10" y2="270.77"/><line x1="394.88" y1="21.00" x2="394.88" y2="356.40"/><line x1="138.90" y1="277.90" x2="473.10" y2="277.90"/><line x1="401.99" y1="21.00" x2="401.99" y2="356.40"/><line x1="138.90" y1="285.04" x2="473.10" y2="285.04"/><line x1="409.10" y1="21.00" x2="409.10" y2="356.40"/><line x1="138.90" y1="292.17" x2="473.10" y2="292.17"/><line x1="416.21" y1="21.00" x2="416.21" y2="356.40"/><line x1="138.90" y1="299.31" x2="473.10" y2="299.31"/><line x1="423.33" y1="21.00" x2="423.33" y2="356.40"/><line x1="138.90" y1="306.45" x2="473.10" y2="306.45"/><line x1="430.44" y1="21.00" x2="430.44" y2="356.40"/><line x1="138.90" y1="313.58" x2="473.10" y2="313.58"/><line x1="437.55" y1="21.00" x2="437.55" y2="356.40"/><line x1="138.90" y1="320.72" x2="473.10" y2="320.72"/><line x1="444.66" y1="21.00" x2="444.66" y2="356.40"/><line x1="138.90" y1="327.86" x2="473.10" y2="327.86"/><line x1="451.77" y1="21.00" x2="451.77" y2="356.40"/><line x1="138.90" y1="334.99" x2="473.10" y2="334.99"/><line x1="458.88" y1="21.00" x2="458.88" y2="356.40"/><line x1="138.90" y1="342.13" x2="473.10" y2="342.13"/><line x1="465.99" y1="21.00" x2="465.99" y2="356.40"/><line x1="138.90" y1="349.26" x2="473.10" y2="349.26"/></g>
<g shape-rendering="auto"><g font-family="Liberation Sans, Arial, sans-serif" font-size="4.15" fill="#333" stroke="#333" stroke-width="0.03"><text transform="translate(143.91,19.4) rotate(-90)">MTT005</text><text transform="translate(151.02,19.4) rotate(-90)">MTT008</text><text transform="translate(158.13,19.4) rotate(-90)">MTT004</text><text transform="translate(165.24,19.4) rotate(-90)">MTT006</text><text transform="translate(172.35,19.4) rotate(-90)">MTT007</text><text transform="translate(179.46,19.4) rotate(-90)">MTT010</text><text transform="translate(186.57,19.4) rotate(-90)">MTT011</text><text transform="translate(193.68,19.4) rotate(-90)">MTT026</text><text transform="translate(200.79,19.4) rotate(-90)">MTT030</text><text transform="translate(207.90,19.4) rotate(-90)">MTT009</text><text transform="translate(215.01,19.4) rotate(-90)">MTT025</text><text transform="translate(222.12,19.4) rotate(-90)">MTT027</text><text transform="translate(229.23,19.4) rotate(-90)">MTT044</text><text transform="translate(236.34,19.4) rotate(-90)">MTT021</text><text transform="translate(243.45,19.4) rotate(-90)">MTT019</text><text transform="translate(250.56,19.4) rotate(-90)">MTT018</text><text transform="translate(257.68,19.4) rotate(-90)">MTT020</text><text transform="translate(264.79,19.4) rotate(-90)">MTT046</text><text transform="translate(271.90,19.4) rotate(-90)">MTT034</text><text transform="translate(279.01,19.4) rotate(-90)">MTT032</text><text transform="translate(286.12,19.4) rotate(-90)">MTT033</text><text transform="translate(293.23,19.4) rotate(-90)">MTT022</text><text transform="translate(300.34,19.4) rotate(-90)">MTT024</text><text transform="translate(307.45,19.4) rotate(-90)">MTT029</text><text transform="translate(314.56,19.4) rotate(-90)">MTT047</text><text transform="translate(321.67,19.4) rotate(-90)">MTT050</text><text transform="translate(328.78,19.4) rotate(-90)">MTT048</text><text transform="translate(335.89,19.4) rotate(-90)">MTT049</text><text transform="translate(343.00,19.4) rotate(-90)">MTT028</text><text transform="translate(350.11,19.4) rotate(-90)">MTT012</text><text transform="translate(357.22,19.4) rotate(-90)">MTT036</text><text transform="translate(364.34,19.4) rotate(-90)">MTT037</text><text transform="translate(371.45,19.4) rotate(-90)">MTT038</text><text transform="translate(378.56,19.4) rotate(-90)">MTT039</text><text transform="translate(385.67,19.4) rotate(-90)">MTT013</text><text transform="translate(392.78,19.4) rotate(-90)">MTT042</text><text transform="translate(399.89,19.4) rotate(-90)">MTT043</text><text transform="translate(407.00,19.4) rotate(-90)">MTT016</text><text transform="translate(414.11,19.4) rotate(-90)">MTT017</text><text transform="translate(421.22,19.4) rotate(-90)">MTT014</text><text transform="translate(428.33,19.4) rotate(-90)">MTT015</text><text transform="translate(435.44,19.4) rotate(-90)">MTT002</text><text transform="translate(442.55,19.4) rotate(-90)">MTT035</text><text transform="translate(449.66,19.4) rotate(-90)">MTT003</text><text transform="translate(456.77,19.4) rotate(-90)">MTT045</text><text transform="translate(463.88,19.4) rotate(-90)">MTT040</text><text transform="translate(470.99,19.4) rotate(-90)">MTT041</text></g></g>
<g shape-rendering="auto"><g font-family="Liberation Serif, Times New Roman, serif" font-size="5" fill="#111"><rect x="106.8" y="21.00" width="32.2" height="28.54" fill="#ff3b3b"/><rect x="106.8" y="49.54" width="32.2" height="7.14" fill="#ffff00"/><rect x="106.8" y="56.68" width="32.2" height="14.27" fill="#9a5ccc"/><rect x="106.8" y="70.95" width="32.2" height="14.27" fill="#0f67cc"/><rect x="106.8" y="85.23" width="32.2" height="7.14" fill="#ffff00"/><rect x="106.8" y="92.36" width="32.2" height="7.14" fill="#0f67cc"/><rect x="106.8" y="99.50" width="32.2" height="14.27" fill="#ffbf00"/><rect x="106.8" y="113.77" width="32.2" height="28.54" fill="#0f67cc"/><rect x="106.8" y="142.31" width="32.2" height="7.14" fill="#1db04a"/><rect x="106.8" y="149.45" width="32.2" height="21.41" fill="#fdb58c"/><rect x="106.8" y="170.86" width="32.2" height="49.95" fill="#ff9cf3"/><rect x="106.8" y="220.81" width="32.2" height="7.14" fill="#2f8a2f"/><rect x="106.8" y="227.95" width="32.2" height="7.14" fill="#858585"/><rect x="106.8" y="235.09" width="32.2" height="49.95" fill="#0cb2f4"/><rect x="106.8" y="285.04" width="32.2" height="42.82" fill="#00da76"/><rect x="106.8" y="327.86" width="32.2" height="7.14" fill="#9ef8c4"/><rect x="106.8" y="334.99" width="32.2" height="7.14" fill="#cc8800"/><rect x="106.8" y="342.13" width="32.2" height="14.27" fill="#ffd040"/><line x1="3.3" y1="28.14" x2="106.3" y2="28.14" stroke="#d9d9d9" stroke-width="0.75"/><line x1="3.3" y1="35.27" x2="106.3" y2="35.27" stroke="#d9d9d9" stroke-width="0.75"/><line x1="3.3" y1="42.41" x2="106.3" y2="42.41" stroke="#d9d9d9" stroke-width="0.75"/><line x1="3.3" y1="49.54" x2="106.3" y2="49.54" stroke="#d9d9d9" stroke-width="0.75"/><line x1="3.3" y1="56.68" x2="106.3" y2="56.68" stroke="#d9d9d9" stroke-width="0.75"/><line x1="3.3" y1="63.82" x2="106.3" y2="63.82" stroke="#d9d9d9" stroke-width="0.75"/><line x1="3.3" y1="70.95" x2="106.3" y2="70.95" stroke="#d9d9d9" stroke-width="0.75"/><line x1="3.3" y1="78.09" x2="106.3" y2="78.09" stroke="#d9d9d9" stroke-width="0.75"/><line x1="3.3" y1="85.23" x2="106.3" y2="85.23" stroke="#d9d9d9" stroke-width="0.75"/><line x1="3.3" y1="92.36" x2="106.3" y2="92.36" stroke="#d9d9d9" stroke-width="0.75"/><line x1="3.3" y1="99.50" x2="106.3" y2="99.50" stroke="#d9d9d9" stroke-width="0.75"/><line x1="3.3" y1="106.63" x2="106.3" y2="106.63" stroke="#d9d9d9" stroke-width="0.75"/><line x1="3.3" y1="113.77" x2="106.3" y2="113.77" stroke="#d9d9d9" stroke-width="0.75"/><line x1="3.3" y1="120.91" x2="106.3" y2="120.91" stroke="#d9d9d9" stroke-width="0.75"/><line x1="3.3" y1="128.04" x2="106.3" y2="128.04" stroke="#d9d9d9" stroke-width="0.75"/><line x1="3.3" y1="135.18" x2="106.3" y2="135.18" stroke="#d9d9d9" stroke-width="0.75"/><line x1="3.3" y1="142.31" x2="106.3" y2="142.31" stroke="#d9d9d9" stroke-width="0.75"/><line x1="3.3" y1="149.45" x2="106.3" y2="149.45" stroke="#d9d9d9" stroke-width="0.75"/><line x1="3.3" y1="156.59" x2="106.3" y2="156.59" stroke="#d9d9d9" stroke-width="0.75"/><line x1="3.3" y1="163.72" x2="106.3" y2="163.72" stroke="#d9d9d9" stroke-width="0.75"/><line x1="3.3" y1="170.86" x2="106.3" y2="170.86" stroke="#d9d9d9" stroke-width="0.75"/><line x1="3.3" y1="178.00" x2="106.3" y2="178.00" stroke="#d9d9d9" stroke-width="0.75"/><line x1="3.3" y1="185.13" x2="106.3" y2="185.13" stroke="#d9d9d9" stroke-width="0.75"/><line x1="3.3" y1="192.27" x2="106.3" y2="192.27" stroke="#d9d9d9" stroke-width="0.75"/><line x1="3.3" y1="199.40" x2="106.3" y2="199.40" stroke="#d9d9d9" stroke-width="0.75"/><line x1="3.3" y1="206.54" x2="106.3" y2="206.54" stroke="#d9d9d9" stroke-width="0.75"/><line x1="3.3" y1="213.68" x2="106.3" y2="213.68" stroke="#d9d9d9" stroke-width="0.75"/><line x1="3.3" y1="220.81" x2="106.3" y2="220.81" stroke="#d9d9d9" stroke-width="0.75"/><line x1="3.3" y1="227.95" x2="106.3" y2="227.95" stroke="#d9d9d9" stroke-width="0.75"/><line x1="3.3" y1="235.09" x2="106.3" y2="235.09" stroke="#d9d9d9" stroke-width="0.75"/><line x1="3.3" y1="242.22" x2="106.3" y2="242.22" stroke="#d9d9d9" stroke-width="0.75"/><line x1="3.3" y1="249.36" x2="106.3" y2="249.36" stroke="#d9d9d9" stroke-width="0.75"/><line x1="3.3" y1="256.49" x2="106.3" y2="256.49" stroke="#d9d9d9" stroke-width="0.75"/><line x1="3.3" y1="263.63" x2="106.3" y2="263.63" stroke="#d9d9d9" stroke-width="0.75"/><line x1="3.3" y1="270.77" x2="106.3" y2="270.77" stroke="#d9d9d9" stroke-width="0.75"/><line x1="3.3" y1="277.90" x2="106.3" y2="277.90" stroke="#d9d9d9" stroke-width="0.75"/><line x1="3.3" y1="285.04" x2="106.3" y2="285.04" stroke="#d9d9d9" stroke-width="0.75"/><line x1="3.3" y1="292.17" x2="106.3" y2="292.17" stroke="#d9d9d9" stroke-width="0.75"/><line x1="3.3" y1="299.31" x2="106.3" y2="299.31" stroke="#d9d9d9" stroke-width="0.75"/><line x1="3.3" y1="306.45" x2="106.3" y2="306.45" stroke="#d9d9d9" stroke-width="0.75"/><line x1="3.3" y1="313.58" x2="106.3" y2="313.58" stroke="#d9d9d9" stroke-width="0.75"/><line x1="3.3" y1="320.72" x2="106.3" y2="320.72" stroke="#d9d9d9" stroke-width="0.75"/><line x1="3.3" y1="327.86" x2="106.3" y2="327.86" stroke="#d9d9d9" stroke-width="0.75"/><line x1="3.3" y1="334.99" x2="106.3" y2="334.99" stroke="#d9d9d9" stroke-width="0.75"/><line x1="3.3" y1="342.13" x2="106.3" y2="342.13" stroke="#d9d9d9" stroke-width="0.75"/><line x1="3.3" y1="349.26" x2="106.3" y2="349.26" stroke="#d9d9d9" stroke-width="0.75"/><line x1="3.50" y1="13.3" x2="3.50" y2="356" stroke="#d0d0d0" stroke-width="0.75"/><line x1="38.50" y1="13.3" x2="38.50" y2="356" stroke="#d0d0d0" stroke-width="0.75"/><line x1="87.90" y1="13.3" x2="87.90" y2="356" stroke="#d0d0d0" stroke-width="0.75"/><line x1="106.30" y1="13.3" x2="106.30" y2="356" stroke="#d0d0d0" stroke-width="0.75"/><line x1="3.3" y1="20.4" x2="138.7" y2="20.4" stroke="#333" stroke-width="0.9"/><text x="20.90" y="18.9" text-anchor="middle" font-weight="bold" font-size="5.7">Isolate name</text><text x="63.40" y="18.9" text-anchor="middle" font-weight="bold" font-size="5.7">Strain designation</text><text x="97.40" y="18.9" text-anchor="middle" font-weight="bold" font-size="5.7">MLST</text><text x="122.40" y="18.9" text-anchor="middle" font-weight="bold" font-size="5.7">MLST color</text><text transform="translate(20.9,26.12) scale(0.95,1)" text-anchor="middle" font-weight="bold" font-size="5.35" stroke="#000" stroke-width="0.08">MTT005</text><text transform="translate(63.4,26.12) scale(0.946,1)" text-anchor="middle" font-size="5.6" stroke="#222" stroke-width="0.06">BL21+Lys</text><text transform="translate(97.4,26.12) scale(0.946,1)" text-anchor="middle" font-size="5.6" stroke="#222" stroke-width="0.06">93</text><text transform="translate(20.9,33.25) scale(0.95,1)" text-anchor="middle" font-weight="bold" font-size="5.35" stroke="#000" stroke-width="0.08">MTT008</text><text transform="translate(63.4,33.25) scale(0.946,1)" text-anchor="middle" font-size="5.6" stroke="#222" stroke-width="0.06">BL21+KJE7</text><text transform="translate(97.4,33.25) scale(0.946,1)" text-anchor="middle" font-size="5.6" stroke="#222" stroke-width="0.06">93</text><text transform="translate(20.9,40.39) scale(0.95,1)" text-anchor="middle" font-weight="bold" font-size="5.35" stroke="#000" stroke-width="0.08">MTT004</text><text transform="translate(63.4,40.39) scale(0.946,1)" text-anchor="middle" font-size="5.6" stroke="#222" stroke-width="0.06">BL21</text><text transform="translate(97.4,40.39) scale(0.946,1)" text-anchor="middle" font-size="5.6" stroke="#222" stroke-width="0.06">93</text><text transform="translate(20.9,47.53) scale(0.95,1)" text-anchor="middle" font-weight="bold" font-size="5.35" stroke="#000" stroke-width="0.08">MTT006</text><text transform="translate(63.4,47.53) scale(0.946,1)" text-anchor="middle" font-size="5.6" stroke="#222" stroke-width="0.06">BL21+G-KJE8</text><text transform="translate(97.4,47.53) scale(0.946,1)" text-anchor="middle" font-size="5.6" stroke="#222" stroke-width="0.06">93</text><text transform="translate(20.9,54.66) scale(0.95,1)" text-anchor="middle" font-weight="bold" font-size="5.35" stroke="#000" stroke-width="0.08">MTT007</text><text transform="translate(63.4,54.66) scale(0.946,1)" text-anchor="middle" font-size="5.6" stroke="#222" stroke-width="0.06">BL21Gro7</text><text transform="translate(97.4,54.66) scale(0.946,1)" text-anchor="middle" font-size="5.6" stroke="#222" stroke-width="0.06">6142</text><text transform="translate(20.9,61.80) scale(0.95,1)" text-anchor="middle" font-weight="bold" font-size="5.35" stroke="#000" stroke-width="0.08">MTT010</text><text transform="translate(63.4,61.80) scale(0.946,1)" text-anchor="middle" font-size="5.6" stroke="#222" stroke-width="0.06">Top10</text><text transform="translate(97.4,61.80) scale(0.946,1)" text-anchor="middle" font-size="5.6" stroke="#222" stroke-width="0.06">1060</text><text transform="translate(20.9,68.94) scale(0.95,1)" text-anchor="middle" font-weight="bold" font-size="5.35" stroke="#000" stroke-width="0.08">MTT011</text><text transform="translate(63.4,68.94) scale(0.946,1)" text-anchor="middle" font-size="5.6" stroke="#222" stroke-width="0.06">Top10+P</text><text transform="translate(97.4,68.94) scale(0.946,1)" text-anchor="middle" font-size="5.6" stroke="#222" stroke-width="0.06">1060</text><text transform="translate(20.9,76.07) scale(0.95,1)" text-anchor="middle" font-weight="bold" font-size="5.35" stroke="#000" stroke-width="0.08">MTT026</text><text transform="translate(63.4,76.07) scale(0.946,1)" text-anchor="middle" font-size="5.6" stroke="#222" stroke-width="0.06">CC3B</text><text transform="translate(97.4,76.07) scale(0.946,1)" text-anchor="middle" font-size="5.6" stroke="#222" stroke-width="0.06">10</text><text transform="translate(20.9,83.21) scale(0.95,1)" text-anchor="middle" font-weight="bold" font-size="5.35" stroke="#000" stroke-width="0.08">MTT030</text><text transform="translate(63.4,83.21) scale(0.946,1)" text-anchor="middle" font-size="5.6" stroke="#222" stroke-width="0.06">DC1</text><text transform="translate(97.4,83.21) scale(0.946,1)" text-anchor="middle" font-size="5.6" stroke="#222" stroke-width="0.06">10</text><text transform="translate(20.9,90.34) scale(0.95,1)" text-anchor="middle" font-weight="bold" font-size="5.35" stroke="#000" stroke-width="0.08">MTT009</text><text transform="translate(63.4,90.34) scale(0.946,1)" text-anchor="middle" font-size="5.6" stroke="#222" stroke-width="0.06">BL21+G-Tf2</text><text transform="translate(97.4,90.34) scale(0.946,1)" text-anchor="middle" font-size="5.6" stroke="#222" stroke-width="0.06">6142</text><text transform="translate(20.9,97.48) scale(0.95,1)" text-anchor="middle" font-weight="bold" font-size="5.35" stroke="#000" stroke-width="0.08">MTT025</text><text transform="translate(63.4,97.48) scale(0.946,1)" text-anchor="middle" font-size="5.6" stroke="#222" stroke-width="0.06">CC3A</text><text transform="translate(97.4,97.48) scale(0.946,1)" text-anchor="middle" font-size="5.6" stroke="#222" stroke-width="0.06">10</text><text transform="translate(20.9,104.62) scale(0.95,1)" text-anchor="middle" font-weight="bold" font-size="5.35" stroke="#000" stroke-width="0.08">MTT027</text><text transform="translate(63.4,104.62) scale(0.946,1)" text-anchor="middle" font-size="5.6" stroke="#222" stroke-width="0.06">CC4A</text><text transform="translate(97.4,104.62) scale(0.946,1)" text-anchor="middle" font-size="5.6" stroke="#222" stroke-width="0.06">167</text><text transform="translate(20.9,111.75) scale(0.95,1)" text-anchor="middle" font-weight="bold" font-size="5.35" stroke="#000" stroke-width="0.08">MTT044</text><text transform="translate(63.4,111.75) scale(0.946,1)" text-anchor="middle" font-size="5.6" stroke="#222" stroke-width="0.06">BM1</text><text transform="translate(97.4,111.75) scale(0.946,1)" text-anchor="middle" font-size="5.6" stroke="#222" stroke-width="0.06">167</text><text transform="translate(20.9,118.89) scale(0.95,1)" text-anchor="middle" font-weight="bold" font-size="5.35" stroke="#000" stroke-width="0.08">MTT021</text><text transform="translate(63.4,118.89) scale(0.946,1)" text-anchor="middle" font-size="5.6" stroke="#222" stroke-width="0.06">CM4</text><text transform="translate(97.4,118.89) scale(0.946,1)" text-anchor="middle" font-size="5.6" stroke="#222" stroke-width="0.06">10</text><text transform="translate(20.9,126.02) scale(0.95,1)" text-anchor="middle" font-weight="bold" font-size="5.35" stroke="#000" stroke-width="0.08">MTT019</text><text transform="translate(63.4,126.02) scale(0.946,1)" text-anchor="middle" font-size="5.6" stroke="#222" stroke-width="0.06">CM2</text><text transform="translate(97.4,126.02) scale(0.946,1)" text-anchor="middle" font-size="5.6" stroke="#222" stroke-width="0.06">10</text><text transform="translate(20.9,133.16) scale(0.95,1)" text-anchor="middle" font-weight="bold" font-size="5.35" stroke="#000" stroke-width="0.08">MTT018</text><text transform="translate(63.4,133.16) scale(0.946,1)" text-anchor="middle" font-size="5.6" stroke="#222" stroke-width="0.06">CM1</text><text transform="translate(97.4,133.16) scale(0.946,1)" text-anchor="middle" font-size="5.6" stroke="#222" stroke-width="0.06">10</text><text transform="translate(20.9,140.30) scale(0.95,1)" text-anchor="middle" font-weight="bold" font-size="5.35" stroke="#000" stroke-width="0.08">MTT020</text><text transform="translate(63.4,140.30) scale(0.946,1)" text-anchor="middle" font-size="5.6" stroke="#222" stroke-width="0.06">CM3</text><text transform="translate(97.4,140.30) scale(0.946,1)" text-anchor="middle" font-size="5.6" stroke="#222" stroke-width="0.06">10</text><text transform="translate(20.9,147.43) scale(0.95,1)" text-anchor="middle" font-weight="bold" font-size="5.35" stroke="#000" stroke-width="0.08">MTT046</text><text transform="translate(63.4,147.43) scale(0.946,1)" text-anchor="middle" font-size="5.6" stroke="#222" stroke-width="0.06">BM3</text><text transform="translate(97.4,147.43) scale(0.946,1)" text-anchor="middle" font-size="5.6" stroke="#222" stroke-width="0.06">58</text><text transform="translate(20.9,154.57) scale(0.95,1)" text-anchor="middle" font-weight="bold" font-size="5.35" stroke="#000" stroke-width="0.08">MTT034</text><text transform="translate(63.4,154.57) scale(0.946,1)" text-anchor="middle" font-size="5.6" stroke="#222" stroke-width="0.06">DC5</text><text transform="translate(97.4,154.57) scale(0.946,1)" text-anchor="middle" font-size="5.6" stroke="#222" stroke-width="0.06">783</text><text transform="translate(20.9,161.71) scale(0.95,1)" text-anchor="middle" font-weight="bold" font-size="5.35" stroke="#000" stroke-width="0.08">MTT032</text><text transform="translate(63.4,161.71) scale(0.946,1)" text-anchor="middle" font-size="5.6" stroke="#222" stroke-width="0.06">DC3</text><text transform="translate(97.4,161.71) scale(0.946,1)" text-anchor="middle" font-size="5.6" stroke="#222" stroke-width="0.06">783</text><text transform="translate(20.9,168.84) scale(0.95,1)" text-anchor="middle" font-weight="bold" font-size="5.35" stroke="#000" stroke-width="0.08">MTT033</text><text transform="translate(63.4,168.84) scale(0.946,1)" text-anchor="middle" font-size="5.6" stroke="#222" stroke-width="0.06">DC4</text><text transform="translate(97.4,168.84) scale(0.946,1)" text-anchor="middle" font-size="5.6" stroke="#222" stroke-width="0.06">783</text><text transform="translate(20.9,175.98) scale(0.95,1)" text-anchor="middle" font-weight="bold" font-size="5.35" stroke="#000" stroke-width="0.08">MTT022</text><text transform="translate(63.4,175.98) scale(0.946,1)" text-anchor="middle" font-size="5.6" stroke="#222" stroke-width="0.06">CC1A</text><text transform="translate(97.4,175.98) scale(0.946,1)" text-anchor="middle" font-size="5.6" stroke="#222" stroke-width="0.06">88</text><text transform="translate(20.9,183.11) scale(0.95,1)" text-anchor="middle" font-weight="bold" font-size="5.35" stroke="#000" stroke-width="0.08">MTT024</text><text transform="translate(63.4,183.11) scale(0.946,1)" text-anchor="middle" font-size="5.6" stroke="#222" stroke-width="0.06">CC2B</text><text transform="translate(97.4,183.11) scale(0.946,1)" text-anchor="middle" font-size="5.6" stroke="#222" stroke-width="0.06">88</text><text transform="translate(20.9,190.25) scale(0.95,1)" text-anchor="middle" font-weight="bold" font-size="5.35" stroke="#000" stroke-width="0.08">MTT029</text><text transform="translate(63.4,190.25) scale(0.946,1)" text-anchor="middle" font-size="5.6" stroke="#222" stroke-width="0.06">CC1B</text><text transform="translate(97.4,190.25) scale(0.946,1)" text-anchor="middle" font-size="5.6" stroke="#222" stroke-width="0.06">88</text><text transform="translate(20.9,197.39) scale(0.95,1)" text-anchor="middle" font-weight="bold" font-size="5.35" stroke="#000" stroke-width="0.08">MTT047</text><text transform="translate(63.4,197.39) scale(0.946,1)" text-anchor="middle" font-size="5.6" stroke="#222" stroke-width="0.06">BA1</text><text transform="translate(97.4,197.39) scale(0.946,1)" text-anchor="middle" font-size="5.6" stroke="#222" stroke-width="0.06">88</text><text transform="translate(20.9,204.52) scale(0.95,1)" text-anchor="middle" font-weight="bold" font-size="5.35" stroke="#000" stroke-width="0.08">MTT050</text><text transform="translate(63.4,204.52) scale(0.946,1)" text-anchor="middle" font-size="5.6" stroke="#222" stroke-width="0.06">BY2</text><text transform="translate(97.4,204.52) scale(0.946,1)" text-anchor="middle" font-size="5.6" stroke="#222" stroke-width="0.06">88</text><text transform="translate(20.9,211.66) scale(0.95,1)" text-anchor="middle" font-weight="bold" font-size="5.35" stroke="#000" stroke-width="0.08">MTT048</text><text transform="translate(63.4,211.66) scale(0.946,1)" text-anchor="middle" font-size="5.6" stroke="#222" stroke-width="0.06">BA2</text><text transform="translate(97.4,211.66) scale(0.946,1)" text-anchor="middle" font-size="5.6" stroke="#222" stroke-width="0.06">88</text><text transform="translate(20.9,218.79) scale(0.95,1)" text-anchor="middle" font-weight="bold" font-size="5.35" stroke="#000" stroke-width="0.08">MTT049</text><text transform="translate(63.4,218.79) scale(0.946,1)" text-anchor="middle" font-size="5.6" stroke="#222" stroke-width="0.06">BY1</text><text transform="translate(97.4,218.79) scale(0.946,1)" text-anchor="middle" font-size="5.6" stroke="#222" stroke-width="0.06">88</text><text transform="translate(20.9,225.93) scale(0.95,1)" text-anchor="middle" font-weight="bold" font-size="5.35" stroke="#000" stroke-width="0.08">MTT028</text><text transform="translate(63.4,225.93) scale(0.946,1)" text-anchor="middle" font-size="5.6" stroke="#222" stroke-width="0.06">CC4B</text><text transform="translate(97.4,225.93) scale(0.946,1)" text-anchor="middle" font-size="5.6" stroke="#222" stroke-width="0.06">2141</text><text transform="translate(20.9,233.07) scale(0.95,1)" text-anchor="middle" font-weight="bold" font-size="5.35" stroke="#000" stroke-width="0.08">MTT012</text><text transform="translate(63.4,233.07) scale(0.946,1)" text-anchor="middle" font-size="5.6" stroke="#222" stroke-width="0.06">Congo1</text><text transform="translate(97.4,233.07) scale(0.946,1)" text-anchor="middle" font-size="5.6" stroke="#222" stroke-width="0.06">131</text><text transform="translate(20.9,240.20) scale(0.95,1)" text-anchor="middle" font-weight="bold" font-size="5.35" stroke="#000" stroke-width="0.08">MTT036</text><text transform="translate(63.4,240.20) scale(0.946,1)" text-anchor="middle" font-size="5.6" stroke="#222" stroke-width="0.06">DS1</text><text transform="translate(97.4,240.20) scale(0.946,1)" text-anchor="middle" font-size="5.6" stroke="#222" stroke-width="0.06">12</text><text transform="translate(20.9,247.34) scale(0.95,1)" text-anchor="middle" font-weight="bold" font-size="5.35" stroke="#000" stroke-width="0.08">MTT037</text><text transform="translate(63.4,247.34) scale(0.946,1)" text-anchor="middle" font-size="5.6" stroke="#222" stroke-width="0.06">DS2</text><text transform="translate(97.4,247.34) scale(0.946,1)" text-anchor="middle" font-size="5.6" stroke="#222" stroke-width="0.06">12</text><text transform="translate(20.9,254.48) scale(0.95,1)" text-anchor="middle" font-weight="bold" font-size="5.35" stroke="#000" stroke-width="0.08">MTT038</text><text transform="translate(63.4,254.48) scale(0.946,1)" text-anchor="middle" font-size="5.6" stroke="#222" stroke-width="0.06">SH2D0</text><text transform="translate(97.4,254.48) scale(0.946,1)" text-anchor="middle" font-size="5.6" stroke="#222" stroke-width="0.06">12</text><text transform="translate(20.9,261.61) scale(0.95,1)" text-anchor="middle" font-weight="bold" font-size="5.35" stroke="#000" stroke-width="0.08">MTT039</text><text transform="translate(63.4,261.61) scale(0.946,1)" text-anchor="middle" font-size="5.6" stroke="#222" stroke-width="0.06">SH2D3</text><text transform="translate(97.4,261.61) scale(0.946,1)" text-anchor="middle" font-size="5.6" stroke="#222" stroke-width="0.06">12</text><text transform="translate(20.9,268.75) scale(0.95,1)" text-anchor="middle" font-weight="bold" font-size="5.35" stroke="#000" stroke-width="0.08">MTT013</text><text transform="translate(63.4,268.75) scale(0.946,1)" text-anchor="middle" font-size="5.6" stroke="#222" stroke-width="0.06">Congo2</text><text transform="translate(97.4,268.75) scale(0.946,1)" text-anchor="middle" font-size="5.6" stroke="#222" stroke-width="0.06">12</text><text transform="translate(20.9,275.88) scale(0.95,1)" text-anchor="middle" font-weight="bold" font-size="5.35" stroke="#000" stroke-width="0.08">MTT042</text><text transform="translate(63.4,275.88) scale(0.946,1)" text-anchor="middle" font-size="5.6" stroke="#222" stroke-width="0.06">SH11D0</text><text transform="translate(97.4,275.88) scale(0.946,1)" text-anchor="middle" font-size="5.6" stroke="#222" stroke-width="0.06">12</text><text transform="translate(20.9,283.02) scale(0.95,1)" text-anchor="middle" font-weight="bold" font-size="5.35" stroke="#000" stroke-width="0.08">MTT043</text><text transform="translate(63.4,283.02) scale(0.946,1)" text-anchor="middle" font-size="5.6" stroke="#222" stroke-width="0.06">SH11D3</text><text transform="translate(97.4,283.02) scale(0.946,1)" text-anchor="middle" font-size="5.6" stroke="#222" stroke-width="0.06">12</text><text transform="translate(20.9,290.16) scale(0.95,1)" text-anchor="middle" font-weight="bold" font-size="5.35" stroke="#000" stroke-width="0.08">MTT016</text><text transform="translate(63.4,290.16) scale(0.946,1)" text-anchor="middle" font-size="5.6" stroke="#222" stroke-width="0.06">BC3</text><text transform="translate(97.4,290.16) scale(0.946,1)" text-anchor="middle" font-size="5.6" stroke="#222" stroke-width="0.06">73</text><text transform="translate(20.9,297.29) scale(0.95,1)" text-anchor="middle" font-weight="bold" font-size="5.35" stroke="#000" stroke-width="0.08">MTT017</text><text transform="translate(63.4,297.29) scale(0.946,1)" text-anchor="middle" font-size="5.6" stroke="#222" stroke-width="0.06">BC4</text><text transform="translate(97.4,297.29) scale(0.946,1)" text-anchor="middle" font-size="5.6" stroke="#222" stroke-width="0.06">73</text><text transform="translate(20.9,304.43) scale(0.95,1)" text-anchor="middle" font-weight="bold" font-size="5.35" stroke="#000" stroke-width="0.08">MTT014</text><text transform="translate(63.4,304.43) scale(0.946,1)" text-anchor="middle" font-size="5.6" stroke="#222" stroke-width="0.06">BC1</text><text transform="translate(97.4,304.43) scale(0.946,1)" text-anchor="middle" font-size="5.6" stroke="#222" stroke-width="0.06">73</text><text transform="translate(20.9,311.56) scale(0.95,1)" text-anchor="middle" font-weight="bold" font-size="5.35" stroke="#000" stroke-width="0.08">MTT015</text><text transform="translate(63.4,311.56) scale(0.946,1)" text-anchor="middle" font-size="5.6" stroke="#222" stroke-width="0.06">BC2</text><text transform="translate(97.4,311.56) scale(0.946,1)" text-anchor="middle" font-size="5.6" stroke="#222" stroke-width="0.06">73</text><text transform="translate(20.9,318.70) scale(0.95,1)" text-anchor="middle" font-weight="bold" font-size="5.35" stroke="#000" stroke-width="0.08">MTT002</text><text transform="translate(63.4,318.70) scale(0.946,1)" text-anchor="middle" font-size="5.6" stroke="#222" stroke-width="0.06">ATCC2</text><text transform="translate(97.4,318.70) scale(0.946,1)" text-anchor="middle" font-size="5.6" stroke="#222" stroke-width="0.06">73</text><text transform="translate(20.9,325.84) scale(0.95,1)" text-anchor="middle" font-weight="bold" font-size="5.35" stroke="#000" stroke-width="0.08">MTT035</text><text transform="translate(63.4,325.84) scale(0.946,1)" text-anchor="middle" font-size="5.6" stroke="#222" stroke-width="0.06">DS-Sister</text><text transform="translate(97.4,325.84) scale(0.946,1)" text-anchor="middle" font-size="5.6" stroke="#222" stroke-width="0.06">73</text><text transform="translate(20.9,332.97) scale(0.95,1)" text-anchor="middle" font-weight="bold" font-size="5.35" stroke="#000" stroke-width="0.08">MTT003</text><text transform="translate(63.4,332.97) scale(0.946,1)" text-anchor="middle" font-size="5.6" stroke="#222" stroke-width="0.06">ATCC3</text><text transform="translate(97.4,332.97) scale(0.946,1)" text-anchor="middle" font-size="5.6" stroke="#222" stroke-width="0.06">127</text><text transform="translate(20.9,340.11) scale(0.95,1)" text-anchor="middle" font-weight="bold" font-size="5.35" stroke="#000" stroke-width="0.08">MTT045</text><text transform="translate(63.4,340.11) scale(0.946,1)" text-anchor="middle" font-size="5.6" stroke="#222" stroke-width="0.06">BM2</text><text transform="translate(97.4,340.11) scale(0.946,1)" text-anchor="middle" font-size="5.6" stroke="#222" stroke-width="0.06">95</text><text transform="translate(20.9,347.25) scale(0.95,1)" text-anchor="middle" font-weight="bold" font-size="5.35" stroke="#000" stroke-width="0.08">MTT040</text><text transform="translate(63.4,347.25) scale(0.946,1)" text-anchor="middle" font-size="5.6" stroke="#222" stroke-width="0.06">SH8D0</text><text transform="translate(97.4,347.25) scale(0.946,1)" text-anchor="middle" font-size="5.6" stroke="#222" stroke-width="0.06">390</text><text transform="translate(20.9,354.38) scale(0.95,1)" text-anchor="middle" font-weight="bold" font-size="5.35" stroke="#000" stroke-width="0.08">MTT041</text><text transform="translate(63.4,354.38) scale(0.946,1)" text-anchor="middle" font-size="5.6" stroke="#222" stroke-width="0.06">SH8D3</text><text transform="translate(97.4,354.38) scale(0.946,1)" text-anchor="middle" font-size="5.6" stroke="#222" stroke-width="0.06">390</text></g></g>
<g shape-rendering="auto"><g font-family="Liberation Serif, Times New Roman, serif" font-weight="bold" font-size="8.3" fill="#111"><rect x="480.2" y="21.2" width="12.8" height="335.6" fill="url(#gv)"/><text transform="translate(509.20,24.83) scale(1.20,1)" text-anchor="middle">100</text><text transform="translate(510.40,58.30) scale(1.07,1)" text-anchor="middle">99.65</text><text transform="translate(510.40,91.77) scale(1.07,1)" text-anchor="middle">99.3</text><text transform="translate(510.40,125.24) scale(1.07,1)" text-anchor="middle">98.95</text><text transform="translate(510.40,158.71) scale(1.07,1)" text-anchor="middle">98.6</text><text transform="translate(510.40,192.18) scale(1.07,1)" text-anchor="middle">98.25</text><text transform="translate(510.40,225.65) scale(1.07,1)" text-anchor="middle">97.9</text><text transform="translate(510.40,259.12) scale(1.07,1)" text-anchor="middle">97.55</text><text transform="translate(510.40,292.59) scale(1.07,1)" text-anchor="middle">97.2</text><text transform="translate(510.40,326.06) scale(1.07,1)" text-anchor="middle">96.85</text><text transform="translate(510.40,359.53) scale(1.07,1)" text-anchor="middle">96.5</text><text transform="translate(547.6,183.2) rotate(-90)" text-anchor="middle" font-size="18.5">ANI100%</text><rect x="138.3" y="363" width="327.7" height="12.3" fill="url(#gh)"/><text transform="translate(140.20,387.3) scale(1.08,1)" text-anchor="middle">96.4</text><text transform="translate(171.60,387.3) scale(1.08,1)" text-anchor="middle">96.75</text><text transform="translate(204.00,387.3) scale(1.08,1)" text-anchor="middle">97.11</text><text transform="translate(237.20,387.3) scale(1.08,1)" text-anchor="middle">97.47</text><text transform="translate(270.00,387.3) scale(1.08,1)" text-anchor="middle">97.83</text><text transform="translate(302.50,387.3) scale(1.08,1)" text-anchor="middle">98.19</text><text transform="translate(335.90,387.3) scale(1.08,1)" text-anchor="middle">98.54</text><text transform="translate(369.10,387.3) scale(1.08,1)" text-anchor="middle">98.9</text><text transform="translate(401.80,387.3) scale(1.08,1)" text-anchor="middle">99.26</text><text transform="translate(434.70,387.3) scale(1.08,1)" text-anchor="middle">99.62</text><text transform="translate(467.40,387.3) scale(1.08,1)" text-anchor="middle">99.98</text><text x="313.5" y="408.6" text-anchor="middle" font-size="18">ANI10%</text></g></g>
</svg>
</body></html>
